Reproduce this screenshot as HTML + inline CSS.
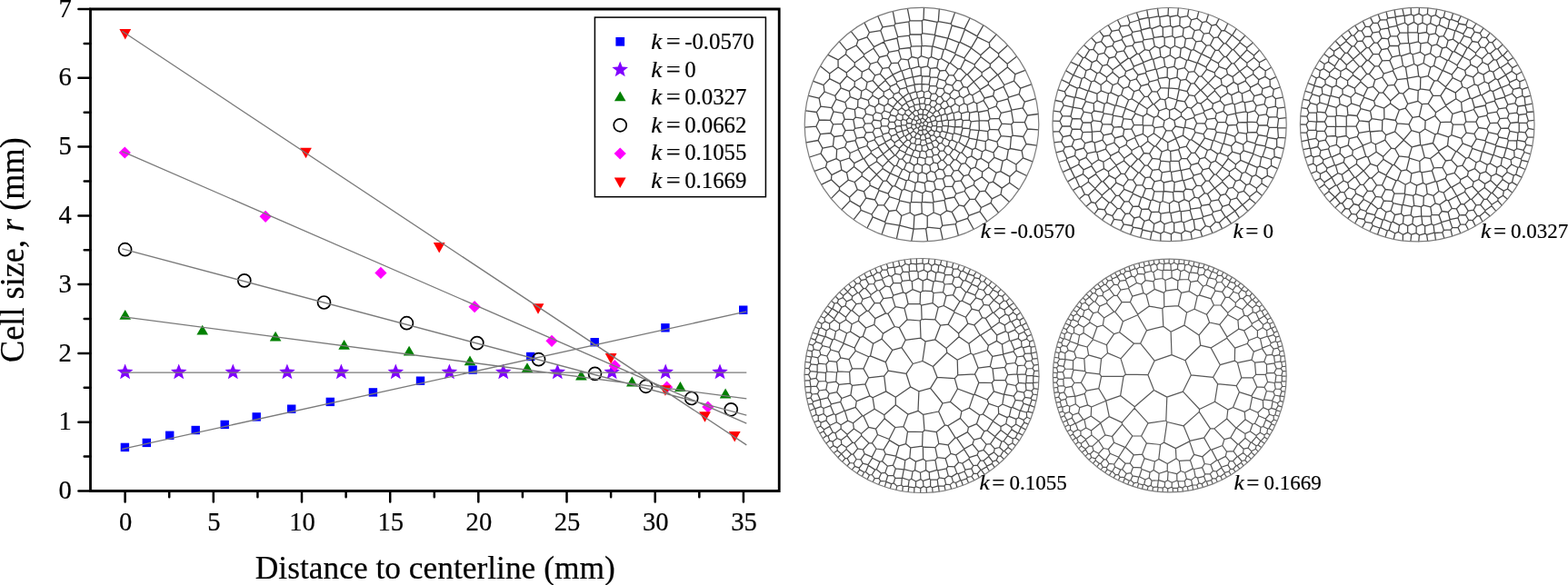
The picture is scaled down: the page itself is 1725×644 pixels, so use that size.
<!DOCTYPE html>
<html><head><meta charset="utf-8"><title>Cell size vs distance</title>
<style>html,body{margin:0;padding:0;background:#fff;overflow:hidden;width:1725px;height:644px;}svg{display:block;}text{stroke:#000;stroke-width:0.2px;}</style></head>
<body>
<svg width="1725" height="644" viewBox="0 0 1725 644">
<rect width="1725" height="644" fill="#fff"/>
<path d="M1014.5 222.4L1026.6 223.1M1027.2 234.0L1026.6 223.1M1027.2 234.0L1020.2 238.0M1014.5 222.4L1013.8 222.9M1020.2 238.0L1014.3 235.0M1013.8 222.9L1014.3 235.0M1018.6 251.7L1005.1 252.1M1018.6 251.7L1020.5 265.4M1002.8 265.1L1005.0 252.2M1020.2 238.0L1020.2 250.2M1020.2 250.2L1018.6 251.7M1014.3 235.0L1005.9 237.3M1005.9 237.3L1005.1 252.1M1001.2 234.0L1005.9 237.3M989.7 248.1L991.8 237.5M991.8 237.5L1001.2 234.0M989.7 248.1L1005.0 252.2M1122.7 97.2L1115.5 89.1M1121.1 103.7L1122.7 97.2M1121.1 103.7L1109.6 107.2M1109.6 107.2L1104.1 95.4M1104.1 95.4L1104.8 93.5M1104.8 93.5L1115.5 89.1M1122.7 97.2L1134.6 92.8M1127.8 77.3L1116.9 81.7M1115.5 89.1L1116.9 81.7M1020.2 250.2L1034.5 251.6M1037.1 263.5L1034.5 251.6M1034.6 236.8L1027.2 234.0M1034.6 236.8L1036.8 248.4M1036.8 248.4L1034.5 251.6M1014.5 222.4L1014.9 212.6M1027.2 222.4L1026.6 223.1M1027.2 222.4L1025.4 211.6M1025.4 211.6L1018.2 210.2M1014.9 212.6L1018.2 210.2M998.4 9.6L1001.0 22.6M1016.0 21.5L1014.4 22.8M1016.5 8.6L1016.0 21.5M1001.0 22.6L1014.4 22.8M1016.0 21.5L1031.1 24.4M1028.5 38.4L1014.7 36.7M1028.5 38.4L1031.1 24.4M1014.4 22.8L1014.7 36.7M939.2 241.6L947.2 231.4M959.0 236.0L947.2 231.4M959.0 236.0L960.2 238.9M960.2 238.9L954.1 250.8M1098.5 142.9L1102.1 136.2M1098.5 142.9L1088.9 142.3M1088.9 142.3L1087.3 133.0M1099.2 130.4L1089.1 130.8M1099.2 130.4L1102.1 136.2M1087.3 133.0L1089.1 130.8M1114.8 134.5L1112.6 121.8M1112.7 136.8L1114.8 134.5M1101.4 124.3L1112.6 121.8M1112.7 136.8L1102.1 136.2M1101.4 124.3L1099.2 130.4M1112.7 136.8L1114.1 149.2M1114.1 149.2L1112.4 150.6M1098.5 142.9L1101.2 149.6M1101.2 149.6L1112.4 150.6M1034.6 236.8L1041.5 232.0M1027.2 222.4L1039.0 220.3M1041.5 232.0L1039.0 220.3M1036.4 209.3L1029.3 208.2M1025.4 211.6L1029.3 208.2M1036.4 209.3L1039.9 219.0M1039.9 219.0L1039.0 220.3M1001.0 22.6L999.9 23.9M999.9 23.9L985.0 26.2M985.0 26.2L982.3 12.6M1038.2 54.7L1026.0 50.8M1038.2 54.7L1035.5 64.5M1024.5 62.6L1025.6 51.1M1024.5 62.6L1032.4 65.8M1025.6 51.1L1026.0 50.8M1032.4 65.8L1035.5 64.5M1042.7 42.2L1039.6 53.9M1039.6 53.9L1038.2 54.7M1028.8 39.0L1042.7 42.2M1028.8 39.0L1026.0 50.8M1121.1 103.7L1127.2 112.2M1139.3 108.6L1127.2 112.2M1109.6 107.2L1108.8 108.8M1108.8 108.8L1112.9 121.2M1112.9 121.2L1125.2 118.8M1127.2 112.2L1125.2 118.8M1086.9 121.4L1076.4 123.5M1086.9 121.4L1089.1 130.8M1087.3 133.0L1077.3 132.7M1076.4 123.5L1077.3 132.7M1059.7 107.8L1066.7 103.4M1059.7 107.8L1060.7 113.8M1064.0 115.5L1060.7 113.8M1064.0 115.5L1071.5 112.2M1071.5 112.2L1069.7 104.8M1066.7 103.4L1069.7 104.8M887.0 156.9L900.1 154.5M900.1 154.5L904.9 163.1M890.6 173.0L903.0 169.0M904.9 163.1L903.0 169.0M944.0 44.3L942.1 50.0M944.0 44.3L953.9 40.8M942.1 50.0L950.6 59.8M953.9 40.8L961.5 51.6M950.6 59.8L961.0 53.3M961.0 53.3L961.5 51.6M936.3 34.7L944.0 44.3M956.4 35.7L951.0 25.1M956.4 35.7L953.9 40.8M897.9 139.2L902.5 147.7M902.5 147.7L900.1 154.5M897.9 139.2L885.5 140.1M1036.8 248.4L1051.3 246.7M1051.3 246.7L1054.3 259.1M909.9 178.6L903.0 169.0M916.4 160.9L920.6 164.5M916.4 160.9L904.9 163.1M909.9 178.6L920.1 174.6M920.6 164.5L920.1 174.6M902.5 147.7L913.8 146.5M913.4 132.4L901.2 132.0M897.9 139.2L901.2 132.0M913.4 132.4L916.5 136.9M913.8 146.5L916.5 136.9M916.4 160.9L917.6 150.5M913.8 146.5L917.6 150.5M1013.8 222.9L1002.5 222.4M1001.2 234.0L1001.2 223.4M1001.2 223.4L1002.5 222.4M991.8 237.5L986.0 231.4M986.0 231.4L989.7 220.9M1001.2 223.4L989.7 220.9M1050.0 217.0L1039.9 219.0M1051.8 213.3L1050.0 217.0M1051.8 213.3L1047.8 205.1M1036.4 209.3L1039.8 205.3M1039.8 205.3L1047.8 205.1M1062.4 207.6L1061.2 210.5M1062.4 207.6L1057.2 198.9M1051.8 213.3L1061.2 210.5M1057.2 198.9L1050.4 199.9M1047.8 205.1L1050.4 199.9M967.5 63.0L976.0 60.8M967.5 63.0L961.0 53.3M972.5 46.2L961.5 51.6M972.5 46.2L977.9 57.4M977.9 57.4L976.0 60.8M965.3 68.0L970.9 75.3M967.5 63.0L965.3 68.0M980.6 69.6L976.0 60.8M980.6 69.6L977.7 74.3M977.7 74.3L970.9 75.3M962.4 117.9L956.3 115.6M962.4 117.9L966.8 114.1M966.8 114.1L966.5 109.1M966.5 109.1L960.0 105.3M960.0 105.3L955.2 110.4M955.2 110.4L956.3 115.6M960.3 127.1L963.5 123.6M963.5 123.6L962.4 117.9M951.5 120.5L956.3 115.6M952.7 125.3L951.5 120.5M952.7 125.3L960.3 127.1M959.8 102.3L966.2 96.1M959.8 102.3L952.6 97.7M952.6 97.7L954.1 90.4M966.2 95.5L966.2 96.1M966.2 95.5L960.2 88.7M960.2 88.7L954.1 90.4M960.0 105.3L959.8 102.3M972.1 105.2L966.5 109.1M972.3 101.3L972.1 105.2M972.3 101.3L966.2 96.1M979.4 95.1L978.7 97.9M972.3 101.3L978.7 97.9M974.0 88.5L966.2 95.5M974.0 88.5L979.4 95.1M968.2 81.3L974.1 87.8M974.0 88.5L974.1 87.8M962.6 82.9L968.2 81.3M962.6 82.9L960.2 88.7M999.9 23.9L1001.2 38.0M1014.7 36.7L1013.4 37.9M1001.2 38.0L1013.4 37.9M1028.8 39.0L1028.5 38.4M1025.6 51.1L1014.2 50.3M1013.4 37.9L1014.2 50.3M1014.0 92.4L1014.4 84.0M1014.0 92.4L1006.1 93.0M1006.1 93.0L1004.4 84.8M1004.4 84.8L1013.3 83.0M1013.3 83.0L1014.4 84.0M1101.2 149.6L1096.9 156.1M1112.4 150.6L1111.3 163.5M1096.9 156.1L1098.0 161.0M1111.3 163.5L1109.3 164.9M1098.0 161.0L1109.3 164.9M1050.4 199.9L1046.3 193.4M1049.3 188.2L1046.3 193.4M1049.3 188.2L1054.2 187.3M1057.2 198.9L1060.3 193.7M1054.2 187.3L1060.3 193.7M1071.3 203.5L1072.0 199.6M1062.4 207.6L1071.3 203.5M1072.0 199.6L1065.5 192.3M1060.3 193.7L1065.5 192.3M983.8 27.9L971.0 29.8M983.8 27.9L987.7 40.6M986.9 42.0L987.7 40.6M986.9 42.0L972.9 45.4M972.9 45.4L968.8 33.6M968.8 33.6L971.0 29.8M965.9 18.0L971.0 29.8M985.0 26.2L983.8 27.9M1001.2 38.0L1000.2 39.2M1000.2 39.2L987.7 40.6M972.5 46.2L972.9 45.4M956.4 35.7L968.8 33.6M1142.4 142.9L1130.4 142.0M1130.4 142.0L1127.3 134.6M1127.3 134.6L1130.4 127.0M1130.4 127.0L1142.0 125.5M1125.7 150.5L1114.1 149.2M1125.7 150.5L1130.4 142.0M1114.8 134.5L1127.3 134.6M1125.2 118.8L1130.4 127.0M1112.6 121.8L1112.9 121.2M1060.7 113.8L1055.4 116.7M1055.0 122.7L1057.6 124.9M1055.4 116.7L1055.0 122.7M1064.0 115.5L1065.0 122.8M1057.6 124.9L1065.0 122.8M1074.6 114.0L1071.5 112.2M1075.3 122.5L1074.6 114.0M1075.3 122.5L1066.7 124.1M1065.0 122.8L1066.7 124.1M1066.3 132.1L1066.7 124.1M1066.3 132.1L1068.3 133.9M1075.3 122.5L1076.4 123.5M1068.3 133.9L1077.1 132.9M903.8 203.2L914.5 197.8M914.9 192.7L908.4 184.0M914.9 192.7L914.5 197.8M908.4 184.0L896.1 188.3M909.9 178.6L908.4 184.0M965.3 68.0L957.5 70.4M950.6 59.8L950.3 61.8M950.3 61.8L957.5 70.4M962.6 82.9L955.8 75.5M970.9 75.3L968.2 81.3M957.5 70.4L955.8 75.5M898.4 123.5L901.2 132.0M898.4 123.5L886.4 121.9M940.3 69.1L940.2 72.5M940.3 69.1L950.3 61.8M955.8 75.5L948.4 79.2M940.2 72.5L948.4 79.2M954.1 90.4L947.7 85.3M947.7 85.3L948.4 79.2M923.4 45.9L931.3 55.4M931.3 55.4L930.4 59.7M930.4 59.7L922.0 65.9M922.0 65.9L910.9 60.4M942.1 50.0L931.3 55.4M940.3 69.1L930.4 59.7M1041.5 232.0L1047.2 233.4M1050.0 217.0L1055.1 225.9M1047.2 233.4L1055.1 225.9M1051.3 246.7L1052.6 244.4M1047.2 233.4L1052.6 244.4M1071.1 252.2L1064.5 240.4M1052.6 244.4L1064.5 240.4M947.2 231.4L946.2 227.6M946.2 227.6L935.1 221.1M935.1 221.1L926.0 230.7M920.1 174.6L924.2 177.3M914.9 192.7L925.9 187.1M924.2 177.3L925.9 187.1M977.1 213.2L978.5 216.7M977.1 213.2L967.0 209.7M978.5 216.7L972.5 225.9M967.0 209.7L962.5 220.0M962.5 220.0L965.9 225.7M965.9 225.7L972.5 225.9M989.7 220.9L989.2 220.0M989.2 220.0L978.5 216.7M986.0 231.4L978.0 232.5M978.0 232.5L972.5 225.9M950.4 210.8L952.7 218.0M952.7 218.0L962.5 220.0M957.2 204.1L950.4 210.8M966.4 208.3L957.2 204.1M966.4 208.3L967.0 209.7M959.0 236.0L965.9 225.7M946.2 227.6L952.7 218.0M973.6 244.4L960.2 238.9M973.6 244.4L978.0 232.5M924.2 177.3L934.5 174.0M931.5 190.1L939.5 183.6M931.5 190.1L925.9 187.1M934.5 174.0L939.8 179.7M939.8 179.7L939.5 183.6M981.8 205.2L984.5 204.6M981.8 205.2L977.1 213.2M989.2 220.0L992.3 209.5M984.5 204.6L992.3 209.5M1018.2 210.2L1017.2 201.5M1029.3 208.2L1027.4 200.1M1017.2 201.5L1020.2 199.0M1027.4 200.1L1020.2 199.0M1096.9 156.1L1087.1 153.4M1088.9 142.3L1086.7 144.6M1087.1 153.4L1086.7 144.6M1077.1 132.9L1077.3 143.3M1086.7 144.6L1077.3 143.3M1049.0 124.5L1055.0 122.7M1057.6 124.9L1057.6 131.0M1049.0 124.5L1049.9 131.6M1049.9 131.6L1050.8 132.3M1050.8 132.3L1057.6 131.0M1066.3 132.1L1059.3 132.7M1059.3 132.7L1057.6 131.0M977.9 57.4L988.5 55.4M986.9 42.0L989.5 53.8M989.5 53.8L988.5 55.4M980.6 69.6L988.0 69.1M988.0 69.1L991.3 64.9M988.5 55.4L991.3 64.9M972.8 116.7L976.7 114.1M972.8 116.7L972.8 122.0M976.7 114.1L982.6 117.9M972.8 122.0L979.1 124.2M979.1 124.2L982.8 118.9M982.6 117.9L982.8 118.9M977.4 109.5L976.7 114.1M977.4 109.5L972.1 105.2M966.8 114.1L972.8 116.7M969.7 125.1L972.8 122.0M963.5 123.6L969.7 125.1M977.4 109.5L982.4 107.0M982.6 117.9L987.3 112.0M982.4 107.0L987.3 112.0M978.7 97.9L983.5 103.6M982.4 107.0L983.5 103.6M977.7 74.3L982.2 82.2M988.0 69.1L991.5 77.9M991.5 77.9L982.2 82.2M974.1 87.8L982.2 82.4M1013.1 74.5L1013.3 83.0M1010.9 73.1L1002.3 75.7M1013.1 74.5L1010.9 73.1M1004.4 84.8L1004.2 84.6M1004.2 84.6L1002.3 75.7M991.5 77.9L992.1 78.1M991.3 64.9L999.0 65.9M999.0 65.9L1001.0 75.0M1001.0 75.0L992.1 78.1M1116.9 81.7L1108.4 73.9M1104.8 93.5L1097.8 82.4M1097.8 82.4L1108.4 73.9M1118.4 62.2L1108.2 70.2M1108.2 70.2L1108.4 73.9M1044.1 69.6L1035.5 64.5M1044.1 69.6L1040.2 77.3M1032.4 65.8L1030.7 74.5M1040.2 77.3L1034.0 78.0M1030.7 74.5L1034.0 78.0M1020.4 72.8L1023.4 75.4M1021.8 64.3L1020.4 72.8M1021.8 64.3L1024.5 62.6M1030.7 74.5L1023.4 75.4M1013.1 74.5L1020.4 72.8M1014.4 84.0L1022.6 83.9M1023.4 75.4L1022.6 83.9M1063.2 81.9L1056.7 75.5M1063.2 81.9L1056.8 89.2M1049.1 83.0L1052.2 88.4M1049.1 83.0L1054.0 75.9M1054.0 75.9L1056.7 75.5M1056.8 89.2L1052.2 88.4M1072.1 71.0L1072.5 73.5M1064.3 82.0L1072.5 73.5M1061.5 65.7L1056.7 75.5M1061.5 65.7L1072.1 71.0M1064.3 82.0L1063.2 81.9M1043.9 82.7L1040.2 77.3M1044.1 69.6L1045.3 69.3M1043.9 82.7L1049.1 83.0M1045.3 69.3L1054.0 75.9M1125.7 150.5L1129.0 158.5M1140.4 160.1L1129.0 158.5M1111.3 163.5L1124.1 165.9M1129.0 158.5L1124.1 165.9M974.2 245.6L970.1 257.9M974.2 245.6L989.5 248.2M989.5 248.2L986.4 262.6M973.6 244.4L974.2 245.6M1077.3 143.3L1076.8 143.6M1074.9 153.9L1076.8 143.6M1087.1 153.4L1084.2 155.7M1084.2 155.7L1074.9 153.9M1078.3 98.6L1087.3 93.1M1078.3 98.6L1071.2 90.1M1080.1 83.1L1087.4 90.5M1080.1 83.1L1071.2 89.9M1087.4 90.5L1087.3 93.1M1069.7 104.8L1078.1 99.7M1078.1 99.7L1078.3 98.6M1064.1 96.4L1066.7 103.4M1064.1 96.4L1071.2 90.1M1080.2 79.8L1089.2 73.6M1097.4 82.3L1089.2 73.6M1080.2 79.8L1080.1 83.1M1097.4 82.3L1087.4 90.5M1080.2 79.8L1072.5 73.5M1064.3 82.0L1071.2 89.9M1093.8 99.8L1087.3 93.1M1104.1 95.4L1093.8 99.8M1097.8 82.4L1097.4 82.3M1059.8 95.5L1056.8 89.2M1059.8 95.5L1064.1 96.4M1092.6 105.5L1083.1 108.0M1092.6 105.5L1097.3 112.1M1087.7 120.0L1082.0 110.7M1087.7 120.0L1096.0 116.8M1082.0 110.7L1083.1 108.0M1097.3 112.1L1096.0 116.8M1078.1 99.7L1083.1 108.0M1093.8 99.8L1092.6 105.5M1108.8 108.8L1097.3 112.1M1074.6 114.0L1082.0 110.7M1086.9 121.4L1087.7 120.0M1101.4 124.3L1096.0 116.8M1065.8 237.3L1060.5 227.0M1065.8 237.3L1078.0 232.9M1060.5 227.0L1066.9 219.3M1078.0 232.9L1079.4 228.5M1079.4 228.5L1072.7 219.3M1066.9 219.3L1072.7 219.3M1055.1 225.9L1060.5 227.0M1064.5 240.4L1065.8 237.3M1085.7 243.7L1078.0 232.9M1061.2 210.5L1066.9 219.3M1071.3 203.5L1077.8 210.9M1077.8 210.9L1072.7 219.3M934.5 217.3L923.5 209.2M934.5 217.3L943.3 208.7M943.3 208.7L940.2 200.5M923.5 206.3L923.5 209.2M923.5 206.3L933.2 198.2M940.2 200.5L933.2 198.2M935.1 221.1L934.5 217.3M914.5 218.4L923.5 209.2M950.4 210.8L943.3 208.7M957.2 204.1L956.7 200.1M948.2 193.7L956.7 200.1M948.2 193.7L940.2 200.5M914.5 197.8L923.5 206.3M931.5 190.1L933.2 198.2M948.3 190.6L939.5 183.6M948.2 193.7L948.3 190.6M966.4 208.3L971.6 199.4M956.7 200.1L964.3 192.2M971.6 199.4L964.3 192.2M981.8 205.2L975.3 198.8M971.6 199.4L975.3 198.8M969.7 125.1L971.0 130.2M971.0 130.2L968.8 133.2M960.3 127.1L961.0 132.0M961.0 132.0L968.8 133.2M920.6 164.5L929.5 161.9M934.5 174.0L935.2 168.5M929.5 161.9L935.2 168.5M917.6 150.5L927.2 149.2M927.2 149.2L931.5 156.5M929.5 161.9L931.5 156.5M916.5 136.9L926.4 136.4M927.2 149.2L930.0 143.6M930.0 143.6L926.4 136.4M930.0 143.6L939.3 143.1M931.5 156.5L940.9 154.6M940.9 154.6L942.3 152.1M942.3 152.1L939.3 143.1M979.1 124.2L979.7 126.5M971.0 130.2L977.1 131.2M977.1 131.2L979.7 126.5M984.5 204.6L988.8 195.3M992.3 209.5L994.7 208.4M988.8 195.3L997.2 198.9M994.7 208.4L997.2 198.9M1002.5 222.4L1003.4 211.5M994.7 208.4L1003.4 211.5M1014.9 212.6L1006.1 209.6M1006.1 209.6L1003.4 211.5M1027.4 200.1L1030.6 196.7M1039.8 205.3L1037.4 196.8M1030.6 196.7L1037.4 196.8M1046.3 193.4L1040.2 193.7M1040.2 193.7L1037.4 196.8M1002.4 157.7L1000.7 154.6M1003.4 151.0L1000.7 154.6M1006.3 151.1L1003.4 151.0M1006.3 151.1L1007.8 152.8M1002.4 157.7L1006.5 158.1M1007.8 152.8L1006.5 158.1M1002.4 157.7L999.8 162.2M1006.8 165.1L1005.4 165.8M999.8 162.2L1005.4 165.8M1006.8 165.1L1008.1 159.6M1006.5 158.1L1008.1 159.6M1002.6 51.1L1013.7 50.7M1002.6 51.1L1001.4 52.5M1001.4 52.5L1003.0 62.5M1013.7 50.7L1013.5 61.6M1003.0 62.5L1009.7 64.2M1013.5 61.6L1009.7 64.2M1000.2 39.2L1002.6 51.1M1014.2 50.3L1013.7 50.7M989.5 53.8L1001.4 52.5M999.0 65.9L1003.0 62.5M1021.8 64.3L1013.5 61.6M1001.0 75.0L1002.3 75.7M1010.9 73.1L1009.7 64.2M983.5 103.6L988.8 101.6M988.8 101.6L993.3 106.9M993.3 106.9L987.5 112.0M1078.8 60.8L1088.9 51.4M1078.8 60.8L1078.9 62.6M1078.9 62.6L1089.4 70.5M1089.4 70.5L1098.8 62.1M1088.9 51.4L1098.5 58.9M1098.8 62.1L1098.5 58.9M1072.1 71.0L1078.9 62.6M1089.2 73.6L1089.4 70.5M1108.2 70.2L1098.8 62.1M1088.2 47.0L1088.9 51.4M1095.9 38.1L1088.2 47.0M1108.4 49.9L1098.5 58.9M1043.9 82.7L1039.9 89.1M1039.9 89.1L1032.4 86.9M1034.0 78.0L1031.4 85.4M1032.4 86.9L1031.4 85.4M1022.6 83.9L1023.5 84.9M1031.4 85.4L1023.5 84.9M1012.4 131.5L1013.4 134.8M1015.7 135.2L1013.4 134.8M1012.4 131.5L1014.9 130.1M1015.7 135.2L1018.1 132.9M1018.1 132.9L1018.1 132.5M1014.9 130.1L1018.1 132.5M1124.1 165.9L1125.5 173.9M1125.5 173.9L1135.8 177.9M1061.9 179.6L1064.1 173.9M1061.9 179.6L1068.1 185.8M1075.2 176.1L1072.9 184.2M1075.2 176.1L1068.7 171.9M1068.7 171.9L1064.1 173.9M1068.1 185.8L1072.9 184.2M1054.2 187.3L1057.6 180.5M1065.5 192.3L1068.1 185.8M1057.6 180.5L1061.9 179.6M1072.0 199.6L1080.3 194.8M1080.3 194.8L1080.7 189.2M1080.7 189.2L1072.9 184.2M1045.0 155.2L1039.6 152.1M1038.0 152.6L1039.6 152.1M1038.0 152.6L1035.9 157.4M1043.2 160.3L1045.0 155.2M1043.2 160.3L1040.1 161.4M1040.1 161.4L1035.9 157.4M1050.5 13.9L1046.1 26.2M1046.1 26.2L1032.3 23.6M1032.3 23.6L1033.3 10.1M1031.1 24.4L1032.3 23.6M1075.4 40.8L1088.2 47.0M1075.4 40.8L1068.5 52.6M1078.8 60.8L1068.5 52.9M1061.5 65.7L1060.8 63.8M1068.5 52.9L1060.8 63.8M1045.3 69.3L1051.2 59.9M1060.8 63.8L1051.2 59.9M1039.6 53.9L1050.7 58.7M1050.7 58.7L1051.2 59.9M1050.7 58.7L1055.3 46.8M1042.9 42.1L1055.3 46.8M1046.1 26.2L1047.3 28.0M1042.9 42.1L1047.3 28.0M1068.5 52.6L1056.1 46.4M1055.3 46.8L1056.1 46.4M1081.8 27.9L1075.0 39.9M1075.0 39.9L1061.4 32.4M1067.0 20.0L1061.1 31.9M1061.1 31.9L1061.4 32.4M1075.4 40.8L1075.0 39.9M1056.1 46.4L1061.4 32.4M1047.3 28.0L1061.1 31.9M889.5 105.4L901.1 108.2M898.4 123.5L902.9 117.1M902.9 117.1L901.1 108.2M975.3 198.8L979.3 190.9M988.7 194.8L988.8 195.3M988.7 194.8L979.6 190.8M996.4 169.4L1002.8 171.6M996.4 169.4L992.6 174.9M1002.8 171.6L1000.6 178.9M992.6 174.9L997.2 179.7M1000.6 178.9L997.2 179.7M996.0 168.2L996.4 169.4M996.0 168.2L998.7 162.6M1003.1 171.5L1005.4 165.8M998.7 162.6L999.8 162.2M1003.1 171.5L1002.8 171.6M1009.6 174.2L1003.1 171.5M1005.7 182.1L1009.3 180.1M1009.3 180.1L1009.6 174.2M1005.7 182.1L1000.6 178.9M998.7 162.6L993.7 158.7M1000.7 154.6L998.1 154.1M998.1 154.1L993.7 158.1M993.7 158.7L993.7 158.1M989.5 165.0L989.3 163.2M989.5 165.0L996.0 168.2M993.7 158.7L989.3 163.2M1008.4 146.9L1004.9 144.3M1008.4 146.9L1006.3 151.1M1003.4 151.0L1001.3 147.1M1001.3 147.1L1004.9 144.3M964.5 177.8L955.9 183.3M964.5 177.8L971.0 183.4M964.3 192.0L971.1 185.6M964.3 192.0L955.8 183.8M955.8 183.8L955.9 183.3M971.0 183.4L971.1 185.6M979.3 190.9L971.1 185.6M948.3 190.6L955.8 183.8M940.3 120.7L943.6 117.8M951.5 120.5L943.6 117.8M952.7 125.3L949.3 130.4M940.3 120.7L941.2 129.1M941.2 129.1L949.3 130.4M929.2 131.2L938.8 131.7M929.2 131.2L926.4 136.4M939.3 143.1L940.6 141.3M938.8 131.7L940.6 141.3M952.8 146.0L949.6 139.8M952.8 146.0L960.2 145.3M958.8 135.6L962.2 141.7M958.8 135.6L951.6 136.1M951.6 136.1L949.6 139.8M960.2 145.3L962.2 141.7M950.6 151.0L942.3 152.1M950.6 151.0L952.8 146.0M940.6 141.3L949.6 139.8M969.8 138.9L968.2 140.9M968.2 140.9L962.2 141.7M968.8 133.2L969.8 138.9M961.0 132.0L958.8 135.6M949.3 130.4L951.6 136.1M941.2 129.1L938.8 131.7M977.1 131.2L978.5 134.1M969.8 138.9L976.6 138.8M978.5 134.1L976.6 138.8M999.3 198.0L1007.2 201.4M999.3 198.0L1001.1 190.1M1010.2 191.4L1004.8 188.5M1010.2 191.4L1009.6 199.9M1009.6 199.9L1007.2 201.4M1004.8 188.5L1001.1 190.1M1006.1 209.6L1007.2 201.4M997.2 198.9L999.3 198.0M988.7 194.8L992.7 186.7M994.5 186.2L992.7 186.7M994.5 186.2L1001.1 190.1M1014.3 189.6L1014.6 182.3M1009.3 180.1L1014.6 182.3M1005.7 182.1L1004.8 188.5M1014.3 189.6L1010.2 191.4M1014.3 189.6L1019.2 191.6M1020.2 199.0L1019.2 191.6M1017.2 201.5L1009.6 199.9M994.5 186.2L997.2 179.7M1019.2 191.6L1023.9 188.3M1014.6 182.3L1018.1 180.3M1018.1 180.3L1022.8 182.2M1022.8 182.2L1023.9 188.3M1030.6 196.7L1028.4 189.8M1028.4 189.8L1023.9 188.3M1014.7 143.5L1015.4 147.7M1014.7 143.5L1011.1 143.3M1009.4 146.6L1011.1 143.3M1009.4 146.6L1013.0 149.1M1013.0 149.1L1015.4 147.7M1008.4 146.9L1009.4 146.6M1012.2 152.8L1007.8 152.8M1012.2 152.8L1013.0 149.1M1034.2 145.9L1033.9 149.9M1038.0 152.6L1033.9 149.9M1034.2 145.9L1036.4 144.3M1039.6 152.1L1041.6 145.9M1036.4 144.3L1041.6 145.9M1010.9 108.4L1009.4 107.5M1011.8 114.4L1010.9 108.4M1011.6 114.7L1011.8 114.4M1005.9 115.6L1011.6 114.7M1005.9 115.6L1003.5 110.2M1003.5 110.2L1009.4 107.5M995.0 87.1L997.6 95.3M994.9 87.0L986.7 90.1M997.6 95.3L997.1 96.3M997.1 96.3L990.1 98.1M990.1 98.1L986.1 92.2M986.1 92.2L986.7 90.1M1004.2 84.6L995.0 87.1M992.1 78.1L994.9 87.0M1005.9 93.3L1006.1 93.0M1005.9 93.3L997.6 95.3M982.2 82.4L986.7 90.1M988.8 101.6L990.1 98.1M979.4 95.1L986.1 92.2M1012.4 131.5L1011.3 131.2M1008.6 135.6L1011.7 136.4M1013.4 134.8L1011.7 136.4M1008.6 135.6L1008.3 133.3M1008.3 133.3L1011.3 131.2M1012.5 119.7L1011.6 114.7M1005.9 115.6L1005.4 116.5M1012.5 119.7L1009.5 121.9M1005.4 116.5L1006.9 121.3M1009.5 121.9L1006.9 121.3M1059.8 95.5L1054.7 100.3M1059.7 107.8L1056.0 105.6M1054.7 100.3L1056.0 105.6M1023.5 84.9L1022.1 93.1M1022.1 93.1L1014.1 92.5M1005.9 93.3L1007.2 100.9M1007.2 100.9L1008.4 101.6M1008.4 101.6L1014.2 99.9M1014.1 92.5L1014.2 99.9M1014.9 130.1L1015.5 126.2M1018.1 132.5L1020.8 129.1M1020.8 129.1L1019.4 126.7M1019.4 126.7L1015.5 126.2M1009.5 121.9L1010.8 125.9M1010.8 125.9L1015.2 126.0M1012.5 119.7L1015.6 121.1M1015.2 126.0L1015.6 121.1M1010.8 125.9L1009.6 127.4M1011.3 131.2L1009.6 127.4M1015.2 126.0L1015.5 126.2M1018.6 115.5L1016.9 113.9M1011.8 114.4L1016.9 113.9M1018.6 115.5L1017.6 120.1M1017.6 120.1L1015.6 121.1M1125.5 173.9L1117.9 181.0M1109.3 164.9L1107.6 175.2M1117.9 181.0L1107.6 175.2M1079.4 228.5L1090.1 223.4M1098.4 234.0L1090.1 223.4M1079.1 174.3L1087.7 179.6M1079.1 174.3L1080.7 167.0M1084.2 164.8L1080.7 167.0M1084.2 164.8L1092.9 168.0M1087.7 179.6L1093.9 173.3M1092.9 168.0L1093.9 173.3M1080.7 189.2L1087.6 184.3M1087.6 184.3L1087.7 179.6M1075.2 176.1L1079.1 174.3M1072.9 163.2L1080.7 167.0M1069.8 164.7L1072.9 163.2M1069.8 164.7L1068.7 171.9M1072.9 163.2L1074.9 153.9M1084.2 155.7L1084.2 164.8M1098.0 161.0L1092.9 168.0M1107.6 175.2L1103.2 177.2M1103.2 177.2L1093.9 173.3M1044.6 170.4L1049.3 176.0M1044.6 170.4L1048.6 164.7M1055.9 168.3L1050.1 164.4M1055.9 168.3L1051.9 175.7M1051.9 175.7L1049.3 176.0M1048.6 164.7L1050.1 164.4M1043.2 160.3L1048.6 164.7M1040.1 161.4L1038.2 165.8M1042.0 170.4L1038.2 165.8M1042.0 170.4L1044.6 170.4M1058.0 167.8L1055.9 168.3M1064.1 173.9L1058.0 167.8M1057.6 180.5L1051.9 175.7M1049.3 188.2L1044.9 181.7M1044.9 181.7L1049.3 176.0M1050.1 164.4L1053.1 157.0M1045.0 155.2L1047.4 154.1M1053.1 157.0L1047.4 154.1M1042.0 145.8L1041.6 145.9M1042.0 145.8L1048.3 147.7M1047.4 154.1L1048.3 147.7M947.7 85.3L940.3 89.8M940.2 72.5L931.2 79.9M940.3 89.8L931.7 83.8M931.2 79.9L931.7 83.8M922.0 65.9L922.1 74.0M931.2 79.9L922.1 74.0M902.7 72.9L912.7 81.0M922.1 74.0L912.7 81.0M934.3 100.4L940.1 95.1M934.3 100.4L935.3 106.6M935.3 106.6L943.9 109.9M940.1 95.1L947.9 100.2M947.9 100.2L946.9 107.7M946.9 107.7L943.9 109.9M952.6 97.7L947.9 100.2M940.3 89.8L940.1 95.1M955.2 110.4L946.9 107.7M943.6 117.8L943.9 109.9M929.7 112.6L931.6 118.9M929.7 112.6L919.9 109.3M919.9 109.3L914.9 118.6M927.2 124.7L931.6 118.9M927.2 124.7L917.0 122.8M917.0 122.8L914.9 118.6M935.3 106.6L929.7 112.6M940.3 120.7L931.6 118.9M929.2 131.2L927.2 124.7M913.4 132.4L917.0 122.8M902.9 117.1L914.9 118.6M1000.4 146.9L998.0 142.7M1000.4 146.9L996.0 150.0M998.0 142.7L992.8 144.3M992.8 144.3L994.5 149.5M996.0 150.0L994.5 149.5M998.1 154.1L996.0 150.0M1001.3 147.1L1000.4 146.9M1010.0 141.2L1008.2 140.5M1010.0 141.2L1011.1 143.3M1004.9 144.3L1004.9 142.7M1004.9 142.7L1008.2 140.5M1012.3 138.7L1010.0 141.2M1012.3 138.7L1011.7 136.4M1008.6 135.6L1007.3 137.3M1008.2 140.5L1007.3 137.3M1006.9 121.3L1003.9 124.2M1009.6 127.4L1006.6 127.8M1003.9 124.2L1006.6 127.8M1008.3 133.3L1005.0 131.3M1005.0 131.3L1006.6 127.8M982.8 118.9L987.8 121.7M987.5 112.0L992.3 116.6M992.3 116.6L992.0 118.7M987.8 121.7L992.0 118.7M977.3 177.0L983.8 182.8M977.3 177.0L977.3 176.5M977.3 176.5L984.3 170.9M986.3 182.2L989.4 175.1M986.3 182.2L983.8 182.8M989.4 175.1L985.2 170.9M985.2 170.9L984.3 170.9M971.0 183.4L977.3 177.0M979.6 190.8L983.8 182.8M964.8 174.4L971.6 169.8M971.6 169.8L977.3 176.5M964.5 177.8L964.8 174.4M978.7 164.0L984.3 170.9M978.5 164.0L971.7 169.5M971.6 169.8L971.7 169.5M992.7 186.7L986.3 182.2M992.6 174.9L989.4 175.1M989.5 165.0L985.2 170.9M989.3 163.2L984.2 159.9M984.2 159.9L978.7 164.0M973.6 157.1L966.7 160.6M973.6 157.1L978.5 164.0M971.7 169.5L966.4 162.0M966.7 160.6L966.4 162.0M963.0 151.7L960.2 145.3M963.0 151.7L962.1 153.9M950.6 151.0L954.8 156.5M962.1 153.9L954.8 156.5M976.6 138.8L978.6 142.0M978.6 142.0L977.5 146.2M968.2 140.9L971.3 147.9M977.5 146.2L971.3 147.9M966.7 160.6L962.1 153.9M963.0 151.7L970.6 149.5M973.6 157.1L973.9 156.3M973.9 156.3L970.6 149.5M970.6 149.5L971.3 147.9M986.3 147.7L989.6 152.7M986.3 147.7L980.6 149.8M984.2 156.9L989.4 153.5M984.2 156.9L980.2 153.2M989.4 153.5L989.6 152.7M980.2 153.2L980.6 149.8M986.8 146.1L986.3 147.7M986.8 146.1L992.6 144.2M994.5 149.5L989.6 152.7M984.5 141.4L978.6 142.0M977.5 146.2L980.6 149.8M986.8 146.1L984.5 141.4M993.7 158.1L989.4 153.5M984.2 159.9L984.2 156.9M973.9 156.3L980.2 153.2M984.5 141.4L985.8 139.1M978.5 134.1L984.0 134.5M985.8 139.1L984.0 134.5M992.6 144.2L991.1 138.5M985.8 139.1L991.1 138.5M1031.3 179.9L1032.8 186.0M1031.3 179.9L1035.5 176.3M1035.5 176.3L1037.5 176.4M1037.5 176.4L1042.2 181.6M1042.2 181.6L1037.5 187.1M1037.5 187.1L1032.8 186.0M1022.8 182.2L1027.0 178.9M1027.0 178.9L1031.3 179.9M1028.4 189.8L1032.8 186.0M1042.0 170.4L1037.5 176.4M1044.9 181.7L1042.2 181.6M1040.2 193.7L1037.5 187.1M1027.3 148.6L1030.2 151.6M1027.3 148.6L1023.8 149.5M1022.9 151.8L1023.8 149.5M1022.9 151.8L1025.4 155.9M1025.4 155.9L1029.6 154.0M1030.2 151.6L1029.6 154.0M1018.7 152.7L1017.4 148.4M1018.7 152.7L1022.9 151.8M1020.9 146.0L1023.8 149.5M1017.4 148.4L1020.9 146.0M1033.9 149.9L1030.2 151.6M1035.9 157.4L1033.1 158.0M1033.1 158.0L1029.6 154.0M1020.9 146.0L1021.0 145.5M1015.4 147.7L1017.4 148.4M1014.7 143.5L1015.2 143.0M1021.0 145.5L1018.6 142.6M1015.2 143.0L1018.6 142.6M1012.3 138.7L1014.7 139.4M1015.2 143.0L1014.7 139.4M1015.7 135.2L1016.4 137.9M1016.4 137.9L1014.7 139.4M1018.1 132.9L1020.8 135.1M1022.9 129.5L1024.5 134.1M1022.9 129.5L1020.8 129.1M1020.8 135.1L1024.5 134.1M1016.4 137.9L1019.8 138.9M1020.8 135.1L1019.8 138.9M1018.6 142.6L1019.8 139.0M993.6 106.9L997.3 112.6M993.6 106.9L999.6 102.7M999.6 102.7L1000.7 103.2M1000.7 103.2L1003.3 110.1M997.3 112.6L1003.3 110.1M997.1 113.3L992.3 116.6M997.1 113.3L997.3 112.6M993.3 106.9L993.6 106.9M997.1 96.3L999.6 102.7M1007.2 100.9L1000.7 103.2M1009.4 107.5L1008.4 101.6M1005.4 116.5L1000.3 118.3M997.1 113.3L1000.3 118.3M1014.2 99.9L1016.6 101.5M1010.9 108.4L1016.3 106.8M1016.6 101.5L1016.3 106.8M1016.9 113.9L1018.0 108.4M1016.3 106.8L1018.0 108.4M1032.1 122.3L1029.7 121.8M1034.4 126.7L1032.1 122.3M1029.2 129.1L1026.5 126.8M1026.5 126.8L1026.4 125.3M1034.4 126.7L1029.2 129.1M1029.7 121.8L1026.4 125.3M1022.9 129.5L1026.5 126.8M1019.4 126.7L1022.0 122.5M1026.4 125.3L1022.0 122.5M1017.6 120.1L1022.0 122.5M1023.0 108.3L1018.0 108.4M1018.6 115.5L1022.7 115.1M1023.0 108.3L1024.5 110.5M1024.5 110.5L1022.7 115.1M1022.0 122.5L1024.6 117.7M1022.7 115.1L1024.6 117.7M1029.7 121.8L1027.8 118.1M1024.6 117.7L1027.8 118.1M1055.4 116.7L1050.9 114.2M1056.0 105.6L1050.1 109.5M1050.9 114.2L1050.1 109.5M1077.8 210.9L1083.8 210.2M1080.3 194.8L1087.9 201.4M1087.9 201.4L1083.8 210.2M1090.1 223.4L1091.3 218.8M1083.8 210.2L1091.3 218.8M1091.3 218.8L1101.0 214.0M1101.0 214.0L1110.3 222.2M1048.3 147.7L1049.7 146.6M1042.0 145.8L1043.3 138.9M1043.3 138.9L1050.3 139.9M1049.7 146.6L1050.3 139.9M1043.5 132.7L1043.3 138.9M1049.9 131.6L1043.5 132.7M1050.8 132.3L1050.8 139.5M1050.3 139.9L1050.8 139.5M1059.3 132.7L1058.2 139.9M1050.8 139.5L1058.2 139.9M1049.7 146.6L1057.1 148.7M1058.2 139.9L1059.1 141.0M1057.1 148.7L1059.1 141.0M1068.3 133.9L1066.7 141.7M1059.1 141.0L1066.7 141.7M1076.8 143.6L1067.4 142.6M1066.7 141.7L1067.4 142.6M1054.8 156.5L1057.4 149.2M1054.8 156.5L1062.0 161.1M1062.3 160.9L1066.4 152.1M1062.3 160.9L1062.0 161.1M1057.4 149.2L1065.8 151.1M1066.4 152.1L1065.8 151.1M1053.1 157.0L1054.8 156.5M1057.1 148.7L1057.4 149.2M1058.0 167.8L1062.0 161.1M1069.8 164.7L1062.3 160.9M1074.9 153.9L1066.4 152.1M1067.4 142.6L1065.8 151.1M912.6 86.7L924.1 92.3M912.6 86.7L906.0 93.6M906.0 93.6L907.1 101.0M907.1 101.0L918.7 105.5M918.7 105.5L925.1 96.8M925.1 96.8L924.1 92.3M931.7 83.8L924.1 92.3M912.7 81.0L912.6 86.7M894.7 89.3L906.0 93.6M901.1 108.2L907.1 101.0M919.9 109.3L918.7 105.5M934.3 100.4L925.1 96.8M991.1 138.5L991.6 137.9M991.6 137.9L996.7 137.6M998.0 142.7L998.4 141.6M996.7 137.6L998.4 141.6M1004.9 142.7L1002.5 140.3M998.4 141.6L1002.5 140.3M1007.3 137.3L1003.2 136.9M1002.5 140.3L1003.2 136.9M1000.3 118.3L999.6 120.5M1003.9 124.2L1003.5 124.2M999.6 120.5L1003.5 124.2M992.0 118.7L996.2 122.1M999.6 120.5L996.2 122.1M953.8 160.5L958.4 166.5M953.8 160.5L944.5 163.7M958.2 168.5L958.4 166.5M958.2 168.5L950.5 174.8M944.2 164.5L944.5 163.7M944.2 164.5L949.6 174.6M949.6 174.6L950.5 174.8M966.4 162.0L958.4 166.5M954.8 156.5L953.8 160.5M940.9 154.6L944.5 163.7M964.8 174.4L958.2 168.5M955.9 183.3L950.5 174.8M935.2 168.5L944.2 164.5M939.8 179.7L949.6 174.6M996.2 122.1L995.6 125.2M1003.5 124.2L999.7 128.1M995.6 125.2L999.7 128.1M985.7 128.1L986.3 131.6M985.7 128.1L988.2 125.2M986.3 131.6L991.2 133.0M988.2 125.2L993.0 127.0M993.0 127.0L993.2 131.3M991.2 133.0L993.2 131.3M979.7 126.5L985.7 128.1M984.0 134.5L986.3 131.6M987.8 121.7L988.2 125.2M991.6 137.9L991.2 133.0M995.6 125.2L993.0 127.0M1018.6 167.1L1014.2 165.9M1018.6 167.1L1019.8 172.6M1011.5 172.8L1012.2 167.2M1011.5 172.8L1017.9 174.6M1012.2 167.2L1014.2 165.9M1017.9 174.6L1019.8 172.6M1009.6 174.2L1011.5 172.8M1006.8 165.1L1012.2 167.2M1018.1 180.3L1017.9 174.6M1025.4 172.8L1027.0 178.9M1025.4 172.8L1019.8 172.6M1012.2 152.8L1013.3 154.1M1018.7 152.7L1018.0 153.8M1018.0 153.8L1013.3 154.1M1008.1 159.6L1012.4 159.0M1013.3 154.1L1012.4 159.0M1014.2 165.9L1014.2 160.6M1012.4 159.0L1014.2 160.6M1038.2 165.8L1033.9 166.4M1033.1 158.0L1030.8 162.2M1030.8 162.2L1033.9 166.4M1035.5 176.3L1031.7 170.1M1033.9 166.4L1031.7 170.1M1025.4 172.8L1027.0 170.8M1031.7 170.1L1027.0 170.8M1029.2 129.1L1029.3 132.3M1024.6 134.2L1029.3 132.3M1022.1 93.1L1022.9 94.3M1016.6 101.5L1021.6 100.0M1022.9 94.3L1021.6 100.0M1032.4 86.9L1030.0 94.8M1022.9 94.3L1030.0 94.8M1023.0 108.3L1024.7 103.3M1021.6 100.0L1024.7 103.3M1049.0 124.5L1047.9 123.9M1050.9 114.2L1045.9 117.6M1045.9 117.6L1047.9 123.9M1042.5 131.8L1043.5 132.7M1042.5 131.8L1041.7 126.3M1047.9 123.9L1041.7 126.3M1024.5 110.5L1029.3 111.1M1027.8 118.1L1030.9 114.2M1029.3 111.1L1030.9 114.2M1117.9 181.0L1118.1 187.8M1118.1 187.8L1129.5 193.5M1102.2 207.1L1110.6 201.3M1102.2 207.1L1092.5 200.1M1092.5 200.1L1096.1 190.2M1110.8 194.4L1110.6 201.3M1110.8 194.4L1100.8 188.6M1096.1 190.2L1100.8 188.6M1120.8 208.5L1110.6 201.3M1101.0 214.0L1102.2 207.1M1087.9 201.4L1092.5 200.1M1087.6 184.3L1096.1 190.2M1118.1 187.8L1110.8 194.4M1103.2 177.2L1100.8 188.6M999.9 129.5L997.1 132.5M999.9 129.5L1003.9 131.7M1003.9 131.7L1002.6 135.9M1002.6 135.9L998.0 135.5M998.0 135.5L997.1 132.5M993.2 131.3L997.1 132.5M999.7 128.1L999.9 129.5M1005.0 131.3L1003.9 131.7M1003.2 136.9L1002.6 135.9M996.7 137.6L998.0 135.5M1027.3 162.1L1024.7 164.7M1027.3 162.1L1024.9 157.0M1024.9 157.0L1019.7 158.4M1021.5 164.5L1019.3 159.2M1021.5 164.5L1024.7 164.7M1019.7 158.4L1019.3 159.2M1030.8 162.2L1027.3 162.1M1027.0 170.8L1024.7 164.7M1025.4 155.9L1024.9 157.0M1018.0 153.8L1019.7 158.4M1018.6 167.1L1021.5 164.5M1014.2 160.6L1019.3 159.2M1029.3 132.3L1031.0 133.8M1035.3 127.1L1034.4 126.7M1035.3 127.1L1035.8 133.1M1031.0 133.8L1035.8 133.1M1041.7 126.3L1039.9 125.4M1035.3 127.1L1039.9 125.4M1042.5 131.8L1036.1 133.4M1035.8 133.1L1036.1 133.4M1043.3 138.9L1037.2 138.3M1036.1 133.4L1037.2 138.3M1036.4 144.3L1036.1 139.6M1036.1 139.6L1037.2 138.3M1024.4 140.3L1025.8 138.4M1024.4 140.3L1024.6 142.9M1025.8 138.4L1030.4 138.7M1024.6 142.9L1028.1 144.9M1030.0 143.9L1028.1 144.9M1030.0 143.9L1030.8 139.3M1030.8 139.3L1030.4 138.7M1019.8 139.0L1024.4 140.3M1024.6 134.2L1025.8 138.4M1021.0 145.5L1024.6 142.9M1031.0 133.8L1030.4 138.7M1027.3 148.6L1028.1 144.9M1034.2 145.9L1030.0 143.9M1036.1 139.6L1030.8 139.3M1052.2 88.4L1047.6 94.2M1039.9 89.1L1041.2 92.5M1041.2 92.5L1047.6 94.2M1054.7 100.3L1049.3 98.6M1047.6 94.2L1049.3 98.6M1024.7 103.3L1029.3 102.8M1030.0 94.8L1031.6 96.9M1029.3 102.8L1031.6 96.9M1029.3 111.1L1032.2 106.3M1029.3 102.8L1032.2 106.3M1041.2 92.5L1037.8 97.6M1031.6 96.9L1037.8 97.6M1032.1 122.3L1035.8 118.7M1030.9 114.2L1034.5 115.2M1035.8 118.7L1034.5 115.2M1039.9 125.4L1039.1 120.1M1035.8 118.7L1039.1 120.1M1045.9 117.6L1043.6 116.9M1039.1 120.1L1043.6 116.9M1035.3 106.4L1039.3 101.6M1035.3 106.4L1038.3 111.2M1041.2 111.6L1038.3 111.2M1041.2 111.6L1045.6 107.1M1039.3 101.6L1044.8 103.8M1045.6 107.1L1044.8 103.8M1032.2 106.3L1035.3 106.4M1037.8 97.6L1039.3 101.6M1034.5 115.2L1038.3 111.2M1043.6 116.9L1041.2 111.6M1050.1 109.5L1045.6 107.1M1049.3 98.6L1044.8 103.8" stroke="#4a4a4a" stroke-width="1.3" fill="none" stroke-linecap="round"/>
<circle cx="1014.0" cy="137.1" r="128.8" fill="none" stroke="#7c7c7c" stroke-width="1.2"/>
<path d="M1267.9 138.0L1269.6 129.3M1273.5 127.6L1269.6 129.3M1281.0 132.8L1273.5 127.6M1267.9 138.0L1270.2 140.7M1281.0 132.8L1279.7 139.3M1270.2 140.7L1279.7 139.3M1244.7 141.8L1249.1 150.2M1257.4 147.4L1249.1 150.2M1257.4 147.4L1257.8 138.2M1244.7 141.8L1247.4 137.6M1257.8 138.2L1257.1 137.5M1257.1 137.5L1247.4 137.6M1388.0 201.9L1382.4 207.2M1388.2 197.1L1388.0 201.9M1381.6 192.7L1388.2 197.1M1381.6 192.7L1377.5 194.3M1377.5 194.3L1374.7 202.3M1374.7 202.3L1382.4 207.2M1257.8 138.2L1267.9 138.0M1270.2 140.7L1269.3 146.7M1257.4 147.4L1262.5 151.2M1262.5 151.2L1269.3 146.7M1244.7 141.8L1236.7 142.5M1236.7 142.5L1235.5 149.5M1235.5 149.5L1239.9 155.3M1249.1 150.2L1248.5 151.5M1239.9 155.3L1248.5 151.5M1169.3 150.7L1177.5 149.0M1169.3 150.7L1165.3 144.6M1165.3 144.6L1168.5 138.9M1168.5 138.9L1177.5 139.0M1177.5 139.0L1179.5 142.0M1177.5 149.0L1179.5 142.0M1284.7 156.8L1278.6 152.5M1284.7 156.8L1293.5 152.7M1278.6 152.5L1282.9 143.6M1293.5 152.7L1293.6 152.4M1293.6 152.4L1289.2 143.8M1282.9 143.6L1289.2 143.8M1269.3 146.7L1277.5 152.7M1277.5 152.7L1278.6 152.5M1279.7 139.3L1282.9 143.6M1236.2 246.9L1232.7 253.5M1236.2 246.9L1245.4 248.5M1243.7 258.0L1246.5 250.2M1245.4 248.5L1246.5 250.2M1216.4 164.1L1206.7 167.6M1216.4 164.1L1221.8 171.4M1221.8 171.4L1221.3 173.8M1221.3 173.8L1213.8 178.2M1206.7 167.6L1208.6 175.8M1208.6 175.8L1213.8 178.2M1230.6 166.8L1236.7 174.2M1230.6 166.8L1221.8 171.4M1236.5 177.0L1236.7 174.2M1228.0 181.9L1221.3 173.8M1228.0 181.9L1236.5 177.0M1201.2 180.8L1208.6 175.8M1201.2 180.8L1194.8 173.3M1194.8 173.3L1196.3 168.8M1206.7 167.6L1205.5 166.9M1205.5 166.9L1196.3 168.8M1243.0 183.2L1236.5 177.0M1237.4 191.6L1243.0 183.2M1237.4 191.6L1233.2 191.2M1228.0 181.9L1227.9 182.5M1227.9 182.5L1233.2 191.2M1220.0 223.0L1212.3 216.4M1212.3 216.4L1205.0 223.7M1220.0 223.0L1215.2 230.9M1215.2 230.9L1208.1 230.0M1205.0 223.7L1208.1 230.0M1200.8 182.9L1205.8 190.2M1201.2 180.8L1200.8 182.9M1213.8 178.2L1214.5 185.6M1205.8 190.2L1214.5 185.6M1227.9 182.5L1219.3 188.8M1214.5 185.6L1219.3 188.8M1233.2 191.2L1227.1 196.8M1227.1 196.8L1220.1 193.2M1220.1 193.2L1219.3 188.8M1205.0 223.7L1200.6 222.5M1200.6 222.5L1197.4 214.8M1212.3 216.4L1212.2 214.9M1212.2 214.9L1204.8 208.1M1204.8 208.1L1197.4 214.8M1222.2 248.1L1225.5 241.3M1236.2 246.9L1234.2 242.7M1234.2 242.7L1225.5 241.3M1238.1 235.5L1234.2 242.7M1238.1 235.5L1242.5 234.9M1245.4 248.5L1247.8 240.0M1242.5 234.9L1247.8 240.0M1246.5 250.2L1256.3 252.0M1256.3 252.0L1259.0 243.3M1259.0 243.3L1253.7 238.7M1253.7 238.7L1247.8 240.0M1266.7 233.5L1264.2 241.8M1264.2 241.8L1259.0 243.3M1263.5 230.0L1256.0 230.3M1263.5 230.0L1266.7 233.5M1253.7 238.7L1256.0 230.3M1217.5 235.4L1215.2 230.9M1217.5 235.4L1223.8 237.7M1223.8 237.7L1229.3 229.6M1220.0 223.0L1222.2 222.7M1222.2 222.7L1229.3 229.6M1238.1 235.5L1232.5 229.4M1225.5 241.3L1223.8 237.7M1229.3 229.6L1232.5 229.4M1200.6 222.5L1195.2 227.1M1193.3 213.9L1197.4 214.8M1193.3 213.9L1187.6 218.7M1208.1 230.0L1204.2 235.4M1217.5 235.4L1212.6 241.9M1230.9 32.8L1223.1 34.4M1230.9 32.8L1232.9 28.9M1223.1 34.4L1219.3 27.9M1232.9 28.9L1229.6 22.2M1225.6 46.3L1234.2 43.6M1225.6 46.3L1220.7 38.8M1223.1 34.4L1220.7 38.8M1230.9 32.8L1235.0 41.2M1235.0 41.2L1234.2 43.6M1377.5 194.3L1370.0 189.5M1374.7 202.3L1370.9 203.6M1370.9 203.6L1364.1 197.8M1370.0 189.5L1366.5 190.7M1366.5 190.7L1364.1 197.8M1404.6 153.0L1394.5 151.4M1404.6 153.0L1406.4 151.3M1406.4 151.3L1405.6 140.7M1394.5 151.4L1393.7 150.1M1393.7 150.1L1396.2 140.4M1396.2 140.4L1405.3 140.3M1405.3 140.3L1405.6 140.7M1414.0 151.9L1406.4 151.3M1414.8 140.8L1405.6 140.7M1388.0 201.9L1394.7 206.2M1388.2 197.1L1394.4 193.4M1394.4 193.4L1400.5 196.2M1387.6 173.0L1385.8 182.9M1387.6 173.0L1388.9 172.4M1388.9 172.4L1398.5 175.5M1385.8 182.9L1394.0 186.1M1398.5 175.5L1398.6 182.3M1394.0 186.1L1398.6 182.3M1381.6 192.7L1383.2 184.4M1394.4 193.4L1394.0 186.1M1383.2 184.4L1385.8 182.9M1405.4 185.7L1398.6 182.3M1308.7 154.3L1305.1 161.2M1308.7 154.3L1301.4 149.1M1301.4 149.1L1293.6 152.4M1293.5 152.7L1297.8 162.8M1305.1 161.2L1297.8 162.8M1310.4 181.6L1318.1 179.5M1318.1 179.5L1320.0 174.8M1310.4 181.6L1305.9 174.7M1310.6 168.4L1305.9 174.7M1310.6 168.4L1314.6 168.1M1320.0 174.8L1314.6 168.1M1297.8 28.1L1290.0 30.0M1297.8 28.1L1298.2 19.2M1287.1 18.5L1295.6 16.9M1287.1 18.5L1287.7 28.4M1287.7 28.4L1290.0 30.0M1298.2 19.2L1295.6 16.9M1285.0 17.0L1285.4 8.8M1285.0 17.0L1287.1 18.5M1296.3 9.2L1295.6 16.9M1275.8 18.7L1285.0 17.0M1275.8 18.7L1276.4 28.1M1279.2 30.1L1276.4 28.1M1279.2 30.1L1287.7 28.4M1306.5 17.6L1307.7 10.5M1306.5 17.6L1298.2 19.2M1306.5 17.6L1310.6 21.9M1310.6 21.9L1316.9 20.2M1318.7 12.9L1316.9 20.2M1311.7 41.8L1314.2 33.6M1311.7 41.8L1304.4 42.7M1304.4 42.7L1301.2 39.6M1301.2 39.6L1302.1 31.2M1302.1 31.2L1308.7 28.9M1308.7 28.9L1314.2 33.6M1315.8 45.9L1321.6 45.1M1324.4 37.1L1321.6 45.1M1319.8 32.6L1324.4 37.1M1319.8 32.6L1314.2 33.6M1315.8 45.9L1311.7 41.8M1292.5 41.7L1301.2 39.6M1289.9 39.7L1292.5 41.7M1289.9 39.7L1290.0 30.0M1297.8 28.1L1302.1 31.2M1310.6 21.9L1308.7 28.9M1316.9 20.2L1322.7 24.7M1319.8 32.6L1322.7 24.7M1177.5 139.0L1179.6 130.5M1179.6 130.5L1177.9 128.0M1168.5 138.9L1165.9 133.3M1177.9 128.0L1168.7 127.6M1168.7 127.6L1165.9 133.3M1194.8 173.3L1187.4 176.7M1192.0 186.8L1200.8 182.9M1192.0 186.8L1186.8 181.0M1187.4 176.7L1186.8 181.0M1165.9 133.3L1158.4 133.2M1165.3 144.6L1158.5 145.0M1167.7 155.8L1169.3 150.7M1167.7 155.8L1159.8 156.9M1247.4 137.6L1245.1 131.7M1245.1 131.7L1235.9 130.7M1236.7 142.5L1233.8 139.5M1233.8 139.5L1235.9 130.7M1235.5 149.5L1226.5 152.0M1225.2 140.1L1233.8 139.5M1225.2 140.1L1223.0 147.0M1223.0 147.0L1226.5 152.0M1231.5 163.0L1230.6 166.8M1231.5 163.0L1225.8 157.0M1216.4 164.1L1217.3 160.1M1217.3 160.1L1225.8 157.0M1239.9 155.3L1238.9 159.4M1231.5 163.0L1238.9 159.4M1225.8 157.0L1226.5 152.0M1236.7 174.2L1244.9 168.6M1238.9 159.4L1245.1 165.5M1244.9 168.6L1245.1 165.5M1248.5 151.5L1253.1 161.0M1245.1 165.5L1253.1 161.0M1262.5 151.2L1262.8 155.4M1262.8 155.4L1255.1 161.6M1255.1 161.6L1253.1 161.0M1301.4 149.1L1302.5 140.9M1289.2 143.8L1293.1 139.0M1293.1 139.0L1302.5 140.9M1276.7 243.3L1269.7 246.4M1276.7 243.3L1277.0 235.2M1266.7 233.5L1274.8 233.2M1264.2 241.8L1269.7 246.4M1277.0 235.2L1274.8 233.2M1269.7 246.4L1268.8 254.3M1268.8 254.3L1276.9 257.1M1276.9 257.1L1280.4 255.0M1276.7 243.3L1281.0 246.7M1281.0 246.7L1280.4 255.0M1300.1 264.7L1299.6 257.1M1299.6 257.1L1291.7 255.3M1288.5 265.4L1288.4 257.7M1288.4 257.7L1291.7 255.3M1276.9 257.1L1276.8 265.0M1280.4 255.0L1288.4 257.7M1281.0 246.7L1289.4 244.0M1289.4 244.0L1291.6 245.4M1291.6 245.4L1291.7 255.3M1242.5 234.9L1246.3 227.3M1256.0 230.3L1252.7 227.0M1246.3 227.3L1252.7 227.0M1243.0 183.2L1244.2 183.2M1244.9 168.6L1251.4 175.2M1244.2 183.2L1251.4 175.2M1258.4 168.5L1255.1 161.6M1258.4 168.5L1253.2 175.2M1253.2 175.2L1251.4 175.2M1305.1 161.2L1310.6 168.4M1305.9 174.7L1299.7 174.5M1297.8 162.8L1296.6 164.7M1296.6 164.7L1299.7 174.5M1188.9 130.9L1179.6 130.5M1188.9 130.9L1191.2 134.9M1179.5 142.0L1188.8 142.3M1191.2 134.9L1188.8 142.3M1177.5 149.0L1181.6 154.2M1181.6 154.2L1189.4 152.7M1189.4 152.7L1191.1 145.7M1188.8 142.3L1191.1 145.7M1207.0 110.8L1203.2 113.8M1215.2 114.3L1207.0 110.8M1215.2 114.3L1213.5 123.6M1203.2 113.8L1203.5 122.0M1213.5 123.6L1203.5 122.0M1200.2 135.0L1191.2 134.9M1192.2 123.2L1200.7 124.7M1188.9 130.9L1192.2 123.2M1200.2 135.0L1202.3 132.7M1202.3 132.7L1200.7 124.7M1210.7 144.4L1201.4 145.1M1210.7 144.4L1214.0 148.8M1212.9 154.1L1214.0 148.8M1212.9 154.1L1204.1 157.1M1204.1 157.1L1201.6 155.5M1201.6 155.5L1201.4 145.1M1223.0 147.0L1214.0 148.8M1217.3 160.1L1212.9 154.1M1205.5 166.9L1204.1 157.1M1193.6 157.7L1201.6 155.5M1192.3 163.0L1193.6 157.7M1196.3 168.8L1192.3 163.0M1191.1 145.7L1201.4 145.1M1189.4 152.7L1193.6 157.7M1200.2 135.0L1201.4 145.1M1205.8 190.2L1205.5 191.6M1213.6 199.8L1211.9 199.8M1213.6 199.8L1220.1 193.2M1211.9 199.8L1205.5 191.6M1220.5 207.7L1213.6 199.8M1212.2 214.9L1220.5 207.7M1204.8 208.1L1204.8 207.4M1211.9 199.8L1204.8 207.4M1191.4 191.6L1197.5 196.9M1191.4 191.6L1183.2 195.6M1183.2 195.6L1187.5 205.3M1197.5 196.9L1197.4 200.3M1197.4 200.3L1189.4 205.8M1187.5 205.3L1189.4 205.8M1192.0 186.8L1191.4 191.6M1205.5 191.6L1197.5 196.9M1204.8 207.4L1197.4 200.3M1193.3 213.9L1189.4 205.8M1180.6 209.4L1187.5 205.3M1237.4 191.6L1241.3 197.6M1227.1 196.8L1227.8 201.2M1241.3 197.6L1235.9 204.9M1235.9 204.9L1227.8 201.2M1220.5 207.7L1221.8 207.8M1222.2 222.7L1227.7 215.4M1227.7 215.4L1221.8 207.8M1227.8 201.2L1221.8 207.8M1238.7 51.4L1234.2 43.6M1238.7 51.4L1246.0 50.2M1244.7 37.8L1248.1 47.0M1244.7 37.8L1235.0 41.2M1246.0 50.2L1248.1 47.0M1245.1 131.7L1249.0 125.1M1257.1 137.5L1257.5 128.1M1249.0 125.1L1257.5 128.1M1235.9 130.7L1234.9 128.8M1238.2 119.3L1234.9 128.8M1238.2 119.3L1248.3 123.4M1249.0 125.1L1248.3 123.4M1269.6 129.3L1261.6 125.2M1261.6 125.2L1257.5 128.1M1283.2 119.2L1281.7 109.8M1281.7 109.8L1276.5 108.8M1275.1 122.0L1283.2 119.2M1275.1 122.0L1269.5 114.7M1269.5 114.7L1276.5 108.8M1272.0 76.5L1281.7 73.2M1280.3 64.0L1281.7 73.2M1276.9 62.3L1268.6 65.3M1280.3 64.0L1276.9 62.3M1272.0 76.5L1271.2 76.1M1271.2 76.1L1268.6 65.3M1257.0 45.6L1259.6 54.6M1257.0 45.6L1248.1 47.0M1246.0 50.2L1250.9 59.1M1259.6 54.6L1253.1 59.5M1250.9 59.1L1253.1 59.5M1259.6 54.6L1264.4 55.7M1264.4 55.7L1267.6 64.8M1267.6 64.8L1257.8 68.6M1253.1 59.5L1257.8 68.6M1271.2 76.1L1261.0 78.9M1261.0 78.9L1257.6 69.1M1268.6 65.3L1267.6 64.8M1257.8 68.6L1257.6 69.1M1260.3 80.3L1252.0 82.5M1260.3 80.3L1264.4 90.1M1264.4 90.1L1263.1 92.5M1263.1 92.5L1255.3 94.6M1255.3 94.6L1250.1 86.9M1252.0 82.5L1250.1 86.9M1382.5 210.4L1374.8 216.6M1382.5 210.4L1388.4 215.2M1381.1 223.8L1374.8 218.8M1374.8 218.8L1374.8 216.6M1370.9 203.6L1368.3 210.3M1382.4 207.2L1382.5 210.4M1368.3 210.3L1374.8 216.6M1383.2 184.4L1373.6 180.2M1370.0 189.5L1373.6 180.2M1387.6 173.0L1378.8 169.5M1373.6 180.2L1378.8 169.5M1362.4 212.1L1368.3 210.3M1364.1 197.8L1359.4 199.3M1362.4 212.1L1356.4 206.4M1356.4 206.4L1359.4 199.3M1366.5 190.7L1358.9 184.7M1352.3 192.8L1359.4 199.3M1352.3 192.8L1352.6 189.0M1352.6 189.0L1358.9 184.7M1325.5 173.3L1332.4 179.2M1332.4 179.2L1330.1 185.1M1320.0 174.8L1325.5 173.3M1318.1 179.5L1323.3 186.9M1330.1 185.1L1323.3 186.9M1309.0 185.3L1313.2 193.1M1313.2 193.1L1321.3 190.8M1309.0 185.3L1310.4 181.6M1323.3 186.9L1321.3 190.8M1321.6 45.1L1327.2 50.2M1313.0 54.6L1321.6 59.5M1315.8 45.9L1313.0 54.6M1327.2 50.2L1321.9 59.4M1349.3 76.3L1355.0 69.8M1349.3 76.3L1350.5 81.7M1350.5 81.7L1356.1 84.6M1356.1 84.6L1363.6 78.4M1363.6 78.4L1357.6 69.9M1357.6 69.9L1355.0 69.8M1349.1 62.5L1346.7 62.4M1340.3 69.6L1346.7 62.4M1349.1 62.5L1355.0 69.8M1341.0 73.4L1340.3 69.6M1341.0 73.4L1349.3 76.3M1355.7 54.7L1349.1 62.5M1364.4 63.0L1357.6 69.9M1356.9 54.6L1355.7 54.7M1364.4 62.8L1356.9 54.6M1412.2 163.5L1404.7 161.6M1404.7 161.6L1401.7 164.4M1401.7 164.4L1402.1 172.5M1402.1 172.5L1409.3 174.5M1404.6 153.0L1404.7 161.6M1391.9 160.8L1394.5 151.4M1392.5 161.9L1391.9 160.8M1392.5 161.9L1401.7 164.4M1392.5 161.9L1388.9 172.4M1398.5 175.5L1402.1 172.5M1256.3 252.0L1256.9 253.0M1256.9 253.0L1254.7 261.4M1268.8 254.3L1267.1 255.3M1256.9 253.0L1267.1 255.3M1310.7 153.7L1308.7 154.3M1310.7 153.7L1319.9 160.1M1314.6 168.1L1319.9 160.2M1325.5 173.3L1328.4 165.4M1319.9 160.2L1328.4 165.4M1339.6 169.4L1337.1 177.2M1339.6 169.4L1331.8 164.3M1332.4 179.2L1337.1 177.2M1331.8 164.3L1328.4 165.4M1371.8 55.0L1379.5 61.0M1371.8 55.0L1371.6 52.5M1379.5 61.0L1385.4 55.2M1378.2 47.2L1371.6 52.5M1364.4 62.8L1371.8 55.0M1356.9 54.6L1364.1 46.8M1371.6 52.5L1364.1 46.8M1275.8 18.7L1274.7 17.8M1273.5 9.5L1274.7 17.8M1276.4 28.1L1267.1 31.6M1267.1 31.6L1265.2 30.5M1274.7 17.8L1264.0 19.9M1265.2 30.5L1264.0 19.9M1261.8 11.2L1263.1 19.3M1264.0 19.9L1263.1 19.3M1304.4 42.7L1303.0 51.7M1313.0 54.6L1310.4 55.4M1310.4 55.4L1303.0 51.7M1292.4 50.5L1299.2 53.4M1292.5 41.7L1292.4 50.5M1303.0 51.7L1299.2 53.4M1159.2 122.1L1166.3 123.2M1166.3 123.2L1170.2 115.8M1161.1 110.5L1168.5 112.1M1168.5 112.1L1170.2 115.8M1168.7 127.6L1166.3 123.2M1177.9 128.0L1180.3 118.2M1180.3 118.2L1170.2 115.8M1181.6 154.2L1179.2 160.8M1167.7 155.8L1171.5 162.0M1171.5 162.0L1179.2 160.8M1192.3 163.0L1183.3 165.5M1179.2 160.8L1183.3 165.5M1187.4 176.7L1182.5 171.4M1183.3 165.5L1182.5 171.4M1174.7 199.9L1182.4 195.4M1182.4 195.4L1177.6 185.6M1169.4 189.4L1177.5 185.6M1183.2 195.6L1182.4 195.4M1186.8 181.0L1177.6 185.6M1193.0 85.2L1194.9 77.7M1187.2 71.9L1194.9 77.7M1187.2 71.9L1186.1 72.2M1186.1 72.2L1180.9 82.6M1193.0 85.2L1190.2 86.5M1190.2 86.5L1180.9 82.6M1222.9 137.0L1224.6 127.1M1222.9 137.0L1212.9 136.6M1214.3 124.9L1211.2 133.8M1214.3 124.9L1224.1 126.4M1224.1 126.4L1224.6 127.1M1212.9 136.6L1211.2 133.8M1225.2 140.1L1222.9 137.0M1234.9 128.8L1224.6 127.1M1210.7 144.4L1212.9 136.6M1200.7 124.7L1203.5 122.0M1213.5 123.6L1214.3 124.9M1202.3 132.7L1211.2 133.8M1273.5 127.6L1275.1 122.0M1281.0 132.8L1286.6 129.8M1283.2 119.2L1286.6 121.3M1286.6 121.3L1286.6 129.8M1293.1 139.0L1291.8 132.6M1286.6 129.8L1291.8 132.6M1291.8 132.6L1299.5 127.7M1303.4 140.2L1304.6 132.2M1302.5 140.9L1303.4 140.2M1304.6 132.2L1299.5 127.7M1286.6 121.3L1292.2 119.1M1292.2 119.1L1299.5 124.3M1299.5 124.3L1299.5 127.7M1192.2 123.2L1190.5 119.9M1180.4 118.1L1190.5 119.9M1172.8 105.0L1182.1 107.4M1172.8 105.0L1168.5 112.1M1180.4 118.1L1182.1 107.4M1203.2 113.8L1194.4 111.6M1190.5 119.9L1194.4 111.6M1321.9 226.4L1320.6 228.6M1321.9 226.4L1318.6 218.1M1320.6 228.6L1309.8 230.2M1318.6 218.1L1314.3 217.1M1314.3 217.1L1308.1 221.8M1308.1 221.8L1309.8 230.2M1299.2 232.9L1299.9 243.7M1299.2 232.9L1309.2 231.3M1309.2 231.3L1311.9 241.2M1311.9 241.2L1302.1 245.0M1302.1 245.0L1299.9 243.7M1291.6 245.4L1299.9 243.7M1303.6 253.9L1299.6 257.1M1303.6 253.9L1302.1 245.0M1320.6 228.6L1323.6 238.6M1330.5 225.0L1321.9 226.4M1330.5 225.0L1334.6 233.3M1334.6 233.3L1333.4 235.8M1323.6 238.6L1333.4 235.8M1358.6 232.3L1352.1 225.2M1344.8 227.4L1352.1 225.2M1343.3 231.1L1344.8 227.4M1343.3 231.1L1348.2 238.8M1358.6 232.3L1349.2 239.0M1349.2 239.0L1348.2 238.8M1289.4 244.0L1287.9 234.6M1299.2 232.9L1298.2 232.2M1287.9 234.6L1298.2 232.2M1277.0 235.2L1286.7 233.6M1287.9 234.6L1286.7 233.6M1303.6 253.9L1310.0 255.7M1310.0 255.7L1311.2 263.0M1246.0 212.2L1236.7 208.3M1246.0 212.2L1246.4 213.2M1246.4 213.2L1241.8 221.7M1236.7 208.3L1231.1 215.3M1231.1 215.3L1236.9 222.0M1236.9 222.0L1241.8 221.7M1255.6 217.4L1252.7 227.0M1255.6 217.4L1246.4 213.2M1246.3 227.3L1241.8 221.7M1235.9 204.9L1236.7 208.3M1227.7 215.4L1231.1 215.3M1232.5 229.4L1236.9 222.0M1263.5 230.0L1266.1 220.8M1255.6 217.4L1256.9 216.9M1256.9 216.9L1266.1 220.8M1274.8 233.2L1276.3 223.0M1276.3 223.0L1267.8 219.9M1266.1 220.8L1267.8 219.9M1267.8 187.4L1274.9 186.3M1274.9 186.3L1278.3 189.9M1278.3 189.9L1277.1 198.3M1277.1 198.3L1270.1 199.8M1267.8 187.4L1265.2 194.8M1265.2 194.8L1270.1 199.8M1269.9 210.6L1267.8 219.9M1269.9 210.6L1267.4 207.5M1256.9 216.9L1260.3 207.7M1267.4 207.5L1260.3 207.7M1284.7 156.8L1284.9 164.7M1296.6 164.7L1287.7 166.5M1284.9 164.7L1287.7 166.5M1297.0 177.4L1288.1 177.2M1297.0 177.4L1298.8 187.3M1298.8 187.3L1288.5 189.3M1286.9 178.2L1288.1 177.2M1286.9 178.2L1287.4 188.4M1288.5 189.3L1287.4 188.4M1299.7 174.5L1297.0 177.4M1287.7 166.5L1288.1 177.2M1299.3 187.6L1309.0 185.3M1299.3 187.6L1298.8 187.3M1292.1 200.6L1301.1 198.3M1299.3 187.6L1301.1 198.3M1289.6 198.8L1288.5 189.3M1289.6 198.8L1292.1 200.6M1277.0 177.2L1286.9 178.2M1274.9 186.3L1277.0 177.2M1278.3 189.9L1287.4 188.4M1277.1 198.3L1280.2 201.0M1280.2 201.0L1289.6 198.8M1312.1 195.6L1302.0 198.8M1312.1 195.6L1316.3 204.2M1302.0 198.8L1304.5 208.0M1304.5 208.0L1311.7 208.9M1316.3 204.2L1311.7 208.9M1313.2 193.1L1312.1 195.6M1301.1 198.3L1302.0 198.8M1321.4 204.7L1316.3 204.2M1321.4 204.7L1326.4 199.2M1326.4 199.2L1321.3 190.8M1314.3 217.1L1311.7 208.9M1321.4 204.7L1325.3 212.6M1325.3 212.6L1318.6 218.1M1304.6 132.2L1313.5 129.3M1314.2 127.2L1310.3 119.2M1313.5 129.3L1314.2 127.2M1299.5 124.3L1306.4 118.1M1306.4 118.1L1310.3 119.2M1286.7 87.2L1286.0 96.9M1286.7 87.2L1284.1 85.0M1284.1 85.0L1274.6 86.4M1276.9 96.6L1273.8 87.6M1276.9 96.6L1285.6 97.2M1274.6 86.4L1273.8 87.6M1285.6 97.2L1286.0 96.9M1296.7 97.9L1286.0 96.9M1298.7 88.3L1296.7 97.9M1294.9 85.1L1286.7 87.2M1294.9 85.1L1298.7 88.3M1272.0 76.5L1274.6 86.4M1281.7 73.2L1284.3 74.8M1284.3 74.8L1284.1 85.0M1264.4 90.1L1273.8 87.6M1263.1 92.5L1267.3 100.6M1273.0 101.1L1267.3 100.6M1273.0 101.1L1276.9 96.6M1276.5 108.8L1273.0 101.1M1285.2 107.2L1285.6 97.2M1281.7 109.8L1285.2 107.2M1260.3 80.3L1261.0 78.9M1270.3 50.9L1275.8 53.1M1270.3 50.9L1268.6 42.4M1281.2 50.1L1281.1 41.4M1281.2 50.1L1275.8 53.1M1281.1 41.4L1279.4 40.0M1279.4 40.0L1269.3 41.4M1268.6 42.4L1269.3 41.4M1264.4 55.7L1270.3 50.9M1276.9 62.3L1275.8 53.1M1258.2 43.8L1257.0 45.6M1258.2 43.8L1268.6 42.4M1287.7 53.3L1292.4 50.5M1287.7 53.3L1281.2 50.1M1289.9 39.7L1281.1 41.4M1280.3 64.0L1287.2 60.7M1287.7 53.3L1287.2 60.7M1279.2 30.1L1279.4 40.0M1267.1 31.6L1269.3 41.4M1253.2 113.7L1262.1 119.7M1253.2 113.7L1259.1 106.4M1259.1 106.4L1262.9 106.2M1262.9 106.2L1268.3 114.7M1262.1 119.7L1268.3 114.7M1248.3 123.4L1252.9 113.8M1261.6 125.2L1262.1 119.7M1252.9 113.8L1253.2 113.7M1267.3 100.6L1262.9 106.2M1255.3 94.6L1253.2 98.9M1253.2 98.9L1259.1 106.4M1269.5 114.7L1268.3 114.7M1247.7 100.7L1241.4 95.4M1247.7 100.7L1245.1 108.8M1245.1 108.8L1241.6 110.0M1241.6 110.0L1233.6 104.5M1233.6 104.5L1235.8 97.3M1241.4 95.4L1235.8 97.3M1253.2 98.9L1247.7 100.7M1243.3 89.0L1250.1 86.9M1243.3 89.0L1241.4 95.4M1252.9 113.8L1245.1 108.8M1238.2 119.3L1238.0 119.0M1238.0 119.0L1241.6 110.0M1238.6 78.7L1246.6 75.3M1238.6 78.7L1232.5 70.9M1247.3 73.1L1243.2 64.6M1247.3 73.1L1246.6 75.3M1232.5 70.9L1232.5 70.4M1232.5 70.4L1241.2 64.1M1241.2 64.1L1243.2 64.6M1237.4 83.0L1243.3 89.0M1237.4 83.0L1238.6 78.7M1252.0 82.5L1246.6 75.3M1257.6 69.1L1247.3 73.1M1250.9 59.1L1243.2 64.6M1238.7 51.4L1236.4 55.8M1236.4 55.8L1241.2 64.1M1233.6 104.5L1230.4 105.8M1238.0 119.0L1227.6 115.9M1230.4 105.8L1227.6 115.9M1215.2 114.3L1217.7 112.9M1224.1 126.4L1226.8 116.3M1217.7 112.9L1226.8 116.3M1226.8 116.3L1227.6 115.9M1197.5 99.9L1206.9 103.2M1197.5 99.9L1200.7 90.0M1200.7 90.0L1203.9 88.9M1203.9 88.9L1211.1 93.5M1206.9 103.2L1211.3 99.9M1211.3 99.9L1211.1 93.5M1217.7 112.9L1219.5 103.0M1207.0 110.8L1206.9 103.2M1211.3 99.9L1219.5 103.0M1230.4 105.8L1222.0 101.8M1219.5 103.0L1222.0 101.8M1391.9 160.8L1381.5 159.0M1378.6 169.2L1381.5 159.0M1356.4 206.4L1351.4 207.4M1360.6 217.9L1353.9 220.0M1353.9 220.0L1348.2 213.6M1362.4 212.1L1360.6 217.9M1351.4 207.4L1348.2 213.6M1364.8 176.4L1364.3 169.7M1364.8 176.4L1359.5 181.0M1359.5 181.0L1351.2 174.5M1364.3 169.7L1355.6 167.2M1355.6 167.2L1350.8 172.0M1350.8 172.0L1351.2 174.5M1378.6 169.2L1368.1 165.8M1368.1 165.8L1364.3 169.7M1373.6 180.2L1364.8 176.4M1358.9 184.7L1359.5 181.0M1352.6 189.0L1344.9 183.7M1344.9 183.7L1344.8 183.1M1344.8 183.1L1351.2 174.5M1337.1 177.2L1344.8 183.1M1342.2 168.3L1339.6 169.4M1342.2 168.3L1350.8 172.0M1405.3 140.3L1406.6 130.6M1414.7 129.7L1406.6 130.6M1342.2 168.3L1345.4 158.5M1345.4 158.5L1346.2 158.1M1355.6 167.2L1354.5 160.7M1354.5 160.7L1346.2 158.1M1396.2 140.4L1394.1 138.0M1406.6 130.6L1404.8 128.7M1404.8 128.7L1395.8 129.0M1394.1 138.0L1395.8 129.0M1395.8 129.0L1393.1 125.8M1384.8 127.2L1393.1 125.8M1384.8 127.2L1382.6 134.7M1394.1 138.0L1384.6 137.8M1384.6 137.8L1382.6 134.7M1382.6 134.7L1372.2 134.2M1372.2 134.2L1372.4 124.1M1384.8 127.2L1380.6 121.9M1372.4 124.1L1380.6 121.9M1394.6 118.9L1393.1 125.8M1391.0 114.6L1394.6 118.9M1391.0 114.6L1382.2 116.3M1382.2 116.3L1380.6 121.9M1321.9 59.4L1332.0 64.4M1332.0 64.4L1332.2 65.2M1332.2 65.2L1326.8 73.8M1321.6 59.5L1317.3 69.2M1326.8 73.8L1317.3 69.2M1310.4 55.4L1307.1 65.8M1307.1 65.8L1317.0 69.3M1317.3 69.2L1317.0 69.3M1337.0 55.3L1331.4 49.7M1337.0 55.3L1340.5 55.2M1340.5 55.2L1346.3 47.8M1331.4 49.7L1335.3 41.6M1346.3 47.8L1339.8 40.8M1335.3 41.6L1339.8 40.8M1327.2 50.2L1331.4 49.7M1332.0 64.4L1337.0 55.3M1332.2 65.2L1340.3 69.6M1346.7 62.4L1340.5 55.2M1348.5 47.7L1346.3 47.8M1355.7 54.7L1348.5 47.7M1324.4 37.1L1330.2 36.4M1330.2 36.4L1335.3 41.6M1355.1 38.8L1347.1 33.5M1343.8 33.9L1347.1 33.5M1343.8 33.9L1339.8 40.8M1348.5 47.7L1355.1 38.8M1367.0 225.5L1366.7 225.5M1367.0 225.5L1372.7 232.2M1366.7 225.5L1358.7 232.3M1358.7 232.3L1363.5 239.8M1374.8 218.8L1367.0 225.5M1360.6 217.9L1366.7 225.5M1352.1 225.2L1353.9 220.0M1354.5 246.0L1349.2 239.0M1267.1 255.3L1265.5 263.7M1363.9 78.4L1370.6 86.5M1370.1 89.1L1370.6 86.5M1370.1 89.1L1361.7 93.1M1356.1 84.6L1357.2 90.4M1361.7 93.1L1357.2 90.4M1324.2 124.0L1314.2 127.2M1313.5 129.3L1316.6 135.6M1327.9 131.3L1325.6 136.0M1327.9 131.3L1324.2 124.0M1325.6 136.0L1316.6 135.6M1303.4 140.2L1313.7 142.6M1316.6 135.6L1313.7 142.6M1310.7 153.7L1314.9 145.7M1314.9 145.7L1313.7 142.6M1378.7 81.5L1370.6 86.5M1363.9 78.4L1371.8 72.4M1378.7 81.5L1378.8 78.3M1378.8 78.3L1371.8 72.4M1364.4 63.0L1371.9 69.2M1379.5 61.0L1379.6 63.5M1379.6 63.5L1371.9 69.2M1371.9 69.2L1371.8 72.4M1360.0 31.9L1355.6 38.8M1355.6 38.8L1364.0 45.5M1364.0 45.5L1369.7 39.3M1350.7 26.0L1347.1 33.5M1355.1 38.8L1355.6 38.8M1364.1 46.8L1364.0 45.5M1329.4 16.2L1327.0 23.6M1327.0 23.6L1333.0 28.1M1333.0 28.1L1337.8 27.0M1337.8 27.0L1340.9 20.9M1322.7 24.7L1327.0 23.6M1330.2 36.4L1333.0 28.1M1343.8 33.9L1337.8 27.0M1258.2 43.8L1255.1 33.7M1244.7 37.8L1245.9 35.4M1255.1 33.7L1245.9 35.4M1265.2 30.5L1255.6 33.0M1255.1 33.7L1255.6 33.0M1232.9 28.9L1241.6 27.9M1245.9 35.4L1241.6 27.9M1305.6 66.5L1298.1 62.7M1305.6 66.5L1303.2 74.6M1303.2 74.6L1295.6 76.4M1293.2 64.7L1291.8 73.2M1293.2 64.7L1298.1 62.7M1295.6 76.4L1291.8 73.2M1299.2 53.4L1298.1 62.7M1307.1 65.8L1305.6 66.5M1307.6 79.4L1313.8 78.6M1307.6 79.4L1303.2 74.6M1313.8 78.6L1317.0 69.3M1304.7 87.4L1298.7 88.3M1294.9 85.1L1295.6 76.4M1307.6 79.4L1304.7 87.4M1284.3 74.8L1291.8 73.2M1287.2 60.7L1293.2 64.7M1169.7 165.9L1173.7 174.3M1169.7 165.9L1162.1 167.9M1165.2 178.5L1173.0 176.0M1173.0 176.0L1173.7 174.3M1182.5 171.4L1173.7 174.3M1171.5 162.0L1169.7 165.9M1177.5 185.6L1173.0 176.0M1193.0 85.2L1200.7 90.0M1203.9 88.9L1206.9 80.6M1194.9 77.7L1199.5 75.8M1206.9 80.6L1199.5 75.8M1197.0 100.1L1193.6 109.8M1197.0 100.1L1187.4 96.3M1193.6 109.8L1182.9 106.9M1182.9 106.9L1185.2 97.2M1185.2 97.2L1187.4 96.3M1197.5 99.9L1197.0 100.1M1194.4 111.6L1193.6 109.8M1190.2 86.5L1187.4 96.3M1182.1 107.4L1182.9 106.9M1311.9 241.2L1313.1 241.9M1309.8 230.2L1309.2 231.3M1323.6 238.6L1322.8 239.9M1313.1 241.9L1322.8 239.9M1310.0 255.7L1314.6 252.4M1313.1 241.9L1314.6 252.4M1334.6 233.3L1343.3 231.1M1333.4 235.8L1337.3 244.3M1348.2 238.8L1341.3 245.0M1337.3 244.3L1341.3 245.0M1341.3 245.0L1344.5 251.6M1286.7 233.6L1286.5 224.0M1276.3 223.0L1279.0 221.5M1286.5 224.0L1279.0 221.5M1269.9 210.6L1279.9 210.9M1279.0 221.5L1279.9 210.9M1280.2 201.0L1280.4 210.5M1270.1 199.8L1267.4 207.5M1280.4 210.5L1279.9 210.9M1260.0 195.7L1256.8 203.9M1260.0 195.7L1253.6 190.1M1252.3 190.2L1253.6 190.1M1252.3 190.2L1246.4 198.2M1246.4 198.2L1250.2 203.9M1250.2 203.9L1256.8 203.9M1265.2 194.8L1260.0 195.7M1260.3 207.7L1256.8 203.9M1262.6 182.0L1267.8 187.4M1262.6 182.0L1259.4 182.1M1259.4 182.1L1253.6 190.1M1244.2 183.2L1252.3 190.2M1259.4 182.1L1253.2 175.2M1241.3 197.6L1246.4 198.2M1246.0 212.2L1250.2 203.9M1275.8 175.4L1278.2 167.0M1275.8 175.4L1267.6 174.3M1264.6 169.2L1269.7 161.0M1264.6 169.2L1267.6 174.3M1278.2 167.0L1271.4 160.8M1271.4 160.8L1269.7 161.0M1277.0 177.2L1275.8 175.4M1284.9 164.7L1278.2 167.0M1262.6 182.0L1267.6 174.3M1258.4 168.5L1264.6 169.2M1262.8 155.4L1269.7 161.0M1277.5 152.7L1271.4 160.8M1297.2 98.6L1294.7 110.0M1297.2 98.6L1306.0 100.6M1306.0 100.6L1308.1 104.6M1308.1 104.6L1303.4 111.9M1303.4 111.9L1295.0 110.5M1295.0 110.5L1294.7 110.0M1285.2 107.2L1294.7 110.0M1296.7 97.9L1297.2 98.6M1310.1 92.1L1306.0 100.6M1304.7 87.4L1310.1 92.1M1317.4 113.2L1310.3 119.2M1317.4 113.2L1314.1 105.6M1314.1 105.6L1308.1 104.6M1306.4 118.1L1303.4 111.9M1292.2 119.1L1295.0 110.5M1220.2 64.0L1226.6 62.3M1220.2 64.0L1214.7 58.4M1224.0 50.3L1228.9 57.4M1224.0 50.3L1217.2 52.2M1228.9 57.4L1226.6 62.3M1217.2 52.2L1214.7 58.4M1225.6 46.3L1224.0 50.3M1236.4 55.8L1228.9 57.4M1232.5 70.4L1226.6 62.3M1211.1 93.5L1217.4 88.6M1222.0 101.8L1224.2 93.6M1224.2 93.6L1217.4 88.6M1235.8 97.3L1229.6 91.5M1224.2 93.6L1229.6 91.5M1237.4 83.0L1231.2 85.8M1231.2 85.8L1229.6 91.5M1326.4 199.2L1330.1 199.1M1330.1 185.1L1335.7 192.0M1330.1 199.1L1335.7 192.0M1352.3 192.8L1344.9 198.9M1351.4 207.4L1344.8 200.2M1344.9 198.9L1344.8 200.2M1344.9 183.7L1337.8 192.1M1344.9 198.9L1337.8 192.1M1337.8 192.1L1335.7 192.0M1328.4 213.4L1336.3 207.1M1328.4 213.4L1332.4 221.3M1332.4 221.3L1340.5 219.8M1336.4 207.1L1342.8 215.0M1340.5 219.8L1342.8 215.0M1330.1 199.1L1336.3 207.1M1325.3 212.6L1328.4 213.4M1330.5 225.0L1332.4 221.3M1344.8 227.4L1340.5 219.8M1344.8 200.2L1336.4 207.1M1348.2 213.6L1342.8 215.0M1403.2 117.1L1405.6 119.1M1403.2 117.1L1403.4 108.7M1405.6 119.1L1413.5 118.1M1403.4 108.7L1411.4 107.2M1404.8 128.7L1405.6 119.1M1394.6 118.9L1403.2 117.1M1372.0 134.5L1372.2 134.2M1384.6 137.8L1382.5 145.5M1372.0 134.5L1372.6 145.8M1372.6 145.8L1382.5 145.5M1393.7 150.1L1384.3 148.5M1381.5 159.0L1380.8 157.8M1380.8 157.8L1384.3 148.5M1384.3 148.5L1382.5 145.5M1372.4 124.1L1370.6 122.8M1378.5 110.9L1382.2 116.3M1378.5 110.9L1369.3 112.9M1369.3 112.9L1370.6 122.8M1313.8 78.6L1318.9 84.1M1310.1 92.1L1313.9 91.7M1318.9 84.1L1313.9 91.7M1314.1 105.6L1320.5 99.2M1313.9 91.7L1320.5 99.2M1328.3 106.9L1328.2 108.4M1328.3 106.9L1321.1 99.2M1321.1 99.2L1320.5 99.2M1317.4 113.2L1321.0 114.0M1328.2 108.4L1321.0 114.0M1324.2 124.0L1324.8 122.4M1321.0 114.0L1324.8 122.4M1327.9 131.3L1336.9 130.2M1336.9 130.2L1338.3 124.9M1324.8 122.4L1333.6 119.2M1338.3 124.9L1333.6 119.2M1328.2 108.4L1334.5 114.2M1333.6 119.2L1334.5 114.2M1379.8 105.7L1375.1 99.2M1375.1 99.2L1366.3 103.0M1379.8 105.7L1378.5 110.9M1369.3 112.9L1367.2 111.6M1366.3 103.0L1367.2 111.6M1370.1 89.1L1375.7 96.2M1375.7 96.2L1375.1 99.2M1361.7 93.1L1362.8 100.8M1366.3 103.0L1362.8 100.8M1350.8 102.4L1349.3 95.9M1350.8 102.4L1342.8 107.7M1342.8 107.7L1336.3 99.9M1344.2 93.3L1349.3 95.9M1344.2 93.3L1336.4 98.4M1336.4 98.4L1336.3 99.9M1362.8 100.8L1354.7 104.6M1354.7 104.6L1350.8 102.4M1357.2 90.4L1349.3 95.9M1342.3 110.8L1334.5 114.2M1328.3 106.9L1336.3 99.9M1342.3 110.8L1342.8 107.7M1343.2 87.1L1344.2 93.3M1343.2 87.1L1350.5 81.7M1328.1 141.6L1324.0 147.6M1328.1 141.6L1336.7 142.5M1325.4 151.8L1334.5 154.9M1325.4 151.8L1324.0 147.6M1338.3 145.3L1336.7 142.5M1338.3 145.3L1335.3 154.5M1335.3 154.5L1334.5 154.9M1325.6 136.0L1328.1 141.6M1314.9 145.7L1324.0 147.6M1339.6 134.7L1336.7 142.5M1336.9 130.2L1339.6 134.7M1331.8 164.3L1334.5 154.9M1319.9 160.1L1325.4 151.8M1345.4 158.5L1335.3 154.5M1379.6 63.5L1385.5 68.8M1392.6 64.9L1385.5 68.8M1378.8 78.3L1385.4 73.1M1385.4 73.1L1385.5 68.8M1375.7 96.2L1384.0 91.9M1378.7 81.5L1384.9 87.7M1384.9 87.7L1384.0 91.9M1240.3 17.4L1243.0 25.0M1243.0 25.0L1252.9 22.0M1250.5 14.0L1253.1 21.5M1253.1 21.5L1252.9 22.0M1241.6 27.9L1243.0 25.0M1255.6 33.0L1252.9 22.0M1263.1 19.3L1253.1 21.5M1172.8 105.0L1171.3 100.8M1164.1 98.9L1171.3 100.8M1185.2 97.2L1176.7 93.1M1171.3 100.8L1176.7 93.1M1209.7 79.6L1212.9 72.4M1209.7 79.6L1217.5 85.0M1217.5 85.0L1224.0 79.4M1217.9 71.1L1224.1 76.7M1217.9 71.1L1212.9 72.4M1224.1 76.7L1224.0 79.4M1206.9 80.6L1209.7 79.6M1206.4 66.3L1212.9 72.4M1201.4 68.6L1206.4 66.3M1199.5 75.8L1201.4 68.6M1217.4 88.6L1217.5 85.0M1231.2 85.8L1224.0 79.4M1220.2 64.0L1217.9 71.1M1232.5 70.9L1224.1 76.7M1208.2 59.9L1214.7 58.4M1208.2 59.9L1206.4 66.3M1322.5 260.3L1320.6 253.9M1320.6 253.9L1326.3 248.6M1326.3 248.6L1331.2 249.9M1331.2 249.9L1333.9 256.4M1314.6 252.4L1320.6 253.9M1322.8 239.9L1326.3 248.6M1337.3 244.3L1331.2 249.9M1296.7 222.9L1291.3 220.8M1296.7 222.9L1303.0 219.6M1291.3 220.8L1290.5 211.6M1303.0 219.6L1301.9 211.0M1301.9 211.0L1291.5 210.5M1291.5 210.5L1290.5 211.6M1298.2 232.2L1296.7 222.9M1286.5 224.0L1291.3 220.8M1308.1 221.8L1303.0 219.6M1280.4 210.5L1290.5 211.6M1304.5 208.0L1301.9 211.0M1292.1 200.6L1291.5 210.5M1205.8 47.3L1211.5 45.7M1205.8 47.3L1200.8 41.7M1211.5 45.7L1214.0 40.0M1214.0 40.0L1209.8 34.3M1208.2 59.9L1202.8 54.3M1202.8 54.3L1205.8 47.3M1217.2 52.2L1211.5 45.7M1220.7 38.8L1214.0 40.0M1185.3 58.4L1191.5 63.7M1193.6 63.2L1198.6 54.9M1193.6 63.2L1191.5 63.7M1198.6 54.9L1192.6 49.8M1186.1 72.2L1178.2 68.4M1187.2 71.9L1191.5 63.7M1202.8 54.3L1198.6 54.9M1201.4 68.6L1193.6 63.2M1372.6 145.8L1371.3 147.1M1380.8 157.8L1371.9 155.3M1371.3 147.1L1371.9 155.3M1354.5 160.7L1359.4 155.8M1368.1 165.8L1367.6 159.2M1359.4 155.8L1367.6 159.2M1367.6 159.2L1371.9 155.3M1342.3 110.8L1347.1 116.1M1338.3 124.9L1345.8 122.3M1347.1 116.1L1345.8 122.3M1354.7 104.6L1356.2 113.7M1347.1 116.1L1356.2 113.7M1367.2 111.6L1358.1 115.0M1356.2 113.7L1358.1 115.0M1370.6 122.8L1359.5 124.7M1358.1 115.0L1359.5 124.7M1321.8 83.9L1329.2 91.4M1321.8 83.9L1327.5 76.3M1327.5 76.3L1336.1 79.8M1329.2 91.4L1336.9 83.3M1336.9 83.3L1336.1 79.8M1321.1 99.2L1329.2 91.4M1318.9 84.1L1321.8 83.9M1326.8 73.8L1327.5 76.3M1341.0 73.4L1336.1 79.8M1336.4 98.4L1329.2 91.4M1343.2 87.1L1336.9 83.3M1371.3 147.1L1362.3 145.8M1359.4 155.8L1358.5 150.3M1362.3 145.8L1358.5 150.3M1346.2 158.1L1348.8 147.2M1358.5 150.3L1348.8 147.2M1338.3 145.3L1348.6 146.9M1348.8 147.2L1348.6 146.9M1385.4 73.1L1392.2 78.0M1398.4 74.2L1392.2 78.0M1384.9 87.7L1391.8 84.4M1392.2 78.0L1391.8 84.4M1379.8 105.7L1388.0 103.5M1384.0 91.9L1389.0 97.6M1388.0 103.5L1389.0 97.6M1391.0 114.6L1392.5 107.8M1388.0 103.5L1392.5 107.8M1403.4 108.7L1400.1 105.5M1392.5 107.8L1400.1 105.5M1168.1 87.9L1176.3 91.8M1176.3 91.8L1180.7 82.7M1180.7 82.7L1172.8 77.9M1176.7 93.1L1176.3 91.8M1350.3 126.8L1359.3 124.9M1350.3 126.8L1348.4 134.7M1348.4 134.7L1351.1 138.0M1351.1 138.0L1360.3 137.3M1359.3 124.9L1362.1 134.8M1362.1 134.8L1360.3 137.3M1345.8 122.3L1350.3 126.8M1339.6 134.7L1348.4 134.7M1348.6 146.9L1351.1 138.0M1362.3 145.8L1360.3 137.3M1372.0 134.5L1362.1 134.8M1397.0 87.8L1403.7 84.6M1397.0 87.8L1397.3 94.8M1397.3 94.8L1401.3 98.4M1408.2 96.0L1401.3 98.4M1391.8 84.4L1397.0 87.8M1389.0 97.6L1397.3 94.8M1400.1 105.5L1401.3 98.4" stroke="#4a4a4a" stroke-width="1.3" fill="none" stroke-linecap="round"/>
<circle cx="1286.6" cy="137.1" r="128.6" fill="none" stroke="#7c7c7c" stroke-width="1.2"/>
<path d="M1553.3 161.9L1549.9 173.2M1544.2 154.2L1553.3 161.9M1534.7 163.8L1544.2 154.2M1534.7 163.8L1539.1 171.8M1539.1 171.8L1549.9 173.2M1533.6 181.3L1541.5 188.1M1533.6 181.3L1539.1 171.8M1550.6 174.1L1549.9 173.2M1550.6 174.1L1547.4 186.9M1547.4 186.9L1541.5 188.1M1577.3 184.8L1575.3 187.8M1579.2 199.6L1575.3 187.8M1580.4 200.1L1579.2 199.6M1580.4 200.1L1590.2 196.3M1586.9 184.3L1591.7 192.7M1586.9 184.3L1577.3 184.8M1590.2 196.3L1591.7 192.7M1603.2 183.3L1600.1 190.4M1603.2 183.3L1608.8 182.1M1608.8 182.1L1615.4 188.7M1600.1 190.4L1606.8 197.6M1606.8 197.6L1614.4 193.6M1614.4 193.6L1615.4 188.7M1591.7 192.7L1600.1 190.4M1590.5 177.0L1596.6 176.1M1596.6 176.1L1603.2 183.3M1590.5 177.0L1586.9 184.3M1673.9 195.1L1667.7 192.1M1667.7 192.1L1669.9 184.5M1677.8 186.5L1671.5 183.7M1671.5 183.7L1669.9 184.5M1669.0 203.9L1663.5 200.6M1665.3 193.2L1663.5 200.6M1665.3 193.2L1667.7 192.1M1662.8 181.0L1669.9 184.5M1662.8 181.0L1662.1 176.0M1673.9 176.3L1673.3 175.0M1673.9 176.3L1671.5 183.7M1673.3 175.0L1666.1 172.7M1662.1 176.0L1666.1 172.7M1622.4 185.6L1615.4 188.7M1624.0 178.8L1622.4 185.6M1624.0 178.8L1615.7 173.3M1608.8 182.1L1612.8 174.3M1615.7 173.3L1612.8 174.3M1615.7 173.3L1619.7 163.4M1624.0 178.8L1628.0 177.0M1628.0 177.0L1630.6 167.2M1619.7 163.4L1630.6 167.2M1665.7 165.8L1666.1 172.7M1665.7 165.8L1657.5 162.9M1654.3 173.2L1657.1 163.2M1654.3 173.2L1662.1 176.0M1657.1 163.2L1657.5 162.9M1624.3 152.9L1619.0 161.7M1624.3 152.9L1634.0 154.9M1634.0 154.9L1634.7 156.2M1619.7 163.4L1619.0 161.7M1630.6 167.2L1631.2 166.9M1631.2 166.9L1634.7 156.2M1534.7 256.8L1528.1 253.3M1534.7 256.8L1533.3 263.0M1528.1 253.3L1526.3 254.0M1526.3 254.0L1524.1 260.7M1530.0 232.1L1534.6 236.5M1530.0 232.1L1525.0 233.4M1525.0 233.4L1522.5 241.7M1522.5 241.7L1530.6 245.0M1530.6 245.0L1532.3 244.2M1532.3 244.2L1534.6 236.5M1542.6 225.8L1532.7 223.6M1530.0 232.1L1532.7 223.6M1542.6 225.8L1541.5 235.2M1534.6 236.5L1541.5 235.2M1562.7 159.5L1563.9 160.2M1562.7 159.5L1553.3 161.9M1561.8 177.5L1567.3 173.3M1550.6 174.1L1561.8 177.5M1563.9 160.2L1567.3 173.3M1590.5 177.0L1582.6 167.5M1577.3 184.8L1573.6 174.6M1582.6 167.5L1573.6 174.6M1522.9 130.6L1522.7 119.1M1522.9 130.6L1535.2 132.5M1535.2 132.5L1539.4 121.1M1539.4 121.1L1529.6 114.0M1522.7 119.1L1529.6 114.0M1520.5 143.8L1520.8 132.3M1520.5 143.8L1507.4 145.0M1520.8 132.3L1509.1 130.7M1507.4 145.0L1506.8 144.4M1506.8 144.4L1506.1 134.0M1506.1 134.0L1509.1 130.7M1524.7 148.7L1520.5 143.8M1523.7 154.1L1524.7 148.7M1508.5 156.5L1507.4 145.0M1513.3 159.0L1508.5 156.5M1523.7 154.1L1513.3 159.0M1512.8 115.8L1522.7 119.1M1507.5 122.4L1512.8 115.8M1507.5 122.4L1509.1 130.7M1522.9 130.6L1520.8 132.3M1493.2 150.3L1495.0 146.3M1495.0 146.3L1506.8 144.4M1508.5 156.5L1499.3 160.1M1499.3 160.1L1493.2 150.3M1491.9 139.1L1495.0 146.3M1495.3 132.8L1491.9 139.1M1495.3 132.8L1506.1 134.0M1495.3 132.8L1492.9 127.5M1507.5 122.4L1497.0 119.6M1492.9 127.5L1497.0 119.6M1481.3 138.8L1491.9 139.1M1481.3 138.8L1481.2 128.2M1492.9 127.5L1482.9 126.5M1481.2 128.2L1482.9 126.5M1525.0 233.4L1519.0 228.9M1519.0 228.9L1522.3 221.0M1532.7 223.6L1531.4 221.6M1522.3 221.0L1531.4 221.6M1545.9 213.8L1545.4 213.1M1545.9 213.8L1543.3 225.3M1545.4 213.1L1533.9 212.9M1543.3 225.3L1542.6 225.8M1531.4 221.6L1533.9 212.9M1546.2 203.3L1537.6 198.3M1546.2 203.3L1551.5 200.5M1537.6 198.3L1541.5 188.1M1547.4 186.9L1552.9 190.8M1551.5 200.5L1552.9 190.8M1561.8 177.5L1562.2 188.6M1552.9 190.8L1562.2 188.6M1573.6 174.6L1567.3 173.3M1575.3 187.8L1564.0 189.9M1562.2 188.6L1564.0 189.9M1575.0 246.6L1573.9 237.8M1567.6 248.8L1575.0 246.6M1564.8 246.9L1563.9 238.1M1567.6 248.8L1564.8 246.9M1563.9 238.1L1573.9 237.8M1575.0 246.6L1577.1 248.0M1577.1 248.0L1585.6 245.1M1585.8 244.7L1585.6 245.1M1585.8 244.7L1583.0 236.7M1583.0 236.7L1575.1 236.4M1573.9 237.8L1575.1 236.4M1626.1 212.2L1619.0 219.4M1632.5 219.4L1626.1 212.2M1632.5 219.4L1628.7 225.3M1628.7 225.3L1623.8 225.9M1623.8 225.9L1619.0 219.4M1622.4 185.6L1628.3 191.1M1628.0 177.0L1636.2 181.3M1636.2 181.3L1634.6 188.9M1628.3 191.1L1634.6 188.9M1595.1 241.7L1603.9 239.8M1595.1 241.7L1593.1 233.5M1602.3 229.9L1597.3 229.4M1602.3 229.9L1605.6 236.8M1605.6 236.8L1603.9 239.8M1593.1 233.5L1597.3 229.4M1583.0 236.7L1586.3 232.5M1594.8 242.2L1585.8 244.7M1595.1 241.7L1594.8 242.2M1593.1 233.5L1586.3 232.5M1597.6 259.7L1596.0 252.8M1596.0 252.8L1588.4 253.4M1588.8 262.1L1586.8 255.9M1588.4 253.4L1586.8 255.9M1597.7 250.6L1594.8 242.2M1597.7 250.6L1596.0 252.8M1585.6 245.1L1588.4 253.4M1578.0 256.2L1577.1 248.0M1578.0 256.2L1578.4 256.5M1578.4 256.5L1586.8 255.9M1597.7 250.6L1604.0 250.4M1606.7 256.5L1604.0 250.4M1603.9 239.8L1606.6 247.1M1604.0 250.4L1606.6 247.1M1590.2 196.3L1596.1 205.8M1606.8 197.6L1606.2 200.8M1596.1 205.8L1597.1 206.1M1606.2 200.8L1597.1 206.1M1665.3 193.2L1658.1 189.5M1662.8 181.0L1657.7 186.3M1657.7 186.3L1658.1 189.5M1639.2 179.8L1646.9 184.4M1639.2 179.8L1642.6 170.8M1643.0 170.5L1642.6 170.8M1643.0 170.5L1652.5 174.1M1652.5 174.1L1651.2 182.0M1651.2 182.0L1646.9 184.4M1636.2 181.3L1639.2 179.8M1645.9 191.3L1646.9 184.4M1640.5 194.0L1645.9 191.3M1640.5 194.0L1634.6 188.9M1631.2 166.9L1642.6 170.8M1645.4 159.6L1634.7 156.2M1645.8 160.5L1645.4 159.6M1645.8 160.5L1643.0 170.5M1657.1 163.2L1645.8 160.5M1654.3 173.2L1652.5 174.1M1657.7 186.3L1651.2 182.0M1658.1 189.5L1652.7 194.8M1652.7 194.8L1645.9 191.3M1673.9 176.3L1681.0 178.0M1619.0 161.7L1609.2 157.9M1612.8 174.3L1602.6 166.6M1609.2 157.9L1602.6 166.6M1596.6 176.1L1601.7 166.8M1601.7 166.8L1602.6 166.6M1659.4 154.7L1657.5 162.9M1659.4 154.7L1658.4 152.9M1645.4 159.6L1648.9 151.0M1658.4 152.9L1648.9 151.0M1679.7 135.3L1681.3 141.4M1679.7 135.3L1681.4 133.1M1681.3 141.4L1687.6 142.7M1681.4 133.1L1687.6 132.3M1671.2 135.3L1679.7 135.3M1681.3 141.4L1678.0 145.8M1671.2 135.3L1671.2 145.2M1678.0 145.8L1671.2 145.2M1572.9 99.4L1577.9 89.0M1562.5 97.8L1572.9 99.4M1562.8 85.4L1571.1 83.7M1562.8 85.4L1562.5 97.8M1571.1 83.7L1577.9 89.0M1548.6 255.8L1548.7 248.7M1548.6 255.8L1543.4 258.3M1543.4 258.3L1538.3 255.3M1538.3 255.3L1539.5 247.8M1548.7 248.7L1543.4 246.0M1543.4 246.0L1539.5 247.8M1553.8 246.4L1558.2 249.5M1553.8 246.4L1548.7 248.7M1558.2 249.5L1558.0 256.6M1552.7 258.2L1548.6 255.8M1558.0 256.6L1552.7 258.2M1552.7 258.2L1551.9 265.4M1543.3 264.6L1543.4 258.3M1532.3 244.2L1539.5 247.8M1534.7 256.8L1538.3 255.3M1530.6 245.0L1528.1 253.3M1544.2 237.7L1541.5 235.2M1544.2 237.7L1543.4 246.0M1519.0 228.9L1515.7 229.8M1522.5 241.7L1521.3 242.2M1515.7 229.8L1512.4 236.7M1512.4 236.7L1513.1 238.9M1521.3 242.2L1513.1 238.9M1526.3 254.0L1518.8 250.6M1521.3 242.2L1518.8 250.6M1582.8 166.1L1576.4 157.5M1582.8 166.1L1592.5 160.4M1592.5 160.4L1593.6 150.8M1593.6 150.8L1581.5 146.8M1576.4 157.5L1579.0 148.0M1579.0 148.0L1581.5 146.8M1563.9 160.2L1576.4 157.5M1582.6 167.5L1582.8 166.1M1601.7 166.8L1592.5 160.4M1561.6 146.2L1562.7 159.5M1561.6 146.2L1567.7 142.0M1567.7 142.0L1579.0 148.0M1534.6 144.9L1537.1 135.8M1534.6 144.9L1544.2 154.0M1537.1 135.8L1550.0 136.9M1544.2 154.0L1552.8 143.7M1552.8 143.7L1550.0 136.9M1524.7 148.7L1534.6 144.9M1535.2 132.5L1537.1 135.8M1523.7 154.1L1530.6 163.1M1534.7 163.8L1530.6 163.1M1561.6 146.2L1552.8 143.7M1447.7 143.2L1448.3 134.2M1448.8 133.8L1448.3 134.2M1448.9 144.5L1457.3 144.2M1457.3 144.2L1459.9 139.4M1448.9 144.5L1447.7 143.2M1448.8 133.8L1457.3 134.0M1459.9 139.4L1457.3 134.0M1439.5 133.4L1448.3 134.2M1447.7 143.2L1439.2 143.4M1439.5 133.4L1437.1 137.2M1439.2 143.4L1437.1 137.2M1449.7 161.5L1441.6 163.6M1449.7 161.5L1453.0 165.6M1453.0 165.6L1451.7 171.3M1451.7 171.3L1445.0 172.9M1441.6 163.6L1442.6 171.2M1445.0 172.9L1442.6 171.2M1493.2 150.3L1484.3 152.6M1499.1 160.5L1488.3 165.5M1488.3 165.5L1483.2 159.8M1499.3 160.1L1499.1 160.5M1483.2 159.8L1484.3 152.6M1480.9 139.3L1481.3 138.8M1480.9 139.3L1481.0 149.5M1481.0 149.5L1484.3 152.6M1437.1 137.2L1430.7 137.0M1439.5 133.4L1437.8 128.1M1437.8 128.1L1431.0 127.8M1448.8 133.8L1448.4 124.1M1448.4 124.1L1440.0 124.2M1437.8 128.1L1440.0 124.2M1443.6 103.7L1443.1 102.5M1451.7 106.1L1443.6 103.7M1454.2 96.5L1454.9 103.3M1451.7 106.1L1454.9 103.3M1454.2 96.5L1446.0 94.4M1443.1 102.5L1446.0 94.4M1584.8 105.4L1590.6 96.6M1584.8 105.4L1590.6 115.9M1590.6 96.6L1601.3 102.1M1590.6 115.9L1601.8 108.8M1601.3 102.1L1601.8 108.8M1590.5 95.7L1590.6 96.6M1590.5 95.7L1581.4 88.6M1572.9 99.4L1576.4 105.2M1576.4 105.2L1584.8 105.4M1577.9 89.0L1581.4 88.6M1548.9 27.7L1545.6 25.0M1548.9 27.7L1548.9 35.8M1545.6 25.0L1537.0 27.9M1536.8 28.3L1537.0 27.9M1536.8 28.3L1540.0 36.2M1548.8 35.9L1540.0 36.2M1510.5 25.1L1506.9 29.5M1506.9 29.5L1502.2 29.2M1507.6 19.4L1510.5 25.1M1499.3 23.4L1502.2 29.2M1511.6 111.2L1512.8 115.8M1497.0 119.6L1496.0 116.8M1511.6 111.2L1500.6 107.1M1496.0 116.8L1500.6 107.1M1512.4 236.7L1503.7 234.5M1508.0 223.8L1502.7 232.5M1508.0 223.8L1508.4 223.7M1508.4 223.7L1515.7 229.8M1502.7 232.5L1503.7 234.5M1612.4 236.5L1615.6 242.2M1612.4 236.5L1605.6 236.8M1606.6 247.1L1612.3 247.0M1612.3 247.0L1615.6 242.2M1615.2 232.1L1621.1 231.2M1625.1 237.5L1621.1 231.2M1625.1 237.5L1620.1 242.6M1612.4 236.5L1615.2 232.1M1620.1 242.6L1615.6 242.2M1570.6 265.1L1569.6 258.3M1567.7 257.1L1561.4 258.8M1567.7 257.1L1569.6 258.3M1561.4 258.8L1560.8 265.6M1578.4 256.5L1579.4 264.0M1578.0 256.2L1569.6 258.3M1564.8 246.9L1558.2 249.5M1567.6 248.8L1567.7 257.1M1558.0 256.6L1561.4 258.8M1537.6 198.3L1536.0 198.8M1545.4 213.1L1546.2 203.3M1533.9 212.9L1531.6 209.3M1531.6 209.3L1536.0 198.8M1532.0 181.6L1524.9 192.9M1533.6 181.3L1532.0 181.6M1524.9 192.9L1525.2 193.8M1536.0 198.8L1525.2 193.8M1514.5 203.9L1520.5 203.8M1514.5 203.9L1510.0 210.4M1510.0 210.4L1513.4 216.3M1520.5 203.8L1524.2 208.5M1524.2 208.5L1519.7 217.2M1513.4 216.3L1519.7 217.2M1531.6 209.3L1524.2 208.5M1525.2 193.8L1520.5 203.8M1522.3 221.0L1519.7 217.2M1508.4 223.7L1513.4 216.3M1568.9 203.2L1570.2 213.4M1568.9 203.2L1565.6 201.4M1565.6 201.4L1558.6 204.1M1558.6 204.1L1557.3 213.7M1557.3 213.7L1566.3 216.3M1566.3 216.3L1570.2 213.4M1579.2 199.6L1568.9 203.2M1564.0 189.9L1565.6 201.4M1551.5 200.5L1558.6 204.1M1545.9 213.8L1554.6 215.4M1554.6 215.4L1557.3 213.7M1563.7 237.9L1563.4 227.7M1563.7 237.9L1554.7 239.2M1552.1 236.6L1553.4 227.7M1552.1 236.6L1554.7 239.2M1563.4 227.7L1555.7 226.3M1553.4 227.7L1555.7 226.3M1573.8 227.8L1575.1 236.4M1563.9 238.1L1563.7 237.9M1565.9 225.9L1563.4 227.7M1565.9 225.9L1573.8 227.8M1553.8 246.4L1554.7 239.2M1543.3 225.3L1553.4 227.7M1544.2 237.7L1552.1 236.6M1554.6 215.4L1555.7 226.3M1565.9 225.9L1566.3 216.3M1639.0 237.8L1633.7 232.9M1633.7 232.9L1627.7 237.9M1627.7 237.9L1630.9 243.7M1640.9 226.7L1645.6 232.2M1633.8 231.7L1640.9 226.7M1633.8 231.7L1633.7 232.9M1621.1 231.2L1623.8 225.9M1628.7 225.3L1633.8 231.7M1625.1 237.5L1627.7 237.9M1617.3 219.2L1610.7 224.8M1617.3 219.2L1611.5 211.2M1602.8 215.9L1611.5 211.2M1602.8 215.9L1607.1 224.5M1607.1 224.5L1610.7 224.8M1615.2 232.1L1610.7 224.8M1619.0 219.4L1617.3 219.2M1606.2 200.8L1612.3 208.2M1597.1 206.1L1602.7 215.8M1612.3 208.2L1611.5 211.2M1602.3 229.9L1607.1 224.5M1593.4 220.9L1602.7 215.8M1597.3 229.4L1593.4 220.9M1640.9 226.7L1641.0 225.2M1632.5 219.4L1635.8 219.1M1641.0 225.2L1635.8 219.1M1626.1 211.8L1619.9 205.0M1626.1 211.8L1633.2 206.6M1633.2 206.6L1633.6 202.4M1633.6 202.4L1626.8 197.5M1626.8 197.5L1621.2 200.2M1621.2 200.2L1619.9 205.0M1626.1 212.2L1626.1 211.8M1612.3 208.2L1619.9 205.0M1635.8 219.1L1640.4 212.5M1640.4 212.5L1633.2 206.6M1639.8 198.6L1633.6 202.4M1640.5 194.0L1639.8 198.6M1628.3 191.1L1626.8 197.5M1614.4 193.6L1621.2 200.2M1579.1 223.8L1583.8 225.3M1579.1 223.8L1576.9 215.4M1583.8 225.3L1591.1 220.1M1591.1 220.1L1588.2 212.1M1576.9 215.4L1582.9 210.5M1582.9 210.5L1588.2 212.1M1573.8 227.8L1579.1 223.8M1586.3 232.5L1583.8 225.3M1570.2 213.4L1576.9 215.4M1593.4 220.9L1591.1 220.1M1596.1 205.8L1588.2 212.1M1580.4 200.1L1582.9 210.5M1590.6 115.9L1590.5 116.7M1571.2 114.1L1576.4 105.2M1571.2 114.1L1579.6 123.8M1590.5 116.7L1579.6 123.8M1581.5 146.8L1584.7 134.7M1568.1 132.9L1578.8 127.5M1567.7 142.0L1568.1 132.9M1584.7 134.7L1578.8 127.5M1609.2 157.9L1607.7 152.4M1593.6 150.8L1596.8 148.7M1596.8 148.7L1607.7 152.4M1621.8 147.3L1613.1 146.1M1624.3 152.9L1621.8 147.3M1613.1 146.1L1607.7 152.4M1665.7 165.8L1668.6 163.7M1659.4 154.7L1668.7 155.0M1668.7 155.0L1668.6 163.7M1658.4 152.9L1661.0 144.3M1661.0 144.3L1670.0 146.2M1670.0 146.2L1669.4 154.3M1668.7 155.0L1669.4 154.3M1681.4 133.1L1679.0 125.3M1679.0 125.3L1670.8 126.5M1671.2 135.3L1670.2 134.5M1670.8 126.5L1670.2 134.5M1648.9 151.0L1647.6 147.9M1634.0 154.9L1637.5 145.7M1647.6 147.9L1637.5 145.7M1621.8 147.3L1626.6 140.5M1626.6 140.5L1635.8 141.9M1637.5 145.7L1635.8 141.9M1517.0 59.6L1520.5 66.8M1516.8 72.6L1520.5 66.8M1510.5 59.6L1505.5 66.4M1510.5 59.6L1517.0 59.6M1516.8 72.6L1512.5 72.9M1512.5 72.9L1505.5 66.4M1506.0 52.6L1503.4 52.4M1496.8 58.4L1503.4 52.4M1510.5 59.6L1506.0 52.6M1496.8 58.4L1503.6 66.5M1503.6 66.5L1505.5 66.4M1539.4 102.3L1529.7 111.0M1539.4 102.3L1533.9 93.4M1529.7 111.0L1521.5 101.8M1533.9 93.4L1526.9 94.1M1526.9 94.1L1521.5 101.8M1529.6 114.0L1529.7 111.0M1511.6 111.2L1517.2 102.1M1517.2 102.1L1521.5 101.8M1496.8 88.6L1496.9 90.0M1496.8 88.6L1503.6 81.4M1496.9 90.0L1504.7 96.8M1503.6 81.4L1506.3 81.5M1506.3 81.5L1512.7 87.9M1512.7 87.9L1510.6 95.3M1504.7 96.8L1510.6 95.3M1482.7 93.6L1482.5 88.7M1488.5 82.6L1482.5 88.7M1488.5 82.6L1496.8 88.6M1490.2 97.1L1496.9 90.0M1490.2 97.1L1482.7 93.6M1488.5 82.6L1488.3 80.5M1497.7 73.2L1503.6 81.4M1495.4 73.1L1497.7 73.2M1495.4 73.1L1488.3 80.5M1490.2 97.1L1491.2 102.1M1491.2 102.1L1500.2 105.9M1500.2 105.9L1504.7 96.8M1512.5 72.9L1506.3 81.5M1497.7 73.2L1503.6 66.5M1522.3 81.1L1520.7 85.0M1522.3 81.1L1516.8 72.6M1520.7 85.0L1512.7 87.9M1520.7 85.0L1526.9 94.1M1517.2 102.1L1510.6 95.3M1500.2 105.9L1500.6 107.1M1518.8 250.6L1517.9 251.0M1517.9 251.0L1515.6 258.0M1564.4 114.7L1559.8 111.3M1564.4 114.7L1561.4 128.2M1559.8 111.3L1548.7 114.3M1561.4 128.2L1554.0 129.3M1554.0 129.3L1546.2 119.1M1546.2 119.1L1548.7 114.3M1562.5 97.8L1560.2 99.7M1571.2 114.1L1564.4 114.7M1560.2 99.7L1559.8 111.3M1568.1 132.9L1561.4 128.2M1579.6 123.8L1578.8 127.5M1560.2 99.7L1550.1 97.3M1550.1 97.3L1543.6 103.1M1543.6 103.1L1548.7 114.3M1550.0 136.9L1554.0 129.3M1539.4 121.1L1546.2 119.1M1539.4 102.3L1543.6 103.1M1499.1 160.5L1502.7 172.1M1487.7 170.6L1488.3 165.5M1487.7 170.6L1492.8 176.1M1492.8 176.1L1502.7 172.1M1439.2 143.4L1437.6 145.8M1431.0 146.2L1437.6 145.8M1448.9 144.5L1447.8 152.4M1447.8 152.4L1439.4 153.8M1437.6 145.8L1439.4 153.8M1441.1 163.2L1439.1 154.2M1441.1 163.2L1441.6 163.6M1447.8 152.4L1450.9 155.7M1450.9 155.7L1449.7 161.5M1439.4 153.8L1439.1 154.2M1439.1 154.2L1432.0 155.6M1441.1 163.2L1433.7 164.7M1436.0 173.6L1442.6 171.2M1450.9 155.7L1458.1 154.1M1457.3 144.2L1459.9 150.1M1458.1 154.1L1459.9 150.1M1459.9 139.4L1469.3 139.4M1469.3 139.4L1469.3 149.5M1459.9 150.1L1469.3 149.5M1469.7 139.1L1469.3 139.4M1480.9 139.3L1469.7 139.1M1481.0 149.5L1471.0 151.2M1469.3 149.5L1471.0 151.2M1474.1 168.8L1474.5 162.9M1474.1 168.8L1465.2 172.9M1474.5 162.9L1470.2 159.3M1470.2 159.3L1462.7 161.5M1465.2 172.9L1464.3 172.5M1464.3 172.5L1461.5 163.8M1461.5 163.8L1462.7 161.5M1479.2 174.0L1474.1 168.8M1479.2 174.0L1487.7 170.6M1483.2 159.8L1474.5 162.9M1478.2 178.6L1469.4 182.1M1478.2 178.6L1479.2 174.0M1469.4 182.1L1468.4 181.6M1468.4 181.6L1465.2 172.9M1471.0 151.2L1470.2 159.3M1458.1 154.1L1462.7 161.5M1455.8 175.8L1464.3 172.5M1455.8 175.8L1455.3 179.1M1468.4 181.6L1459.9 185.2M1455.3 179.1L1459.9 185.2M1455.8 175.8L1451.7 171.3M1453.0 165.6L1461.5 163.8M1440.0 124.2L1438.1 119.6M1438.1 119.6L1432.0 118.6M1441.5 113.4L1438.1 119.6M1441.5 113.4L1440.3 110.7M1440.3 110.7L1433.7 109.3M1443.6 103.7L1440.3 110.7M1443.1 102.5L1436.1 100.4M1445.8 94.1L1446.0 94.4M1445.8 94.1L1439.0 91.7M1590.5 95.7L1598.1 85.7M1587.4 77.6L1587.0 77.7M1581.4 88.6L1587.0 77.7M1587.4 77.6L1597.2 82.2M1597.2 82.2L1598.1 85.7M1628.2 36.5L1622.2 35.2M1631.8 31.1L1628.2 36.5M1623.9 26.0L1620.3 31.6M1622.2 35.2L1620.3 31.6M1639.0 36.4L1635.2 41.7M1628.2 36.5L1630.3 40.8M1630.3 40.8L1635.2 41.7M1561.0 15.1L1561.4 8.6M1565.1 17.4L1561.0 15.1M1565.1 17.4L1570.4 15.5M1570.4 15.5L1570.8 9.1M1563.0 47.9L1560.4 45.9M1550.5 48.1L1560.4 45.9M1550.5 48.1L1551.5 58.4M1551.5 58.4L1554.0 60.0M1563.0 47.9L1562.4 57.3M1554.0 60.0L1562.4 57.3M1555.2 17.4L1561.0 15.1M1555.2 17.4L1552.5 15.8M1552.1 8.8L1552.5 15.8M1545.6 25.0L1545.1 17.5M1555.6 24.4L1548.9 27.7M1555.6 24.4L1555.2 17.4M1552.5 15.8L1545.1 17.5M1538.5 50.5L1540.3 48.2M1538.5 50.5L1528.8 50.4M1540.3 48.2L1537.3 39.7M1537.3 39.7L1529.7 39.8M1528.8 50.4L1527.1 42.8M1529.7 39.8L1527.1 42.8M1549.6 47.4L1548.8 35.9M1549.6 47.4L1540.3 48.2M1540.0 36.2L1537.3 39.7M1569.4 35.5L1560.4 36.8M1569.4 35.5L1570.0 27.5M1560.0 27.2L1564.9 25.1M1560.0 27.2L1559.4 35.7M1559.4 35.7L1560.4 36.8M1570.0 27.5L1564.9 25.1M1572.3 38.2L1570.7 46.7M1572.3 38.2L1569.4 35.5M1560.4 45.9L1560.4 36.8M1570.7 46.7L1563.0 47.9M1555.6 24.4L1560.0 27.2M1565.1 17.4L1564.9 25.1M1548.9 35.8L1559.4 35.7M1550.5 48.1L1549.6 47.4M1518.4 22.0L1525.6 21.6M1518.4 22.0L1515.8 25.4M1515.8 25.4L1518.8 32.4M1525.6 21.6L1528.0 30.1M1518.8 32.4L1527.3 31.0M1528.0 30.1L1527.3 31.0M1526.7 20.0L1525.6 21.6M1525.1 13.2L1526.7 20.0M1516.3 16.0L1518.4 22.0M1510.5 25.1L1515.8 25.4M1535.1 18.8L1537.0 27.9M1536.8 28.3L1528.0 30.1M1526.7 20.0L1535.1 18.8M1529.7 39.8L1527.3 31.0M1493.4 45.7L1489.5 39.1M1493.4 45.7L1498.7 45.0M1498.7 45.0L1501.5 40.5M1501.5 40.5L1498.1 34.2M1489.5 39.1L1494.4 33.7M1498.1 34.2L1494.4 33.7M1520.2 42.0L1515.5 47.3M1520.2 42.0L1517.3 34.9M1517.3 34.9L1510.1 36.2M1515.5 47.3L1511.8 46.8M1511.8 46.8L1507.9 40.0M1510.1 36.2L1507.9 40.0M1526.7 53.4L1519.9 54.6M1519.9 54.6L1515.5 47.3M1527.1 42.8L1520.2 42.0M1526.7 53.4L1528.8 50.4M1518.8 32.4L1517.3 34.9M1506.9 29.5L1510.1 36.2M1517.0 59.6L1519.9 54.6M1506.0 52.6L1511.8 46.8M1501.5 40.5L1507.9 40.0M1503.4 52.4L1498.7 45.0M1502.2 29.2L1498.1 34.2M1457.3 134.0L1460.2 128.0M1469.7 139.1L1469.2 128.2M1460.2 128.0L1469.2 128.2M1481.2 128.2L1470.4 127.1M1470.4 127.1L1469.2 128.2M1474.1 114.7L1473.3 107.8M1474.1 114.7L1482.1 117.6M1486.0 107.1L1486.7 113.8M1486.0 107.1L1477.1 103.6M1477.1 103.6L1473.3 107.8M1482.1 117.6L1486.7 113.8M1470.0 118.4L1470.4 127.1M1470.0 118.4L1474.1 114.7M1482.9 126.5L1482.1 117.6M1496.0 116.8L1486.7 113.8M1491.2 102.1L1486.0 107.1M1476.9 98.3L1482.7 93.6M1476.9 98.3L1477.1 103.6M1620.1 242.6L1623.1 248.6M1612.3 247.0L1615.3 252.7M1653.5 215.2L1658.2 219.0M1653.5 215.2L1648.1 218.6M1652.1 225.9L1647.8 221.0M1647.8 221.0L1648.1 218.6M1641.0 225.2L1647.8 221.0M1640.4 212.5L1641.6 212.3M1641.6 212.3L1648.1 218.6M1658.5 208.0L1654.3 210.1M1658.5 208.0L1660.1 202.3M1654.3 210.1L1646.8 205.5M1660.1 202.3L1653.1 197.6M1653.1 197.6L1646.8 205.0M1646.8 205.0L1646.8 205.5M1663.7 211.9L1658.5 208.0M1653.5 215.2L1654.3 210.1M1663.5 200.6L1660.1 202.3M1641.6 212.3L1646.8 205.5M1652.7 194.8L1653.1 197.6M1639.8 198.6L1646.8 205.0M1598.0 125.4L1596.2 134.2M1598.0 125.4L1608.5 122.2M1596.2 134.2L1598.4 137.1M1598.4 137.1L1610.6 137.0M1608.5 122.2L1611.0 123.9M1611.0 123.9L1612.8 133.8M1610.6 137.0L1612.8 133.8M1590.5 116.7L1598.0 125.4M1584.7 134.7L1596.2 134.2M1601.8 108.8L1607.6 112.5M1607.6 112.5L1608.5 122.2M1596.8 148.7L1598.4 137.1M1613.1 146.1L1610.6 137.0M1626.4 129.1L1623.8 134.1M1623.8 134.1L1612.8 133.8M1621.4 120.5L1626.4 129.1M1621.4 120.5L1611.0 123.9M1626.6 140.5L1623.8 134.1M1678.0 145.8L1680.5 151.2M1670.0 146.2L1671.2 145.2M1669.4 154.3L1677.8 156.0M1677.8 156.0L1680.5 151.2M1680.5 151.2L1686.9 151.2M1661.0 144.3L1659.3 141.0M1647.6 147.9L1651.2 141.3M1651.2 141.3L1659.3 141.0M1670.2 134.5L1661.6 135.5M1659.3 141.0L1661.6 135.5M1646.7 123.2L1650.0 130.7M1646.7 123.2L1636.7 124.9M1639.3 135.7L1647.5 135.2M1639.3 135.7L1635.6 127.1M1650.0 130.7L1647.5 135.2M1636.7 124.9L1635.6 127.1M1635.8 141.9L1639.3 135.7M1651.2 141.3L1647.5 135.2M1626.4 129.1L1635.6 127.1M1658.5 129.8L1661.6 135.5M1658.5 129.8L1650.0 130.7M1679.0 125.3L1680.0 123.5M1680.0 123.5L1686.9 123.0M1591.1 51.8L1586.7 53.0M1593.1 44.5L1591.1 51.8M1588.2 39.6L1593.1 44.5M1588.2 39.6L1583.3 40.4M1583.3 40.4L1580.6 48.9M1586.7 53.0L1580.6 48.9M1570.7 46.7L1575.1 50.4M1579.1 36.8L1572.3 38.2M1583.3 40.4L1579.1 36.8M1575.1 50.4L1580.6 48.9M1573.8 74.0L1577.4 72.4M1573.8 74.0L1566.0 69.5M1577.4 72.4L1579.7 63.3M1566.0 69.5L1567.5 60.8M1579.7 63.3L1573.5 58.7M1567.5 60.8L1573.5 58.7M1571.1 83.7L1573.8 74.0M1587.0 77.7L1577.4 72.4M1562.8 85.4L1560.7 83.8M1560.7 83.8L1559.3 72.4M1559.3 72.4L1566.0 69.5M1587.4 77.6L1592.3 66.6M1592.3 66.6L1584.0 62.0M1584.0 62.0L1579.7 63.3M1554.0 60.0L1555.7 70.5M1559.3 72.4L1555.7 70.5M1562.4 57.3L1567.5 60.8M1584.0 62.0L1586.7 53.0M1575.1 50.4L1573.5 58.7M1550.1 97.3L1548.0 86.4M1560.7 83.8L1548.3 86.1M1548.0 86.4L1548.3 86.1M1533.9 93.4L1537.1 87.7M1548.0 86.4L1537.1 87.7M1555.7 70.5L1546.4 74.1M1548.3 86.1L1546.4 74.1M1522.3 81.1L1532.4 77.9M1537.1 87.7L1532.4 77.9M1492.3 180.5L1500.0 188.0M1492.3 180.5L1484.0 186.0M1484.0 186.0L1483.9 186.6M1483.9 186.6L1490.0 195.1M1500.0 188.0L1491.5 195.3M1491.5 195.3L1490.0 195.1M1492.8 176.1L1492.3 180.5M1478.2 178.6L1484.0 186.0M1513.3 159.0L1514.1 167.2M1502.7 172.1L1504.9 173.2M1504.9 173.2L1514.1 167.2M1530.6 163.1L1521.6 172.4M1514.1 167.2L1521.6 172.4M1532.0 181.6L1521.9 175.4M1521.6 172.4L1521.9 175.4M1622.2 35.2L1618.1 41.9M1620.3 31.6L1614.1 30.2M1614.1 30.2L1609.8 37.4M1618.1 41.9L1610.5 39.4M1609.8 37.4L1610.5 39.4M1592.3 66.6L1593.5 66.2M1591.1 51.8L1598.0 57.1M1598.0 57.1L1593.5 66.2M1601.3 102.1L1608.9 95.5M1598.1 85.7L1607.3 90.0M1608.9 95.5L1607.3 90.0M1636.7 124.9L1634.1 116.0M1621.4 120.5L1622.2 118.5M1634.1 116.0L1622.2 118.5M1658.6 55.7L1653.5 61.3M1652.6 61.2L1653.5 61.3M1652.6 61.2L1647.7 53.9M1647.7 53.9L1652.9 49.2M1535.1 18.8L1535.3 18.5M1545.1 17.5L1544.5 17.1M1535.3 18.5L1544.5 17.1M1454.2 96.5L1458.2 92.7M1463.3 105.8L1464.0 105.4M1464.0 105.4L1465.6 96.1M1454.9 103.3L1463.3 105.8M1458.2 92.7L1465.6 96.1M1476.9 98.3L1469.9 94.1M1482.5 88.7L1474.6 84.3M1474.6 84.3L1470.5 87.6M1470.5 87.6L1469.9 94.1M1464.0 105.4L1473.3 107.8M1465.6 96.1L1469.9 94.1M1496.8 58.4L1496.3 58.4M1493.4 45.7L1489.9 50.7M1489.9 50.7L1496.3 58.4M1494.4 33.7L1490.8 28.3M1460.9 115.5L1451.8 112.9M1461.0 115.8L1457.9 124.0M1457.9 124.0L1449.3 123.2M1449.3 123.2L1448.8 115.4M1451.8 112.9L1448.8 115.4M1463.3 105.8L1460.9 115.5M1470.0 118.4L1461.0 115.8M1451.7 106.1L1451.8 112.9M1460.2 128.0L1457.9 124.0M1448.4 124.1L1449.3 123.2M1441.5 113.4L1448.8 115.4M1490.7 209.1L1491.7 213.2M1496.5 203.1L1490.7 209.1M1504.5 210.1L1499.9 203.4M1499.9 203.4L1496.5 203.1M1504.5 210.1L1499.6 216.9M1491.7 213.2L1499.6 216.9M1504.5 210.1L1510.0 210.4M1508.0 223.8L1500.2 219.5M1500.2 219.5L1499.6 216.9M1679.0 159.4L1685.5 160.6M1679.0 159.4L1676.1 165.3M1683.5 169.7L1677.0 167.5M1677.0 167.5L1676.1 165.3M1677.8 156.0L1679.0 159.4M1668.6 163.7L1676.1 165.3M1673.3 175.0L1677.0 167.5M1685.6 114.1L1678.1 115.6M1680.0 123.5L1677.8 116.0M1677.8 116.0L1678.1 115.6M1683.7 105.4L1677.1 107.0M1678.1 115.6L1677.1 107.0M1533.0 76.5L1543.5 72.5M1533.0 76.5L1528.8 66.6M1543.5 72.5L1541.6 61.6M1531.4 62.8L1528.8 66.6M1531.4 62.8L1540.1 60.8M1540.1 60.8L1541.6 61.6M1546.4 74.1L1543.5 72.5M1532.4 77.9L1533.0 76.5M1520.5 66.8L1528.8 66.6M1551.5 58.4L1541.6 61.6M1526.7 53.4L1531.4 62.8M1538.5 50.5L1540.1 60.8M1507.6 180.3L1515.1 182.9M1507.6 180.3L1500.2 188.1M1500.2 188.1L1506.7 195.8M1516.7 188.9L1509.1 196.0M1516.7 188.9L1515.1 182.9M1506.7 195.8L1509.1 196.0M1504.9 173.2L1507.6 180.3M1521.9 175.4L1515.1 182.9M1496.5 203.1L1491.5 195.3M1499.9 203.4L1506.7 195.8M1524.9 192.9L1516.7 188.9M1514.5 203.9L1509.1 196.0M1609.1 62.2L1617.1 66.5M1609.1 62.2L1603.0 71.8M1611.6 77.5L1603.6 74.0M1611.6 77.5L1618.0 71.2M1618.0 71.2L1617.1 66.5M1603.6 74.0L1603.0 71.8M1612.8 82.3L1607.3 90.0M1597.2 82.2L1603.6 74.0M1612.8 82.3L1611.6 77.5M1593.5 66.2L1603.0 71.8M1614.1 52.6L1609.1 62.1M1614.1 52.6L1606.1 47.2M1604.6 47.6L1606.1 47.2M1604.6 47.6L1599.9 56.6M1599.9 56.6L1609.1 62.1M1593.1 44.5L1598.5 43.2M1598.0 57.1L1599.9 56.6M1598.5 43.2L1604.6 47.6M1608.9 95.5L1613.9 97.5M1607.6 112.5L1617.3 107.8M1613.9 97.5L1617.3 107.8M1622.2 118.5L1619.4 108.7M1617.3 107.8L1619.4 108.7M1612.8 82.3L1620.6 84.9M1613.9 97.5L1622.2 92.8M1620.6 84.9L1622.2 92.8M1629.0 104.4L1619.4 108.7M1629.0 104.4L1625.7 94.2M1625.7 94.2L1622.2 92.8M1635.2 41.7L1638.3 46.4M1646.2 42.6L1641.7 46.8M1638.3 46.4L1641.7 46.8M1647.7 53.9L1645.6 53.7M1641.7 46.8L1645.6 53.7M1652.6 61.2L1646.3 66.2M1643.4 65.6L1646.3 66.2M1643.4 65.6L1639.5 59.0M1645.6 53.7L1639.5 59.0M1570.0 27.5L1573.6 25.7M1579.1 36.8L1580.6 28.8M1573.6 25.7L1580.6 28.8M1570.4 15.5L1574.6 18.2M1573.6 25.7L1574.6 18.2M1574.6 18.2L1579.3 16.6M1579.3 16.6L1580.5 10.4M1544.5 17.1L1542.9 9.6M1535.3 18.5L1534.1 11.1M1458.2 92.7L1457.8 88.1M1470.5 87.6L1462.6 83.5M1457.8 88.1L1462.6 83.5M1474.2 50.8L1474.0 52.0M1474.2 50.8L1469.3 45.3M1474.0 52.0L1467.6 56.4M1467.6 56.4L1462.5 52.5M1467.4 60.4L1467.6 56.4M1467.4 60.4L1462.2 63.6M1462.2 63.6L1456.8 59.5M1461.4 68.1L1462.2 63.6M1467.4 60.4L1473.3 65.0M1461.4 68.1L1468.3 72.8M1473.3 65.0L1468.3 72.8M1488.3 80.5L1480.9 75.1M1474.6 84.3L1475.0 78.5M1480.9 75.1L1475.0 78.5M1462.6 83.5L1462.6 79.9M1462.6 79.9L1468.6 74.6M1475.0 78.5L1468.6 74.6M1479.7 58.4L1474.7 64.8M1479.7 58.4L1482.4 58.2M1482.4 58.2L1488.8 65.0M1474.7 64.8L1481.4 71.5M1481.4 71.5L1488.7 65.6M1488.7 65.6L1488.8 65.0M1473.3 65.0L1474.7 64.8M1474.0 52.0L1479.7 58.4M1480.9 45.4L1487.2 51.1M1480.9 45.4L1474.2 50.8M1487.2 51.1L1482.4 58.2M1489.9 50.7L1487.2 51.1M1496.3 58.4L1488.8 65.0M1480.9 75.1L1481.4 71.5M1468.3 72.8L1468.6 74.6M1495.4 73.1L1488.7 65.6M1502.1 244.3L1498.7 250.4M1502.1 244.3L1509.1 245.6M1507.0 254.5L1510.2 248.3M1509.1 245.6L1510.2 248.3M1500.8 241.5L1502.1 244.3M1503.7 234.5L1500.8 241.5M1513.1 238.9L1509.1 245.6M1517.9 251.0L1510.2 248.3M1500.8 241.5L1493.8 240.1M1493.8 240.1L1490.7 245.8M1486.9 219.3L1491.7 213.2M1486.9 219.3L1481.7 218.2M1490.7 209.1L1484.0 206.5M1481.7 218.2L1478.8 211.9M1478.8 211.9L1484.0 206.5M1490.0 195.1L1482.6 201.2M1482.6 201.2L1484.0 206.5M1448.5 188.5L1442.5 190.9M1448.5 188.5L1448.3 182.8M1448.3 182.8L1444.7 180.1M1444.7 180.1L1438.8 182.1M1459.9 185.2L1459.1 188.1M1455.3 179.1L1448.3 182.8M1452.5 191.3L1459.1 188.1M1452.5 191.3L1448.5 188.5M1445.0 172.9L1444.7 180.1M1634.1 116.0L1635.0 113.9M1629.0 104.4L1630.1 104.8M1635.0 113.9L1630.1 104.8M1648.6 119.8L1644.3 111.1M1648.6 119.8L1646.7 123.2M1635.0 113.9L1644.3 111.1M1660.1 125.2L1668.8 124.2M1660.1 125.2L1656.9 118.6M1656.9 118.6L1658.8 115.1M1658.8 115.1L1666.8 113.7M1668.8 124.2L1669.9 117.0M1669.9 117.0L1666.8 113.7M1670.8 126.5L1668.8 124.2M1658.5 129.8L1660.1 125.2M1648.6 119.8L1656.9 118.6M1655.3 107.0L1658.8 115.1M1655.3 107.0L1645.0 109.7M1644.3 111.1L1645.0 109.7M1677.8 116.0L1669.9 117.0M1668.3 108.0L1663.5 103.0M1668.3 108.0L1674.9 105.4M1674.9 105.4L1674.5 98.4M1663.5 103.0L1664.7 98.4M1664.7 98.4L1672.0 96.5M1674.5 98.4L1672.0 96.5M1666.8 113.7L1668.3 108.0M1655.7 106.1L1655.3 107.0M1655.7 106.1L1663.5 103.0M1677.1 107.0L1674.9 105.4M1651.9 96.4L1660.2 93.0M1660.2 93.0L1664.7 98.4M1655.7 106.1L1651.9 96.4M1660.9 90.6L1660.2 93.0M1668.5 87.2L1660.9 90.6M1668.5 87.2L1671.9 89.9M1671.9 89.9L1672.0 96.5M1681.0 96.2L1674.5 98.4M1671.9 89.9L1677.7 87.5M1668.4 82.3L1673.9 79.2M1668.4 82.3L1668.5 87.2M1638.3 46.4L1633.5 52.7M1639.5 59.0L1637.0 58.4M1637.0 58.4L1633.5 52.7M1631.9 82.1L1626.3 79.6M1631.9 82.1L1638.8 77.8M1631.0 68.5L1625.0 74.6M1631.0 68.5L1637.0 71.3M1625.0 74.6L1626.3 79.6M1637.0 71.3L1638.8 77.8M1620.6 84.9L1626.3 79.6M1633.3 90.0L1631.9 82.1M1633.3 90.0L1625.7 94.2M1623.6 60.5L1630.3 64.7M1630.3 64.7L1631.0 68.5M1617.1 66.5L1623.6 60.5M1618.0 71.2L1625.0 74.6M1643.4 65.6L1637.0 71.3M1630.3 64.7L1637.0 58.4M1579.3 16.6L1584.8 20.3M1580.6 28.8L1583.2 27.4M1584.8 20.3L1583.2 27.4M1589.8 12.3L1588.2 18.9M1584.8 20.3L1588.2 18.9M1588.2 39.6L1591.9 31.6M1583.2 27.4L1591.9 31.6M1445.8 94.1L1448.3 86.0M1457.8 88.1L1451.3 84.7M1448.3 86.0L1451.3 84.7M1448.3 86.0L1442.7 82.8M1492.0 236.2L1486.7 235.3M1492.0 236.2L1496.4 230.3M1489.3 224.5L1494.7 226.0M1489.3 224.5L1484.1 230.2M1484.1 230.2L1486.7 235.3M1496.4 230.3L1494.7 226.0M1502.7 232.5L1496.4 230.3M1493.8 240.1L1492.0 236.2M1500.2 219.5L1494.7 226.0M1486.9 219.3L1489.3 224.5M1480.0 229.5L1484.1 230.2M1480.0 229.5L1476.7 223.8M1481.7 218.2L1476.7 223.8M1486.7 235.3L1482.9 240.5M1480.0 229.5L1475.7 234.7M1452.4 196.3L1457.0 200.6M1452.4 196.3L1446.7 199.2M1451.4 207.0L1457.0 203.1M1457.0 203.1L1457.0 200.6M1452.5 191.3L1452.4 196.3M1456.8 214.8L1462.0 210.8M1457.0 203.1L1462.2 208.6M1462.0 210.8L1462.2 208.6M1465.0 195.4L1471.8 190.7M1465.0 195.4L1469.5 203.8M1478.1 199.0L1470.8 204.2M1478.1 199.0L1476.2 192.2M1469.5 203.8L1470.8 204.2M1476.2 192.2L1471.8 190.7M1459.1 188.1L1465.0 195.4M1457.0 200.6L1465.0 195.4M1469.4 182.1L1471.8 190.7M1462.2 208.6L1469.5 203.8M1482.6 201.2L1478.1 199.0M1474.6 211.3L1470.8 204.2M1478.8 211.9L1474.6 211.3M1483.9 186.6L1476.2 192.2M1651.9 96.4L1651.3 96.2M1645.0 109.7L1642.3 100.7M1651.3 96.2L1642.3 100.7M1630.1 104.8L1639.4 99.4M1633.3 90.0L1637.5 91.9M1637.5 91.9L1639.4 99.4M1639.4 99.4L1642.3 100.7M1651.0 74.5L1656.5 82.4M1651.0 74.5L1649.7 74.2M1649.7 74.2L1642.6 79.2M1656.5 82.6L1647.8 87.9M1642.6 79.2L1645.1 86.7M1645.1 86.7L1647.8 87.9M1638.8 77.8L1642.6 79.2M1646.3 66.2L1649.7 74.2M1663.2 78.4L1668.4 82.3M1663.2 78.4L1656.5 82.4M1660.9 90.6L1656.5 82.6M1651.3 96.2L1647.8 87.9M1637.5 91.9L1645.1 86.7M1623.4 58.3L1628.7 51.9M1623.4 58.3L1615.2 52.3M1619.6 45.5L1615.2 52.3M1619.6 45.5L1626.1 46.7M1626.1 46.7L1628.7 51.9M1623.6 60.5L1623.4 58.3M1633.5 52.7L1628.7 51.9M1614.1 52.6L1615.2 52.3M1618.1 41.9L1619.6 45.5M1610.5 39.4L1606.1 47.2M1630.3 40.8L1626.1 46.7M1483.4 33.4L1486.9 38.8M1486.9 38.8L1480.9 44.5M1480.9 44.5L1476.0 39.1M1489.5 39.1L1486.9 38.8M1480.9 45.4L1480.9 44.5M1462.6 79.9L1456.3 75.7M1451.3 84.7L1452.3 77.7M1456.3 75.7L1452.3 77.7M1461.4 68.1L1457.1 70.5M1456.3 75.7L1457.1 70.5M1452.3 77.7L1446.8 74.8M1457.1 70.5L1451.7 66.7M1463.0 222.3L1468.6 217.0M1468.9 217.0L1474.2 223.5M1474.2 223.5L1469.0 228.6M1462.0 210.8L1468.6 217.0M1474.6 211.3L1468.9 217.0M1476.7 223.8L1474.2 223.5M1664.6 63.6L1659.0 67.0M1659.0 67.0L1658.9 69.2M1658.9 69.2L1663.7 74.6M1663.7 74.6L1669.7 71.5M1653.5 61.3L1659.0 67.0M1651.0 74.5L1658.9 69.2M1663.2 78.4L1663.7 74.6M1588.2 18.9L1594.7 22.2M1591.9 31.6L1592.9 31.2M1592.9 31.2L1594.7 22.2M1598.5 43.2L1600.7 33.9M1592.9 31.2L1600.7 33.9M1598.5 14.8L1596.6 21.3M1594.7 22.2L1596.6 21.3M1609.8 37.4L1601.2 33.7M1601.2 33.7L1600.7 33.9M1601.2 33.7L1604.8 26.0M1614.1 30.2L1612.7 27.5M1612.7 27.5L1604.8 26.0M1596.6 21.3L1604.0 24.1M1604.8 26.0L1604.0 24.1M1612.7 27.5L1615.1 21.4M1604.0 24.1L1607.1 17.9" stroke="#4a4a4a" stroke-width="1.3" fill="none" stroke-linecap="round"/>
<circle cx="1559.2" cy="137.1" r="128.8" fill="none" stroke="#7c7c7c" stroke-width="1.2"/>
<path d="M1041.8 388.2L1026.4 403.5M1026.4 403.5L1014.9 397.5M1041.1 383.4L1028.7 373.8M1028.7 373.8L1018.1 375.9M1041.1 383.4L1041.8 388.2M1018.1 375.9L1014.9 397.5M989.0 490.9L985.7 502.2M989.0 490.9L978.5 484.6M985.7 502.2L974.2 499.8M978.5 484.6L972.1 495.1M972.1 495.1L974.2 499.8M1001.8 492.9L996.5 488.6M996.5 488.6L989.0 490.9M1000.8 504.0L995.8 506.6M1000.8 504.0L1001.8 492.9M995.8 506.6L986.1 502.9M986.1 502.9L985.7 502.2M1001.6 425.9L985.3 437.3M1001.6 425.9L997.0 411.3M985.3 437.3L974.7 430.9M972.7 413.9L974.7 430.9M972.7 413.9L977.2 408.1M997.0 411.3L977.2 408.1M1023.6 427.4L1031.0 415.3M1026.4 403.5L1031.0 415.3M1010.9 430.8L1023.6 427.4M1010.9 430.8L1001.6 425.9M1014.9 397.5L1004.3 400.5M997.0 411.3L1004.3 400.5M1017.0 473.7L1015.1 475.5M1017.0 473.7L1015.7 456.4M1015.1 475.5L998.5 475.2M998.9 456.1L993.9 469.6M998.9 456.1L1010.0 452.3M998.5 475.2L993.9 469.6M1015.7 456.4L1010.0 452.3M1014.6 491.2L1015.1 475.5M1001.8 492.9L1014.6 491.2M996.5 488.6L998.5 475.2M985.3 437.3L985.3 445.7M985.3 445.7L998.9 456.1M1010.9 430.8L1010.0 452.3M978.5 484.6L978.2 483.5M978.2 483.5L984.8 470.5M984.8 470.5L993.9 469.6M1018.1 375.9L1013.0 372.2M1004.3 400.5L991.9 382.7M991.9 382.7L996.2 374.3M1013.0 372.2L996.2 374.3M989.3 360.6L996.2 374.3M1013.0 372.2L1012.3 353.0M989.3 360.6L998.1 351.8M998.1 351.8L1012.3 353.0M1028.8 351.9L1014.1 351.4M1034.6 358.2L1028.8 351.9M1028.7 373.8L1034.6 358.2M1014.1 351.4L1012.3 353.0M1091.8 392.4L1089.3 403.4M1086.2 385.5L1091.8 392.4M1086.2 385.5L1070.5 390.5M1070.5 390.5L1076.1 405.1M1076.1 405.1L1089.3 403.4M1068.0 389.0L1065.9 378.2M1053.2 396.3L1068.0 389.0M1053.2 396.3L1041.8 388.2M1041.1 383.4L1055.0 370.7M1065.9 378.2L1055.0 370.7M1034.6 358.2L1043.1 357.1M1043.1 357.1L1054.6 367.0M1055.0 370.7L1054.6 367.0M1014.1 351.4L1013.6 336.1M1032.2 338.4L1026.0 333.6M1028.8 351.9L1032.2 338.4M1026.0 333.6L1013.6 336.1M1015.0 320.2L1025.2 320.7M1015.3 309.1L1015.0 320.2M1019.9 307.1L1015.3 309.1M1019.9 307.1L1027.1 310.1M1027.1 310.1L1025.2 320.7M1012.6 321.9L1015.0 320.2M1012.6 321.9L1012.1 334.6M1012.1 334.6L1013.6 336.1M1026.0 333.6L1027.0 322.5M1027.0 322.5L1025.2 320.7M1020.6 299.6L1016.4 297.2M1016.4 297.2L1010.0 299.5M1019.9 307.1L1020.6 299.6M1015.3 309.1L1010.3 306.4M1010.3 306.4L1010.0 299.5M974.3 398.6L981.8 385.4M974.3 398.6L957.5 391.9M981.8 385.4L970.1 373.1M957.5 391.9L960.7 378.2M970.1 373.1L960.7 378.2M977.2 408.1L974.3 398.6M991.9 382.7L981.8 385.4M971.5 367.1L984.2 359.5M984.2 359.5L989.3 360.6M971.5 367.1L970.1 373.1M971.5 367.1L961.7 357.4M952.6 361.0L961.7 357.4M952.6 361.0L949.3 370.3M949.3 370.3L960.7 378.2M913.9 385.0L922.7 387.7M928.2 378.1L922.7 387.7M912.8 382.5L913.9 385.0M912.8 382.5L916.1 374.1M928.2 378.1L928.0 377.7M928.0 377.7L917.7 373.3M916.1 374.1L917.7 373.3M952.6 361.0L944.4 353.2M946.0 371.6L949.3 370.3M944.4 353.2L937.2 356.7M946.0 371.6L935.5 365.0M937.2 356.7L935.5 365.0M940.1 383.0L946.0 371.6M928.2 378.1L940.1 383.0M928.0 377.7L931.6 366.7M935.5 365.0L931.6 366.7M1000.2 528.5L992.6 526.1M994.3 516.9L992.6 526.1M994.7 516.7L1004.1 519.0M994.7 516.7L994.3 516.9M1000.2 528.5L1002.7 527.2M1002.7 527.2L1004.1 519.0M1087.7 444.3L1098.3 448.0M1098.7 455.4L1098.3 448.0M1087.7 444.3L1081.4 455.9M1098.7 455.4L1092.4 463.3M1081.4 455.9L1092.4 463.3M1023.6 427.4L1037.0 444.0M1015.7 456.4L1032.6 453.0M1032.6 453.0L1037.0 444.0M1066.3 449.1L1058.0 452.7M1045.4 442.3L1058.0 452.7M1066.3 449.1L1071.2 434.6M1045.4 442.3L1053.5 428.0M1053.5 428.0L1071.2 434.6M1031.0 415.3L1050.3 416.7M1037.0 444.0L1045.4 442.3M1053.5 428.0L1050.3 416.7M1053.2 396.3L1053.7 412.8M1053.7 412.8L1050.3 416.7M1076.1 405.1L1072.5 411.8M1068.0 389.0L1070.5 390.5M1053.7 412.8L1072.5 411.8M1064.8 356.2L1054.6 367.0M1064.8 356.2L1062.5 349.2M1043.1 357.1L1049.9 343.7M1062.5 349.2L1049.9 343.7M902.9 390.4L899.8 393.9M902.9 390.4L901.6 386.0M893.3 392.5L893.3 386.6M893.3 386.6L895.2 384.7M899.8 393.9L893.3 392.5M895.2 384.7L901.6 386.0M913.9 385.0L909.8 392.0M902.9 390.4L909.8 392.0M912.8 382.5L904.8 380.7M901.6 386.0L904.8 380.7M893.3 392.5L892.6 393.1M893.3 386.6L888.3 385.7M892.6 393.1L887.1 392.0M1027.1 310.1L1028.7 309.2M1039.2 313.0L1037.5 321.6M1039.2 313.0L1037.6 310.6M1037.5 321.6L1027.0 322.5M1028.7 309.2L1037.6 310.6M1037.6 310.6L1039.8 302.7M1047.5 312.4L1039.2 313.0M1049.7 305.5L1047.5 312.4M1049.7 305.5L1047.1 302.5M1047.1 302.5L1039.8 302.7M1054.8 304.8L1057.0 298.9M1053.7 296.0L1057.0 298.9M1049.7 305.5L1054.8 304.8M1053.7 296.0L1048.7 296.1M1047.1 302.5L1048.7 296.1M1024.9 292.5L1028.3 290.6M1024.9 292.5L1024.4 297.6M1024.4 297.6L1029.8 300.4M1032.8 292.2L1031.9 299.4M1032.8 292.2L1028.3 290.6M1029.8 300.4L1031.9 299.4M1021.3 289.8L1016.6 291.0M1016.4 297.2L1016.6 291.0M1020.6 299.6L1024.4 297.6M1021.3 289.8L1024.9 292.5M1028.7 309.2L1029.8 300.4M1039.8 302.7L1038.6 300.8M1038.6 300.8L1031.9 299.4M939.3 308.7L942.0 312.4M942.0 312.4L939.3 316.4M933.9 312.8L936.6 316.4M939.3 316.4L936.6 316.4M945.7 311.8L942.0 312.4M945.7 311.8L947.3 308.7M944.9 304.9L947.3 308.7M932.5 321.1L936.6 316.4M932.5 321.1L928.7 317.2M904.8 380.7L903.7 378.4M903.7 378.4L907.4 370.6M916.1 374.1L907.9 370.4M907.4 370.6L907.9 370.4M930.7 352.0L937.2 356.7M930.7 352.0L923.7 356.3M931.6 366.7L923.4 362.5M923.7 356.3L923.4 362.5M917.7 373.3L919.5 364.8M919.5 364.8L923.4 362.5M934.0 395.6L937.5 405.9M934.0 395.6L941.2 386.3M937.5 405.9L949.9 405.9M941.2 386.3L955.7 392.7M955.7 392.7L949.9 405.9M940.1 383.0L941.2 386.3M922.7 387.7L924.7 393.8M924.7 393.8L934.0 395.6M957.5 391.9L955.7 392.7M972.7 413.9L955.5 415.8M955.5 415.8L949.9 405.9M985.3 445.7L972.8 456.8M984.8 470.5L973.2 460.7M972.8 456.8L973.2 460.7M965.5 478.5L963.5 472.2M978.2 483.5L965.5 478.5M973.2 460.7L963.5 472.2M972.8 456.8L962.1 450.3M963.5 472.2L955.7 470.3M955.7 470.3L949.9 457.8M949.9 457.8L962.1 450.3M974.7 430.9L960.1 437.8M960.1 437.8L962.1 450.3M995.8 506.6L994.7 516.7M986.1 502.9L982.4 512.2M994.3 516.9L985.3 515.8M982.4 512.2L985.3 515.8M1098.3 448.0L1102.8 445.0M1102.8 445.0L1112.5 448.9M1098.7 455.4L1108.1 459.6M1112.5 448.9L1110.3 458.3M1108.1 459.6L1110.3 458.3M1117.9 461.4L1120.4 459.8M1110.3 458.3L1117.9 461.4M1112.5 448.9L1113.7 448.4M1113.7 448.4L1122.2 452.2M1122.2 452.2L1120.4 459.8M1032.6 453.0L1039.5 467.9M1017.0 473.7L1030.3 475.6M1030.3 475.6L1039.5 467.9M1056.4 460.4L1058.0 452.7M1056.4 460.4L1042.7 468.7M1039.5 467.9L1042.7 468.7M1066.3 449.1L1077.7 457.0M1077.7 457.0L1074.4 466.7M1056.4 460.4L1065.4 470.4M1065.4 470.4L1074.4 466.7M1072.0 434.2L1076.8 421.2M1072.0 434.2L1086.0 440.0M1076.8 421.2L1091.2 421.5M1086.0 440.0L1093.4 430.9M1093.4 430.9L1091.2 421.5M1072.5 411.8L1076.8 421.2M1071.2 434.6L1072.0 434.2M1087.7 444.3L1086.0 440.0M1081.4 455.9L1077.7 457.0M1093.5 418.7L1091.2 421.5M1093.5 418.7L1092.0 405.9M1089.3 403.4L1092.0 405.9M1102.8 445.0L1104.5 434.3M1104.5 434.3L1093.4 430.9M1119.1 430.6L1115.2 436.1M1119.1 430.6L1117.5 424.5M1117.5 424.5L1108.2 422.7M1115.2 436.1L1104.6 434.2M1104.6 434.2L1108.2 422.7M1113.7 448.4L1117.1 440.4M1117.1 440.4L1115.2 436.1M1093.5 418.7L1106.0 418.5M1106.0 418.5L1108.2 422.7M1091.8 392.4L1103.5 390.2M1092.0 405.9L1105.5 404.4M1103.5 390.2L1107.4 400.7M1105.5 404.4L1107.4 400.7M1106.0 418.5L1108.7 412.6M1105.5 404.4L1108.7 412.6M1064.8 356.2L1071.8 357.8M1065.9 378.2L1078.1 369.0M1078.1 369.0L1071.8 357.8M1086.2 385.5L1087.4 380.3M1087.4 380.3L1078.8 369.1M1078.1 369.0L1078.8 369.1M1049.6 342.6L1055.9 331.9M1049.6 342.6L1038.2 336.5M1055.9 331.9L1048.5 324.7M1038.2 336.5L1040.9 325.6M1040.9 325.6L1048.5 324.7M1058.4 331.2L1055.9 331.9M1058.4 331.2L1067.3 335.6M1062.5 349.2L1069.1 340.1M1049.9 343.7L1049.6 342.6M1069.1 340.1L1067.3 335.6M1032.2 338.4L1038.2 336.5M1037.5 321.6L1040.9 325.6M1051.6 316.7L1048.5 324.7M1047.5 312.4L1051.6 316.7M1054.8 304.8L1059.6 309.2M1051.6 316.7L1056.6 315.9M1059.6 309.2L1056.6 315.9M1058.4 331.2L1062.7 321.7M1056.6 315.9L1062.7 321.7M1057.0 298.9L1059.2 298.3M1059.2 298.3L1061.3 293.8M1053.7 296.0L1055.2 291.6M1048.7 296.1L1047.4 294.5M1047.4 294.5L1048.7 289.6M1028.3 290.6L1028.5 285.6M1021.3 289.8L1022.0 285.1M1015.1 284.8L1015.0 289.8M1016.6 291.0L1015.0 289.8M1015.0 289.8L1008.4 290.7M1008.4 290.7L1008.4 284.9M1010.0 299.5L1008.7 298.2M1008.7 298.2L1008.2 290.9M1008.4 290.7L1008.2 290.9M961.7 357.4L962.8 350.6M962.8 350.6L955.4 342.4M944.4 353.2L945.3 348.6M945.3 348.6L953.5 342.2M955.4 342.4L953.5 342.2M958.1 324.4L965.1 319.5M958.1 324.4L952.3 317.5M965.1 319.5L961.5 312.5M961.5 312.5L955.7 312.9M955.7 312.9L952.3 317.5M949.8 317.7L945.7 311.8M949.8 317.7L952.3 317.5M947.3 308.7L952.7 307.4M952.7 307.4L955.7 312.9M989.8 292.7L984.0 294.7M984.0 294.7L984.9 301.3M991.7 293.6L989.8 292.7M993.3 299.1L991.7 293.6M993.3 299.1L990.6 302.3M990.6 302.3L984.9 301.3M1000.5 298.7L1008.7 298.2M1010.3 306.4L1003.3 309.8M999.8 299.4L1001.0 308.3M999.8 299.4L1000.5 298.7M1003.3 309.8L1001.0 308.3M1012.6 321.9L1003.9 318.7M1003.3 309.8L1003.9 318.7M993.3 299.1L999.8 299.4M990.6 302.3L992.6 309.4M1001.0 308.3L992.6 309.4M998.1 351.8L994.9 339.3M1012.1 334.6L999.1 334.5M999.1 334.5L994.9 339.3M1003.9 318.7L996.5 323.1M999.1 334.5L996.5 323.1M992.6 309.4L990.9 311.7M990.9 311.7L993.7 321.9M996.5 323.1L993.7 321.9M952.7 307.4L953.3 305.7M953.3 305.7L950.9 301.3M932.5 321.4L927.6 325.4M923.7 321.7L927.6 325.4M982.4 512.2L976.4 513.1M974.2 499.8L970.5 507.7M976.4 513.1L970.5 507.7M1117.1 440.4L1124.9 441.4M1124.9 441.4L1126.0 444.2M1122.2 452.2L1122.6 452.1M1126.0 444.2L1122.6 452.1M1032.8 488.3L1043.1 489.9M1032.8 488.3L1030.3 475.6M1042.7 468.7L1051.0 481.8M1043.1 489.9L1051.0 481.8M1000.2 528.5L999.2 535.2M992.3 526.3L992.6 526.1M992.3 526.3L991.7 534.0M999.2 535.2L993.3 535.5M991.7 534.0L993.3 535.5M999.1 541.3L999.9 535.9M999.9 535.9L1005.9 536.9M1005.9 536.9L1005.7 541.9M992.8 540.4L993.3 535.5M999.2 535.2L999.9 535.9M1007.4 535.7L1007.6 530.0M1002.7 527.2L1007.6 530.0M1007.4 535.7L1005.9 536.9M1012.8 537.4L1012.7 542.2M1007.4 535.7L1012.8 537.4M992.3 526.3L984.8 526.1M985.3 515.8L982.9 523.7M984.8 526.1L982.9 523.7M1137.8 408.3L1142.6 408.1M1136.0 405.5L1137.8 408.3M1136.0 405.5L1137.3 402.2M1137.3 402.2L1142.1 401.4M1119.4 412.4L1118.8 411.8M1119.4 412.4L1128.1 411.9M1118.8 411.8L1119.6 402.6M1119.6 402.6L1127.0 402.0M1128.1 411.9L1129.7 406.0M1129.7 406.0L1127.0 402.0M1120.5 421.4L1117.5 424.5M1120.5 421.4L1119.4 412.4M1108.7 412.6L1118.8 411.8M1107.4 400.7L1116.8 399.5M1116.8 399.5L1119.6 402.6M1118.8 393.0L1116.8 399.5M1118.8 393.0L1125.8 391.9M1125.8 391.9L1129.0 397.9M1129.0 397.9L1127.0 402.0M1136.7 413.7L1129.4 413.4M1129.4 413.4L1128.1 411.9M1137.8 408.3L1136.7 413.7M1136.0 405.5L1129.7 406.0M1134.7 397.0L1137.3 402.2M1129.0 397.9L1134.7 397.0M1103.5 390.2L1103.7 389.9M1118.8 393.0L1115.0 386.9M1115.0 386.9L1103.7 389.9M1062.7 321.7L1063.9 321.3M1063.9 321.3L1072.8 324.9M1067.3 335.6L1073.7 327.8M1073.7 327.8L1072.8 324.9M892.6 393.1L891.3 399.1M891.3 399.1L886.2 398.5M1064.8 301.7L1062.1 308.6M1065.0 301.6L1071.3 303.6M1068.6 312.0L1062.1 308.6M1068.6 312.0L1072.1 305.7M1072.1 305.7L1071.3 303.6M1067.4 296.4L1065.0 301.6M1059.2 298.3L1064.8 301.7M1059.6 309.2L1062.1 308.6M1073.7 299.5L1071.3 303.6M1069.0 312.9L1068.6 312.0M1069.0 312.9L1063.9 321.3M1077.3 306.9L1079.2 302.6M1077.3 306.9L1072.1 305.7M1041.9 287.9L1041.5 293.7M1034.5 291.4L1040.5 294.3M1034.5 291.4L1035.7 286.6M1040.5 294.3L1041.5 293.7M1047.4 294.5L1041.5 293.7M1032.8 292.2L1034.5 291.4M1038.6 300.8L1040.5 294.3M962.9 295.4L965.0 299.9M965.0 299.9L960.3 303.5M957.1 298.1L959.3 303.2M960.3 303.5L959.3 303.2M953.3 305.7L959.3 303.2M963.1 309.4L960.3 303.5M963.1 309.4L961.5 312.5M968.2 300.4L965.0 299.9M968.2 300.4L970.6 297.2M970.6 297.2L968.8 293.0M976.9 295.1L975.5 290.7M976.9 295.1L983.3 294.2M983.3 294.2L982.4 288.7M975.8 296.9L970.6 297.2M975.8 296.9L976.9 295.1M989.8 292.7L988.6 287.3M984.0 294.7L983.3 294.2M995.0 286.2L996.0 290.5M996.0 290.5L1000.1 291.7M1001.8 285.4L1002.2 290.1M1000.1 291.7L1002.2 290.1M991.7 293.6L996.0 290.5M1000.5 298.7L1000.1 291.7M1008.2 290.9L1002.2 290.1M939.3 316.4L943.5 322.3M932.5 321.4L937.7 326.3M937.7 326.3L943.5 322.3M949.8 317.7L945.0 322.5M945.0 322.5L943.5 322.3M957.6 326.5L949.1 329.4M957.6 326.5L958.1 324.4M945.0 322.5L949.1 329.4M955.4 342.4L962.2 333.7M953.5 342.2L947.4 333.9M957.6 326.5L962.2 333.7M949.1 329.4L947.4 333.9M945.3 348.6L937.4 341.7M947.4 333.9L942.0 334.6M937.4 341.7L942.0 334.6M937.7 326.3L937.1 329.4M942.0 334.6L937.1 329.4M978.0 303.3L971.0 306.5M978.0 303.3L980.9 304.3M980.9 304.3L982.7 311.5M971.0 306.5L970.6 307.6M970.6 307.6L974.0 314.9M982.7 311.5L979.1 315.8M974.0 314.9L979.1 315.8M968.2 300.4L971.0 306.5M975.8 296.9L978.0 303.3M984.9 301.3L980.9 304.3M990.9 311.7L982.7 311.5M963.1 309.4L970.6 307.6M967.5 320.0L965.1 319.5M967.5 320.0L974.0 314.9M993.7 321.9L982.8 325.2M982.8 325.2L979.1 315.8M981.7 327.4L984.9 337.6M981.7 327.4L971.7 328.6M968.1 333.6L971.7 328.6M968.1 333.6L974.4 344.9M984.9 337.6L976.9 345.4M976.9 345.4L974.4 344.9M994.9 339.3L984.9 337.6M982.8 325.2L981.7 327.4M967.5 320.0L971.7 328.6M962.2 333.7L968.1 333.6M962.8 350.6L974.4 344.9M984.2 359.5L976.9 345.4M918.1 334.0L915.8 339.9M918.1 334.0L914.8 331.5M915.8 339.9L915.1 340.1M910.5 337.0L915.1 340.1M955.5 415.8L951.9 422.9M960.1 437.8L956.9 435.9M951.9 422.9L956.9 435.9M1142.7 414.7L1136.8 413.8M1129.4 413.4L1128.8 421.6M1120.5 421.4L1128.3 422.1M1128.3 422.1L1128.8 421.6M1117.6 467.0L1123.2 470.3M1117.9 461.4L1117.6 467.0M1120.4 459.8L1126.1 462.4M1126.7 465.1L1126.1 462.4M1126.7 465.1L1123.4 470.2M1043.1 489.9L1046.0 499.4M1040.1 504.7L1046.0 499.4M1040.1 504.7L1031.2 503.7M1032.8 488.3L1028.9 492.7M1031.2 503.7L1028.9 492.7M1014.6 491.2L1015.4 492.0M1015.4 492.0L1028.9 492.7M1032.4 535.1L1039.0 534.8M1033.2 540.8L1032.4 535.1M1039.0 534.8L1040.0 539.6M1041.2 515.8L1031.7 517.8M1043.3 523.8L1041.2 515.8M1043.3 523.8L1039.2 526.9M1039.2 526.9L1033.3 525.8M1031.7 517.8L1033.3 525.8M1007.6 530.0L1012.9 527.6M1012.9 527.6L1015.4 529.4M1012.8 537.4L1016.0 535.4M1015.4 529.4L1016.0 535.4M1019.4 542.1L1019.1 536.8M1019.1 536.8L1016.0 535.4M1065.4 470.4L1064.4 475.6M1051.0 481.8L1052.5 482.1M1064.4 475.6L1052.5 482.1M986.8 535.1L985.9 539.1M986.8 535.1L983.1 531.8M983.1 531.8L980.7 532.7M980.7 532.7L979.4 537.5M991.7 534.0L986.8 535.1M984.8 526.1L983.1 531.8M974.9 530.4L980.7 532.7M973.4 535.6L974.9 530.4M974.7 530.0L976.7 523.5M974.7 530.0L968.5 529.3M967.0 526.6L968.5 529.3M967.0 526.6L969.5 520.9M969.5 520.9L973.8 520.3M973.8 520.3L976.7 523.5M974.9 530.4L974.7 530.0M982.9 523.7L976.7 523.5M966.8 533.2L968.5 529.3M962.2 526.5L960.3 530.4M962.2 526.5L967.0 526.6M962.7 517.1L964.3 516.7M962.7 517.1L959.3 522.5M964.3 516.7L969.5 520.9M962.2 526.5L959.3 522.5M964.3 516.7L967.9 508.4M970.5 507.7L967.9 508.4M976.4 513.1L973.8 520.3M956.4 522.9L954.2 527.5M956.4 522.9L952.3 519.5M948.5 524.3L950.6 519.8M952.3 519.5L950.6 519.8M959.3 522.5L956.4 522.9M962.7 517.1L955.3 512.4M955.3 512.4L952.3 519.5M942.9 520.8L945.7 517.1M945.7 517.1L950.6 519.8M1134.7 397.0L1135.9 395.2M1135.9 395.2L1141.3 394.6M1092.1 344.2L1084.2 350.4M1092.1 344.2L1088.1 336.2M1082.2 335.3L1088.1 336.2M1082.2 335.3L1076.9 342.2M1076.9 342.2L1080.6 349.7M1080.6 349.7L1084.2 350.4M1099.3 350.8L1093.3 344.3M1093.3 344.3L1092.1 344.2M1099.4 354.7L1090.5 360.9M1099.4 354.7L1099.3 350.8M1090.5 360.9L1084.2 350.4M1093.3 344.3L1099.9 338.6M1099.6 335.0L1099.9 338.6M1099.6 335.0L1093.4 330.4M1093.3 330.4L1088.1 336.2M1069.1 340.1L1076.9 342.2M1080.2 330.1L1073.7 327.8M1080.2 330.1L1082.2 335.3M1071.8 357.8L1080.6 349.7M1078.8 369.1L1090.5 361.5M1090.5 361.5L1090.5 360.9M1110.6 374.8L1102.4 379.0M1110.6 374.8L1109.0 366.4M1106.4 364.7L1096.7 368.8M1106.4 364.7L1109.0 366.4M1102.4 379.0L1096.5 375.4M1096.5 375.4L1096.7 368.8M1105.2 357.9L1106.4 364.7M1105.2 357.9L1099.4 354.7M1090.5 361.5L1096.7 368.8M1087.4 380.3L1096.5 375.4M1103.7 389.9L1102.4 379.0M1069.0 312.9L1075.6 315.7M1077.3 306.9L1079.2 310.0M1079.2 310.0L1075.6 315.7M1072.8 324.9L1076.5 318.0M1075.6 315.7L1076.5 318.0M1076.5 318.0L1082.1 319.5M1080.2 330.1L1085.1 324.3M1082.1 319.5L1085.1 324.3M1093.3 330.4L1088.3 324.4M1085.1 324.3L1088.3 324.4M899.8 393.9L900.7 400.1M900.7 400.1L899.1 401.7M891.3 399.1L892.2 400.8M892.2 400.8L899.1 401.7M901.2 362.0L896.9 360.0M901.2 362.0L899.7 368.0M894.3 366.3L899.7 368.0M894.3 380.2L897.8 376.3M894.3 380.2L890.0 378.9M897.8 376.3L897.1 374.3M897.1 374.3L892.1 372.3M895.2 384.7L894.3 380.2M903.7 378.4L897.8 376.3M907.4 370.6L899.8 368.3M899.8 368.3L897.1 374.3M899.7 368.0L899.8 368.3M1121.7 352.6L1118.8 351.0M1121.7 352.6L1123.0 357.8M1117.1 361.2L1123.0 357.8M1117.1 361.2L1112.8 354.1M1118.8 351.0L1112.8 354.1M1105.2 357.9L1111.5 353.8M1116.5 363.1L1109.0 366.4M1116.5 363.1L1117.1 361.2M1111.5 353.8L1112.8 354.1M937.1 329.4L931.3 331.9M927.6 325.4L927.4 327.6M931.3 331.9L927.4 327.6M919.3 326.3L922.5 329.7M927.4 327.6L922.5 329.7M918.1 334.0L921.2 333.3M921.2 333.3L922.5 329.7M930.5 349.2L936.1 341.9M930.5 349.2L923.0 343.6M936.1 341.9L930.0 336.7M923.0 343.6L926.0 338.1M926.0 338.1L930.0 336.7M930.7 352.0L930.5 349.2M937.4 341.7L936.1 341.9M917.7 350.9L922.1 343.9M922.1 343.9L923.0 343.6M917.8 351.9L923.7 356.3M917.8 351.9L917.7 350.9M931.3 331.9L930.0 336.7M915.8 339.9L922.1 343.9M921.2 333.3L926.0 338.1M907.9 370.4L909.2 363.9M901.2 362.0L903.5 360.8M903.5 360.8L909.2 363.9M917.8 351.9L912.6 356.2M919.5 364.8L912.7 361.5M912.6 356.2L912.7 361.5M909.2 363.9L912.7 361.5M898.8 471.0L902.7 469.1M902.7 469.1L903.1 465.1M903.1 465.1L900.3 463.1M895.9 464.6L900.3 463.1M937.5 424.4L935.9 434.9M937.5 424.4L951.9 422.9M956.9 435.9L942.3 441.6M935.9 434.9L942.3 441.6M948.8 457.6L941.2 448.3M949.9 457.8L948.8 457.6M941.2 448.3L942.3 441.6M900.3 463.1L900.2 457.7M900.2 457.7L898.1 456.4M898.1 456.4L893.4 458.5M891.9 425.3L885.9 425.9M892.1 425.5L891.7 432.0M891.7 432.0L886.7 432.2M890.9 418.6L885.4 419.2M890.9 418.6L891.9 425.3M937.5 405.9L934.6 409.5M937.5 424.4L935.3 422.2M934.6 409.5L935.3 422.2M909.8 409.0L920.6 410.0M909.8 409.0L908.9 401.0M911.8 397.4L920.5 398.4M911.8 397.4L908.9 401.0M920.5 398.4L921.8 408.8M921.8 408.8L920.6 410.0M900.7 400.1L908.9 401.0M899.1 401.7L899.1 409.3M899.4 409.7L899.1 409.3M899.4 409.7L908.5 410.3M908.5 410.3L909.8 409.0M909.8 392.0L911.8 397.4M924.7 393.8L920.5 398.4M934.6 409.5L921.8 408.8M935.3 422.2L922.9 423.3M920.6 410.0L919.8 420.1M922.9 423.3L919.8 420.1M967.9 508.4L959.7 504.2M955.3 512.4L955.0 511.7M955.0 511.7L959.7 504.2M945.7 517.1L945.2 515.2M945.2 515.2L949.2 510.1M955.0 511.7L949.2 510.1M934.8 509.5L932.1 512.8M934.8 509.5L939.2 510.0M939.2 510.0L940.4 513.3M937.4 516.9L940.4 513.3M945.2 515.2L940.4 513.3M955.7 470.3L947.6 477.4M947.6 477.4L939.4 472.1M948.8 457.6L938.5 465.7M939.4 472.1L938.5 465.7M929.4 452.4L941.2 448.3M929.4 452.4L932.7 463.1M938.5 465.7L932.7 463.1M1122.6 452.1L1129.3 454.0M1126.1 462.4L1129.7 459.2M1129.7 459.2L1129.3 454.0M1126.0 444.2L1132.6 446.4M1132.6 446.4L1130.9 453.1M1129.3 454.0L1130.9 453.1M1128.2 472.9L1123.4 470.2M1126.7 465.1L1131.1 466.8M1129.7 459.2L1133.6 461.0M1130.9 453.1L1136.0 454.4M1064.4 475.6L1071.5 484.1M1052.5 482.1L1060.7 494.1M1060.7 494.1L1069.9 489.0M1069.9 489.0L1071.5 484.1M1124.8 478.9L1120.4 476.6M1117.2 481.9L1119.4 476.9M1117.2 481.9L1121.1 484.8M1120.4 476.6L1119.4 476.9M1123.2 470.3L1120.4 476.6M1132.6 446.4L1132.9 446.2M1132.9 446.2L1138.0 448.1M1135.1 440.2L1139.7 441.2M1135.1 440.2L1132.9 446.2M1040.6 533.1L1045.2 533.6M1045.2 533.6L1048.6 530.6M1043.3 523.8L1046.9 524.9M1039.2 526.9L1040.6 533.1M1048.6 530.6L1046.9 524.9M1056.7 528.7L1054.2 521.6M1056.7 528.7L1051.5 531.5M1051.5 531.5L1048.6 530.6M1046.9 524.9L1052.8 521.1M1052.8 521.1L1054.2 521.6M1042.8 513.4L1041.2 515.8M1042.8 513.4L1050.1 513.8M1052.8 521.1L1050.1 513.8M1051.6 500.9L1060.6 494.6M1051.6 500.9L1054.6 509.0M1054.6 509.0L1058.7 510.1M1058.7 510.1L1066.0 505.3M1060.6 494.6L1066.4 503.6M1066.4 503.6L1066.0 505.3M1046.0 499.4L1051.6 500.9M1060.7 494.1L1060.6 494.6M1040.1 504.7L1042.8 513.4M1050.1 513.8L1054.6 509.0M1054.2 521.6L1061.0 519.0M1061.9 517.2L1058.7 510.1M1061.0 519.0L1061.9 517.2M1068.8 515.9L1061.9 517.2M1068.8 515.9L1070.7 512.7M1070.7 512.7L1066.0 505.3M1039.0 534.8L1040.6 533.1M1045.2 533.6L1046.6 538.0M1051.5 531.5L1052.9 536.2M1031.2 503.7L1028.9 506.3M1031.7 517.8L1030.9 517.3M1028.9 506.3L1030.9 517.3M1025.6 536.8L1032.1 534.9M1025.6 536.8L1023.6 535.4M1023.6 535.4L1023.7 528.1M1023.7 528.1L1031.2 528.2M1032.1 534.9L1031.2 528.2M1032.4 535.1L1032.1 534.9M1026.1 541.6L1025.6 536.8M1019.1 536.8L1023.6 535.4M1015.4 529.4L1022.7 527.2M1022.7 527.2L1023.7 528.1M1033.3 525.8L1031.2 528.2M1022.2 519.9L1030.9 517.3M1022.7 527.2L1022.2 519.9M1138.7 381.5L1134.2 382.1M1134.2 382.1L1134.3 388.9M1140.1 387.6L1134.4 389.0M1125.6 382.8L1132.5 380.8M1127.4 389.3L1125.6 382.8M1127.4 389.3L1134.3 388.9M1132.5 380.8L1134.2 382.1M1127.4 389.3L1125.8 391.9M1135.9 395.2L1134.4 389.0M1125.6 382.8L1124.0 381.6M1115.0 386.9L1115.9 384.8M1124.0 381.6L1115.9 384.8M1110.6 374.8L1112.0 375.4M1115.9 384.8L1112.0 375.4M1123.0 357.8L1124.3 358.3M1124.3 358.3L1127.4 363.6M1127.4 363.6L1126.8 365.3M1116.5 363.1L1120.8 367.9M1120.8 367.9L1126.8 365.3M1112.0 375.4L1120.3 372.7M1120.8 367.9L1120.3 372.7M1124.0 381.6L1123.6 375.5M1120.3 372.7L1123.6 375.5M1136.7 374.7L1132.8 376.1M1132.8 376.1L1129.5 373.1M1134.5 368.4L1130.2 370.3M1130.2 370.3L1129.5 373.1M1132.5 380.8L1132.8 376.1M1123.6 375.5L1129.5 373.1M1126.8 365.3L1130.2 370.3M1127.4 363.6L1132.0 362.0M1085.0 306.2L1082.5 309.9M1082.5 309.9L1086.3 314.1M1090.7 310.1L1087.7 314.1M1087.7 314.1L1086.3 314.1M1079.2 310.0L1082.5 309.9M1082.1 319.5L1086.3 314.1M1096.0 314.3L1092.2 318.4M1092.2 318.4L1087.7 314.1M1092.2 318.4L1092.3 319.1M1092.3 319.1L1088.3 324.4M891.8 417.3L897.9 416.4M899.4 409.7L897.9 416.4M899.1 409.3L891.5 408.7M891.8 417.3L889.6 412.4M889.6 412.4L891.5 408.7M892.2 400.8L889.9 405.7M891.5 408.7L889.9 405.7M889.9 405.7L885.6 405.4M889.6 412.4L885.3 412.4M890.9 418.6L891.8 417.3M897.9 416.4L900.6 419.8M892.1 425.5L898.4 425.2M900.6 419.8L898.4 425.2M908.5 410.3L908.4 419.5M900.6 419.8L908.4 419.5M919.8 420.1L910.2 421.4M908.4 419.5L910.2 421.4M1099.3 350.8L1106.1 345.9M1099.9 338.6L1104.8 341.0M1104.8 341.0L1106.1 345.9M1111.5 353.8L1109.5 347.4M1106.1 345.9L1109.5 347.4M917.7 350.9L911.0 345.8M915.1 340.1L911.0 345.8M911.0 345.8L906.8 342.2M904.0 356.4L907.6 353.9M904.0 356.4L899.9 354.0M907.6 353.9L907.0 350.2M907.0 350.2L903.0 348.3M903.5 360.8L904.0 356.4M912.6 356.2L907.6 353.9M911.0 345.8L907.0 350.2M913.1 468.3L909.0 462.9M913.1 468.3L920.4 464.8M920.4 464.8L919.4 456.6M909.6 458.9L917.4 455.7M909.6 458.9L909.0 462.9M919.4 456.6L917.4 455.7M929.0 452.2L919.4 456.6M929.4 452.4L929.0 452.2M925.1 467.8L932.7 463.1M925.1 467.8L920.4 464.8M906.1 455.5L900.2 457.7M906.1 455.5L909.6 458.9M903.1 465.1L909.0 462.9M922.9 423.3L920.7 431.7M935.9 434.9L926.0 438.5M920.7 431.7L926.0 438.5M929.0 452.2L924.7 442.4M926.0 438.5L924.7 442.4M972.1 495.1L964.0 494.0M959.7 504.2L959.3 503.1M959.3 503.1L964.0 494.0M965.5 478.5L959.4 487.7M964.0 494.0L959.4 487.7M949.2 510.1L946.9 505.8M939.2 510.0L942.1 505.5M942.1 505.5L946.9 505.8M959.3 503.1L951.2 499.7M946.9 505.8L951.2 499.7M1137.2 427.6L1141.9 428.3M1137.2 427.6L1136.4 421.6M1142.5 421.0L1136.7 421.3M1136.7 421.3L1136.4 421.6M1136.8 413.8L1136.7 421.3M1128.8 421.6L1136.4 421.6M1136.3 434.0L1135.0 430.3M1136.3 434.0L1134.1 438.4M1135.0 430.3L1129.0 429.4M1134.1 438.4L1127.5 437.3M1127.5 437.3L1126.4 432.1M1126.4 432.1L1129.0 429.4M1141.0 434.6L1136.3 434.0M1137.2 427.6L1135.0 430.3M1135.1 440.2L1134.1 438.4M1128.3 422.1L1129.0 429.4M1124.9 441.4L1127.5 437.3M1119.1 430.6L1126.4 432.1M1112.8 470.5L1113.0 472.9M1112.8 470.5L1106.7 466.5M1113.0 472.9L1108.4 479.1M1108.4 479.1L1101.0 473.5M1106.7 466.5L1101.0 469.6M1101.0 469.6L1101.0 473.5M1117.6 467.0L1112.8 470.5M1119.4 476.9L1113.0 472.9M1108.1 459.6L1106.7 466.5M1092.4 463.3L1092.4 463.7M1092.4 463.7L1101.0 469.6M1075.2 512.2L1070.7 512.7M1066.4 503.6L1075.1 500.8M1075.2 512.2L1078.6 506.8M1075.1 500.8L1078.6 506.8M1069.9 489.0L1076.5 497.2M1075.1 500.8L1076.5 497.2M1079.0 482.1L1085.0 489.2M1079.0 482.1L1082.8 474.7M1082.8 474.7L1086.1 473.9M1086.1 473.9L1094.6 480.5M1094.6 480.5L1094.7 481.1M1094.7 481.1L1089.6 488.7M1085.0 489.2L1089.6 488.7M1071.5 484.1L1079.0 482.1M1082.0 495.3L1076.5 497.2M1082.0 495.3L1085.0 489.2M1074.4 466.7L1082.8 474.7M1092.4 463.7L1086.1 473.9M1101.0 473.5L1094.6 480.5M1094.2 493.9L1089.6 488.7M1094.7 481.1L1102.0 486.0M1094.2 493.9L1099.6 492.5M1102.0 486.0L1099.6 492.5M1099.6 492.5L1103.8 496.5M1100.7 501.9L1098.1 502.3M1103.8 496.5L1100.7 501.9M1094.2 493.9L1093.4 497.9M1093.4 497.9L1098.1 502.3M1082.0 495.3L1087.8 501.4M1093.4 497.9L1087.8 501.4M1081.9 507.2L1087.7 502.5M1078.6 506.8L1081.9 507.2M1087.8 501.4L1087.7 502.5M1018.6 517.6L1018.6 507.5M1018.6 517.6L1012.5 520.3M1006.5 517.6L1012.5 520.3M1006.5 517.6L1007.5 508.1M1007.5 508.1L1015.6 505.3M1015.6 505.3L1018.6 507.5M1022.2 519.9L1018.6 517.6M1028.9 506.3L1018.6 507.5M1012.9 527.6L1012.5 520.3M1004.1 519.0L1006.5 517.6M1000.8 504.0L1007.5 508.1M1015.4 492.0L1015.6 505.3M1124.3 358.3L1128.9 355.6M1125.9 349.9L1121.7 352.6M1118.8 338.8L1114.6 341.8M1114.6 341.8L1114.4 343.9M1114.4 343.9L1118.6 346.9M1118.6 346.9L1122.5 344.3M1109.5 347.4L1114.4 343.9M1118.8 351.0L1118.6 346.9M887.8 438.8L891.9 437.9M891.7 432.0L893.3 434.0M893.3 434.0L891.9 437.9M893.8 444.4L896.4 449.7M893.8 444.4L889.3 445.2M896.4 449.7L891.2 452.0M894.5 442.2L891.9 437.9M894.5 442.2L893.8 444.4M896.8 449.9L896.4 449.7M898.1 456.4L896.8 449.9M898.4 425.2L901.2 430.0M910.2 421.4L908.8 428.8M908.8 428.8L901.2 430.0M920.7 431.7L912.2 433.3M908.8 428.8L912.2 433.3M893.3 434.0L899.5 433.4M901.2 430.0L899.5 433.4M894.5 442.2L902.2 439.8M899.5 433.4L902.2 439.8M947.6 477.4L947.7 479.6M959.4 487.7L955.9 487.8M947.7 479.6L955.9 487.8M951.2 499.7L949.4 495.0M955.9 487.8L949.4 495.0M942.1 505.5L938.6 500.0M949.4 495.0L943.6 493.8M938.6 500.0L943.6 493.8M947.7 479.6L940.1 487.6M943.6 493.8L940.1 487.6M925.1 467.8L925.2 472.1M939.4 472.1L932.1 478.2M932.1 478.2L925.2 472.1M1108.5 479.6L1114.3 483.0M1108.5 479.6L1104.2 485.6M1104.2 485.6L1109.2 490.2M1109.2 490.2L1113.8 487.7M1113.8 487.7L1114.3 483.0M1117.2 481.9L1114.3 483.0M1108.4 479.1L1108.5 479.6M1102.0 486.0L1104.2 485.6M1117.2 490.4L1113.8 487.7M1104.9 496.5L1108.9 500.4M1104.9 496.5L1109.1 492.5M1109.1 492.5L1113.2 495.5M1100.7 501.9L1104.2 505.3M1103.8 496.5L1104.9 496.5M1109.2 490.2L1109.1 492.5M1087.7 502.5L1092.0 508.1M1098.1 502.3L1096.1 506.7M1096.1 506.7L1092.0 508.1M1085.7 513.1L1091.4 510.4M1085.7 513.1L1085.5 513.9M1085.5 513.9L1088.4 518.5M1094.1 514.3L1091.4 510.4M1081.9 507.2L1085.7 513.1M1092.0 508.1L1091.4 510.4M1063.5 526.9L1065.5 531.5M1063.5 526.9L1057.5 529.0M1057.5 529.0L1059.2 534.0M1061.0 519.0L1064.3 525.3M1056.7 528.7L1057.5 529.0M1064.3 525.3L1063.5 526.9M1085.5 513.9L1079.5 517.3M1082.9 522.2L1079.5 517.3M1075.2 512.2L1078.9 517.2M1078.9 517.2L1079.5 517.3M1071.7 528.6L1068.9 524.5M1071.0 521.1L1075.2 521.5M1071.0 521.1L1068.9 524.5M1075.2 521.5L1077.1 525.7M1064.3 525.3L1068.9 524.5M1078.9 517.2L1075.2 521.5M1068.8 515.9L1071.0 521.1M910.7 437.8L902.3 439.9M910.7 437.8L914.4 444.9M913.6 446.6L914.4 444.9M913.6 446.6L906.0 449.5M902.3 439.9L903.3 447.7M906.0 449.5L903.3 447.7M912.2 433.3L910.7 437.8M924.7 442.4L914.4 444.9M917.4 455.7L913.6 446.6M906.1 455.5L906.0 449.5M896.8 449.9L903.3 447.7M917.4 498.6L921.2 495.9M925.6 499.6L921.2 495.9M925.6 499.6L922.0 503.5M936.6 500.0L931.2 494.6M936.6 500.0L932.1 504.6M932.1 504.6L929.8 504.6M929.8 504.6L925.7 499.6M925.7 499.6L931.2 494.6M938.6 500.0L936.6 500.0M934.8 509.5L932.1 504.6M926.8 508.2L929.8 504.6M931.2 494.6L931.1 492.6M940.1 487.6L937.9 487.2M937.9 487.2L931.1 492.6M932.1 478.2L931.9 479.5M937.9 487.2L931.9 479.5M921.2 495.9L921.0 492.9M913.1 493.4L916.8 490.6M916.8 490.6L921.0 492.9M931.1 492.6L925.8 489.0M921.0 492.9L925.8 489.0M931.9 479.5L925.3 484.4M925.8 489.0L925.3 484.4M905.4 482.6L909.3 479.6M902.0 476.9L906.1 474.8M909.3 479.6L906.1 474.8M902.7 469.1L906.6 472.8M913.1 468.3L912.8 469.4M912.8 469.4L906.6 472.8M906.6 472.8L906.1 474.8M1096.1 506.7L1099.3 509.9M1100.9 318.6L1097.9 322.0M1097.9 322.0L1098.6 325.0M1098.6 325.0L1102.7 326.3M1102.7 326.3L1105.9 323.4M1092.3 319.1L1097.9 322.0M1093.4 330.4L1098.6 325.0M1104.3 331.0L1102.7 326.3M1099.6 335.0L1104.3 331.0M1110.6 328.4L1107.1 331.6M1107.1 331.6L1109.9 336.9M1110.1 337.0L1115.0 333.7M1104.3 331.0L1107.1 331.6M1104.8 341.0L1109.9 336.9M1114.6 341.8L1110.1 337.0M912.8 485.1L911.0 480.0M912.8 485.1L916.0 486.2M916.0 486.2L920.9 482.5M911.0 480.0L916.2 475.8M920.9 482.5L918.9 476.7M918.9 476.7L916.2 475.8M909.0 487.9L912.8 485.1M909.3 479.6L911.0 480.0M916.8 490.6L916.0 486.2M925.3 484.4L920.9 482.5M912.8 469.4L916.2 475.8M925.2 472.1L918.9 476.7" stroke="#4e4e4e" stroke-width="1.25" fill="none" stroke-linecap="round"/>
<circle cx="1014.0" cy="413.5" r="129.0" fill="none" stroke="#7c7c7c" stroke-width="1.2"/>
<path d="M1331.5 471.8L1324.6 481.9M1319.3 453.4L1331.5 471.8M1324.6 481.9L1308.9 485.3M1319.3 453.4L1302.1 468.8M1302.1 468.8L1308.9 485.3M1303.9 396.8L1320.7 380.2M1289.0 390.6L1303.9 396.8M1302.8 358.1L1288.1 365.3M1289.0 390.6L1288.1 365.3M1302.8 358.1L1319.1 368.9M1320.7 380.2L1319.1 368.9M1362.7 362.2L1349.9 370.9M1362.7 362.2L1361.9 352.6M1361.9 352.6L1350.8 346.4M1349.9 370.9L1341.8 357.4M1350.8 346.4L1341.8 357.4M1350.7 344.4L1350.8 346.4M1350.7 344.4L1359.2 336.9M1359.2 336.9L1366.9 340.7M1361.9 352.6L1368.9 347.2M1366.9 340.7L1368.9 347.2M1320.7 380.2L1332.1 382.9M1319.1 368.9L1330.6 355.0M1330.6 355.0L1341.8 357.4M1349.9 370.9L1349.7 372.2M1332.1 382.9L1349.7 372.2M1342.3 401.7L1332.1 382.9M1303.9 396.8L1310.3 412.9M1342.3 401.7L1334.6 415.3M1334.6 415.3L1310.3 412.9M1269.5 429.5L1262.9 412.7M1269.5 429.5L1283.8 437.1M1262.9 412.7L1270.1 397.2M1270.1 397.2L1289.0 390.6M1283.8 437.1L1301.4 431.1M1310.3 412.9L1301.4 431.1M1319.6 450.5L1301.4 431.1M1334.6 415.3L1339.6 422.7M1319.6 450.5L1336.5 442.2M1336.5 442.2L1339.6 422.7M1278.8 339.6L1280.8 337.7M1280.5 322.4L1280.8 337.7M1264.3 337.1L1278.8 339.6M1264.3 337.1L1261.1 324.6M1280.5 322.4L1270.2 318.4M1270.2 318.4L1261.1 324.6M1282.5 320.2L1281.9 308.5M1282.5 320.2L1295.5 318.3M1295.9 309.1L1289.1 305.6M1295.5 318.3L1295.9 309.1M1289.1 305.6L1281.9 308.5M1317.5 300.9L1319.2 303.1M1309.7 299.8L1317.5 300.9M1309.9 310.4L1307.4 307.5M1309.9 310.4L1317.4 309.1M1309.7 299.8L1308.6 300.4M1317.4 309.1L1319.2 303.1M1308.6 300.4L1307.4 307.5M1297.6 307.8L1307.4 307.5M1297.6 307.8L1298.9 298.6M1308.6 300.4L1302.9 297.2M1302.9 297.2L1298.9 298.6M1309.7 299.8L1311.4 293.5M1311.4 293.5L1307.4 291.0M1307.4 291.0L1303.7 291.8M1302.9 297.2L1303.7 291.8M1295.9 309.1L1297.6 307.8M1288.9 298.1L1289.1 305.6M1288.9 298.1L1295.5 296.2M1298.9 298.6L1295.5 296.2M1248.3 447.7L1232.6 435.6M1269.5 429.5L1248.3 447.7M1262.9 412.7L1238.3 412.2M1238.3 412.2L1236.1 414.2M1232.6 435.6L1236.1 414.2M1309.4 506.6L1312.4 515.9M1309.4 506.6L1297.3 507.4M1312.4 515.9L1303.6 520.3M1297.3 507.4L1298.9 518.5M1298.9 518.5L1303.6 520.3M1313.6 500.3L1309.4 506.6M1313.6 500.3L1308.6 485.9M1293.4 493.6L1308.6 485.9M1294.0 504.8L1293.4 493.6M1294.0 504.8L1297.3 507.4M1294.7 521.7L1298.9 518.5M1285.1 519.5L1294.7 521.7M1294.0 504.8L1284.3 510.5M1284.3 510.5L1284.2 518.4M1285.1 519.5L1284.2 518.4M1322.5 514.6L1313.5 516.5M1322.5 514.6L1325.6 521.9M1325.6 521.9L1324.5 524.3M1324.5 524.3L1317.5 526.1M1313.5 516.5L1315.1 524.9M1315.1 524.9L1317.5 526.1M1319.0 531.9L1322.2 532.7M1326.4 529.5L1322.2 532.7M1326.4 529.5L1324.5 524.3M1319.0 531.9L1317.5 526.1M1312.4 515.9L1313.5 516.5M1313.6 500.3L1322.8 502.8M1322.5 514.6L1325.2 510.5M1325.2 510.5L1322.8 502.8M1324.6 481.9L1331.8 494.8M1308.6 485.9L1308.9 485.3M1322.8 502.8L1331.8 494.8M1310.6 528.4L1305.4 527.1M1310.6 528.4L1311.7 533.9M1306.3 536.0L1311.7 533.9M1306.3 536.0L1304.1 535.0M1304.1 535.0L1303.3 529.5M1305.4 527.1L1303.3 529.5M1315.1 524.9L1310.6 528.4M1303.6 520.3L1305.4 527.1M1319.0 531.9L1316.8 534.0M1316.8 534.0L1311.7 533.9M1234.6 467.2L1245.8 479.9M1234.3 465.1L1234.6 467.2M1245.8 479.9L1255.6 480.0M1248.1 449.4L1234.3 465.1M1248.1 449.4L1263.1 465.8M1255.6 480.0L1263.1 465.8M1248.3 447.7L1248.1 449.4M1283.8 437.1L1282.8 463.0M1263.1 465.8L1282.8 463.0M1302.1 468.8L1283.9 464.5M1293.4 493.6L1280.6 487.1M1280.6 487.1L1283.9 464.5M1319.3 453.4L1319.6 450.5M1282.8 463.0L1283.9 464.5M1327.5 346.2L1335.3 335.8M1327.5 346.2L1330.6 355.0M1350.7 344.4L1343.1 336.0M1343.1 336.0L1335.3 335.8M1364.2 328.5L1367.3 328.7M1359.3 333.4L1364.2 328.5M1359.2 336.9L1359.3 333.4M1366.9 340.7L1372.3 334.9M1367.3 328.7L1372.3 334.9M1372.4 348.1L1368.9 347.2M1377.3 356.3L1377.0 358.4M1377.3 356.3L1372.4 348.1M1362.7 362.2L1368.6 363.9M1368.6 363.9L1377.0 358.4M1317.2 326.1L1314.0 340.3M1317.2 326.1L1308.1 320.6M1299.6 322.3L1308.1 320.6M1299.6 322.3L1296.4 336.7M1296.4 336.7L1305.6 344.0M1305.6 344.0L1314.0 340.3M1332.3 328.9L1335.3 335.8M1319.3 324.9L1332.3 328.9M1327.5 346.2L1314.0 340.3M1319.3 324.9L1317.2 326.1M1323.5 315.2L1319.3 324.9M1323.5 315.2L1317.4 309.1M1309.9 310.4L1308.1 320.6M1295.5 318.3L1299.6 322.3M1280.5 322.4L1282.5 320.2M1280.8 337.7L1296.4 336.7M1279.8 359.3L1288.1 365.3M1302.8 358.1L1305.6 344.0M1278.8 339.6L1279.8 359.3M1349.7 372.2L1358.6 383.1M1342.3 401.7L1358.3 397.1M1358.3 397.1L1358.6 383.1M1373.7 374.7L1368.6 363.9M1373.7 374.7L1372.3 378.3M1372.3 378.3L1358.6 383.1M1255.6 313.0L1260.1 308.7M1255.6 313.0L1258.0 322.6M1270.2 318.4L1268.9 309.8M1258.0 322.6L1261.1 324.6M1260.1 308.7L1268.9 309.8M1279.0 306.5L1281.9 308.5M1279.0 306.5L1270.6 307.7M1270.6 307.7L1268.9 309.8M1311.4 293.5L1312.9 292.7M1317.5 300.9L1318.6 294.5M1312.9 292.7L1318.5 294.3M1312.9 292.7L1313.7 288.3M1318.5 294.3L1319.4 289.6M1307.4 291.0L1308.4 287.2M1303.7 291.8L1302.6 290.5M1302.6 290.5L1296.9 290.2M1295.5 296.2L1295.8 291.2M1295.8 291.2L1296.9 290.2M1316.8 534.0L1317.9 537.7M1322.2 532.7L1323.3 536.3M1327.4 530.0L1328.8 534.5M1327.4 530.0L1332.6 528.6M1332.6 528.6L1334.1 532.5M1326.4 529.5L1327.4 530.0M1311.7 533.9L1312.5 539.0M1306.3 536.0L1307.1 540.0M1332.6 528.6L1333.7 526.9M1325.6 521.9L1331.4 521.7M1331.4 521.7L1333.7 526.9M1352.0 519.0L1354.1 522.5M1352.0 519.0L1353.5 516.3M1358.8 519.4L1356.9 516.2M1353.5 516.3L1356.9 516.2M1363.7 515.9L1361.0 512.6M1367.8 512.7L1365.5 509.2M1365.5 509.2L1361.0 512.6M1356.9 516.2L1359.9 512.5M1350.9 511.9L1353.5 516.3M1350.9 511.9L1352.6 507.7M1352.6 507.7L1356.5 507.5M1356.5 507.5L1359.9 512.5M1331.8 494.8L1332.8 495.1M1335.8 471.9L1331.5 471.8M1335.8 471.9L1346.9 483.6M1346.9 483.6L1344.8 490.5M1332.8 495.1L1344.8 490.5M1346.9 483.6L1353.8 481.8M1353.8 481.8L1361.6 489.0M1356.9 496.6L1361.6 489.0M1356.9 496.6L1349.5 497.2M1344.8 490.5L1349.5 497.2M1352.6 507.7L1348.3 502.4M1356.9 496.6L1361.1 502.5M1356.5 507.5L1361.1 502.5M1348.3 502.4L1349.5 497.2M1375.9 487.1L1373.1 493.1M1375.9 487.1L1369.9 482.3M1369.9 482.3L1362.8 489.0M1362.8 489.0L1368.1 494.2M1368.1 494.2L1373.1 493.1M1381.3 494.2L1376.7 496.7M1381.3 494.2L1382.0 490.8M1373.1 493.1L1376.7 496.7M1375.9 487.1L1376.8 487.0M1382.0 490.8L1376.8 487.0M1335.8 471.9L1349.7 461.0M1353.8 481.8L1359.9 471.1M1359.9 471.1L1349.7 461.0M1377.6 437.2L1374.9 450.3M1374.9 450.3L1369.2 453.4M1376.8 435.9L1377.6 437.2M1376.8 435.9L1363.4 431.6M1363.4 431.6L1356.5 448.5M1369.2 453.4L1356.5 448.5M1336.5 442.2L1350.8 451.1M1349.7 461.0L1350.8 451.1M1339.6 422.7L1360.2 424.7M1360.2 424.7L1363.4 431.6M1350.8 451.1L1356.5 448.5M1382.1 480.8L1386.8 485.4M1376.8 487.0L1382.1 480.8M1382.0 490.8L1384.1 489.9M1386.8 485.4L1384.1 489.9M1387.6 492.5L1384.1 489.9M1386.8 485.4L1387.2 485.4M1387.2 485.4L1391.0 488.0M1284.5 528.7L1289.3 531.2M1285.1 519.5L1284.5 528.7M1294.7 521.7L1294.9 529.0M1289.3 531.2L1294.9 529.0M1303.3 529.5L1295.9 529.8M1294.9 529.0L1295.9 529.8M1301.0 537.1L1304.1 535.0M1301.0 537.1L1297.0 535.9M1295.9 529.8L1297.0 535.9M1275.1 521.3L1284.2 518.4M1275.1 521.3L1274.6 528.6M1284.5 528.7L1281.6 530.6M1281.6 530.6L1274.6 528.6M1266.2 534.4L1268.4 536.4M1268.4 536.4L1273.5 535.9M1267.1 529.1L1266.2 534.4M1267.1 529.1L1274.3 528.8M1274.3 528.8L1273.5 535.9M1255.6 480.0L1261.4 487.8M1280.6 487.1L1276.6 489.5M1276.6 489.5L1261.4 487.8M1284.3 510.5L1274.8 505.4M1276.6 489.5L1274.8 505.4M1275.1 521.3L1269.1 517.4M1269.1 517.4L1270.4 508.0M1274.8 505.4L1270.4 508.0M1270.1 397.2L1254.7 378.1M1279.8 359.3L1261.5 363.8M1261.5 363.8L1254.7 378.1M1238.3 412.2L1233.0 394.8M1233.0 394.8L1247.6 378.2M1254.7 378.1L1247.6 378.2M1229.1 304.6L1223.7 307.0M1229.1 304.4L1226.6 300.4M1221.7 303.2L1223.7 307.0M1223.1 308.3L1223.7 307.0M1223.1 308.3L1218.9 309.1M1218.9 309.1L1216.6 306.3M1241.6 317.5L1245.8 326.2M1245.8 326.2L1258.0 322.6M1241.6 317.5L1242.0 316.6M1255.6 313.0L1250.5 311.4M1250.5 311.4L1242.0 316.6M1248.3 305.1L1244.9 303.9M1248.3 305.1L1251.8 301.3M1244.9 303.9L1243.2 298.3M1251.8 301.3L1250.5 296.3M1243.2 298.3L1243.3 298.0M1243.3 298.0L1248.8 295.6M1250.5 296.3L1248.8 295.6M1250.5 311.4L1248.3 305.1M1238.8 307.1L1244.9 303.9M1238.4 308.3L1238.8 307.1M1242.0 316.6L1238.4 308.3M1260.1 308.7L1258.8 301.9M1258.8 301.9L1251.8 301.3M1247.4 291.6L1248.8 295.6M1242.0 293.5L1243.3 298.0M1356.8 321.2L1352.1 327.3M1356.8 321.2L1356.4 319.2M1356.4 319.2L1350.0 315.5M1352.1 327.3L1348.1 327.4M1348.1 327.4L1344.6 321.4M1344.6 321.4L1348.1 316.1M1348.1 316.1L1350.0 315.5M1359.3 333.4L1352.1 327.3M1364.2 328.5L1362.5 323.3M1362.5 323.3L1356.8 321.2M1343.1 336.0L1348.1 327.4M1336.9 320.2L1344.6 321.4M1336.9 320.2L1332.3 328.9M1367.3 328.7L1371.2 325.2M1362.5 323.3L1365.8 319.1M1365.8 319.1L1370.7 321.5M1371.2 325.2L1370.7 321.5M1378.3 343.7L1377.8 338.9M1378.3 343.7L1372.4 348.1M1377.8 338.9L1372.4 334.9M1408.1 387.0L1411.9 386.1M1405.8 383.2L1408.1 387.0M1405.8 383.2L1406.4 382.1M1406.4 382.1L1410.6 380.7M1401.1 384.2L1405.8 383.2M1397.4 379.8L1398.2 377.6M1397.4 379.8L1401.1 384.2M1398.2 377.6L1403.2 375.7M1406.4 382.1L1405.0 376.8M1403.2 375.7L1405.0 376.8M1394.7 370.6L1400.9 368.6M1394.7 370.6L1398.2 377.6M1400.9 368.6L1403.6 371.2M1403.2 375.7L1403.6 371.2M1393.6 363.7L1389.1 360.8M1393.6 363.7L1394.0 370.3M1389.1 360.8L1383.4 364.1M1394.0 370.3L1386.5 372.9M1383.4 364.1L1383.4 371.0M1386.5 372.9L1383.4 371.0M1388.7 383.1L1397.4 379.8M1388.7 383.1L1386.5 372.9M1394.7 370.6L1394.0 370.3M1377.0 358.4L1383.4 364.1M1373.7 374.7L1383.4 371.0M1388.4 383.7L1379.3 387.1M1372.3 378.3L1379.3 387.1M1388.7 383.1L1388.4 383.7M1389.1 360.8L1389.6 357.4M1377.3 356.3L1384.8 352.0M1389.6 357.4L1384.8 352.0M1378.3 343.7L1381.7 344.6M1381.7 344.6L1384.9 351.5M1384.8 352.0L1384.9 351.5M1381.7 344.6L1386.2 341.7M1388.2 342.5L1386.2 341.7M1388.2 342.5L1390.7 347.9M1384.9 351.5L1390.7 347.9M1323.5 315.2L1327.0 313.8M1319.2 303.1L1324.2 302.2M1324.2 302.2L1329.4 306.4M1329.4 306.4L1327.0 313.8M1336.9 320.2L1335.7 317.6M1327.0 313.8L1335.7 317.6M1333.9 299.3L1338.7 301.0M1333.9 299.3L1335.5 295.0M1338.7 301.0L1340.7 297.3M1358.3 397.1L1361.4 399.3M1379.3 387.1L1377.0 396.1M1361.4 399.3L1377.0 396.1M1360.2 424.7L1365.8 415.9M1361.4 399.3L1365.8 415.9M1380.5 399.1L1377.0 396.1M1380.5 399.1L1390.7 398.2M1388.4 383.7L1393.3 391.1M1390.7 398.2L1393.3 391.1M1401.1 384.2L1399.3 390.3M1393.3 391.1L1399.3 390.3M1407.4 390.7L1408.1 387.0M1407.4 390.7L1401.5 391.9M1399.3 390.3L1401.5 391.9M1390.7 398.2L1393.4 401.2M1393.7 410.8L1393.4 401.2M1393.7 410.8L1392.3 412.4M1380.5 399.1L1381.6 412.4M1392.3 412.4L1381.6 412.4M1376.8 435.9L1382.8 425.9M1365.8 415.9L1378.3 415.8M1382.8 425.9L1378.3 415.8M1381.6 412.4L1378.3 415.8M1288.9 298.1L1288.3 297.5M1291.6 289.3L1295.8 291.2M1291.6 289.3L1287.9 291.0M1287.9 291.0L1288.3 297.5M1279.0 306.5L1279.1 298.0M1279.1 298.0L1280.0 297.1M1288.3 297.5L1280.0 297.1M1265.6 292.4L1269.7 290.4M1265.6 292.4L1266.6 298.5M1273.4 296.5L1272.6 291.7M1273.4 296.5L1268.8 299.7M1269.7 290.4L1272.6 291.7M1268.8 299.7L1266.6 298.5M1280.5 291.0L1280.0 297.1M1275.3 289.5L1272.6 291.7M1275.3 289.5L1280.5 291.0M1279.1 298.0L1273.4 296.5M1270.6 307.7L1268.8 299.7M1258.8 301.9L1259.8 300.2M1259.8 300.2L1266.6 298.5M1291.6 289.3L1291.8 285.5M1296.9 290.2L1297.2 285.8M1200.2 458.0L1200.7 448.0M1200.2 458.0L1210.8 465.4M1200.7 448.0L1216.7 441.2M1216.7 441.2L1220.3 458.6M1210.8 465.4L1220.3 458.6M1232.6 435.6L1216.8 441.1M1234.3 465.1L1220.3 458.6M1210.7 465.8L1215.9 478.9M1223.5 480.5L1215.9 478.9M1223.5 480.5L1234.6 467.2M1210.7 465.8L1210.8 465.4M1210.7 465.8L1200.5 474.0M1192.9 461.9L1200.2 458.0M1192.9 461.9L1194.8 471.0M1194.8 471.0L1200.5 474.0M1208.5 485.1L1215.9 478.9M1208.4 485.1L1200.9 478.9M1200.5 474.0L1200.9 478.9M1361.0 512.6L1359.9 512.5M1301.0 537.1L1301.3 540.8M1247.2 500.8L1243.1 509.9M1247.2 500.8L1256.6 500.1M1256.6 500.1L1259.1 504.6M1259.1 504.6L1255.2 514.9M1255.2 514.9L1246.5 514.3M1246.5 514.3L1243.1 509.9M1261.4 487.8L1256.6 500.1M1245.8 479.9L1238.1 492.2M1238.1 492.2L1247.2 500.8M1270.4 508.0L1259.1 504.6M1253.4 524.8L1259.9 528.0M1253.4 524.8L1256.1 516.5M1256.1 516.5L1265.1 519.9M1265.1 519.9L1264.2 526.0M1264.2 526.0L1259.9 528.0M1255.2 514.9L1256.1 516.5M1269.1 517.4L1265.1 519.9M1274.6 528.6L1274.3 528.8M1267.1 529.1L1264.2 526.0M1325.2 510.5L1331.9 511.5M1331.4 521.7L1334.5 518.3M1334.5 518.3L1331.9 511.5M1332.8 495.1L1338.7 506.4M1331.9 511.5L1338.7 506.4M1348.3 502.4L1339.8 506.7M1350.9 511.9L1343.7 514.2M1343.7 514.2L1339.8 506.7M1339.8 506.7L1338.7 506.4M1381.3 494.2L1384.0 496.9M1376.7 497.9L1376.7 496.7M1376.7 497.9L1380.2 501.2M1376.7 497.9L1373.0 501.9M1373.0 501.9L1376.3 505.1M1369.2 453.4L1370.0 461.7M1370.0 461.7L1360.1 471.1M1369.9 482.3L1369.9 477.4M1362.8 489.0L1361.6 489.0M1369.9 477.4L1360.1 471.1M1387.2 485.4L1391.1 481.2M1394.2 483.2L1391.1 481.2M1387.0 470.3L1386.2 476.2M1387.0 470.3L1380.4 466.2M1375.3 474.7L1378.0 467.0M1375.3 474.7L1382.0 479.4M1382.0 479.4L1386.2 476.2M1380.4 466.2L1378.0 467.0M1370.0 461.7L1378.0 467.0M1369.9 477.4L1375.3 474.7M1382.1 480.8L1382.0 479.4M1391.1 481.2L1390.9 478.7M1390.9 478.7L1386.2 476.2M1289.3 531.2L1289.1 536.3M1297.0 535.9L1295.7 537.2M1289.1 536.3L1290.2 537.3M1295.7 537.2L1290.2 537.3M1273.5 535.9L1274.1 536.5M1268.4 536.4L1268.0 540.2M1274.1 536.5L1273.5 540.9M1237.6 492.4L1230.7 503.3M1237.6 492.4L1225.6 487.2M1230.7 503.3L1221.2 499.3M1225.6 487.2L1219.4 494.5M1219.4 494.5L1221.2 499.3M1223.5 480.5L1225.6 487.2M1238.1 492.2L1237.6 492.4M1208.5 485.1L1213.9 493.5M1213.9 493.5L1219.4 494.5M1245.8 326.2L1243.4 332.5M1264.3 337.1L1251.8 346.1M1243.4 332.5L1251.8 346.1M1261.5 363.8L1251.6 346.7M1251.8 346.1L1251.6 346.7M1238.2 298.8L1236.0 301.8M1238.2 298.8L1236.8 295.5M1236.0 301.8L1233.2 301.3M1233.2 301.3L1231.7 297.8M1238.8 307.1L1236.0 301.8M1243.2 298.3L1238.2 298.8M1232.0 309.4L1229.1 304.6M1232.0 309.4L1238.4 308.3M1229.1 304.4L1233.2 301.3M1335.7 317.6L1339.0 310.8M1348.1 316.1L1343.9 310.5M1343.9 310.5L1339.0 310.8M1329.4 306.4L1330.4 305.9M1330.4 305.9L1337.4 307.5M1339.0 310.8L1337.4 307.5M1338.7 301.0L1339.7 303.1M1333.1 299.5L1333.9 299.3M1333.1 299.5L1330.4 305.9M1337.4 307.5L1339.7 303.1M1386.2 341.7L1385.6 337.9M1377.8 338.9L1381.9 335.7M1381.9 335.7L1385.6 337.9M1391.9 340.3L1388.2 342.5M1388.4 335.6L1385.6 337.9M1405.0 376.8L1409.1 375.4M1403.6 371.2L1407.3 370.1M1401.5 366.3L1405.2 364.6M1400.9 368.6L1401.5 366.3M1402.9 359.5L1398.9 361.4M1400.5 354.7L1396.8 356.5M1396.8 356.5L1398.0 361.2M1398.0 361.2L1398.9 361.4M1401.5 366.3L1398.9 361.4M1389.6 357.4L1394.2 354.7M1394.2 354.7L1396.8 356.5M1393.6 363.7L1398.0 361.2M1394.4 351.8L1391.1 348.0M1394.4 351.8L1398.0 350.0M1391.1 348.0L1395.0 344.9M1394.2 354.7L1394.4 351.8M1390.7 347.9L1391.1 348.0M1393.7 410.8L1401.7 410.4M1393.4 401.2L1401.9 399.9M1401.7 410.4L1404.3 405.8M1404.3 405.8L1401.9 399.9M1401.5 391.9L1402.5 399.0M1402.5 399.0L1401.9 399.9M1407.4 390.7L1409.0 392.1M1409.0 392.1L1413.0 391.8M1402.5 399.0L1408.8 397.9M1409.0 392.1L1408.8 397.9M1392.3 412.4L1394.6 420.3M1382.8 425.9L1390.9 426.3M1390.9 426.3L1394.6 420.3M1403.9 413.0L1409.8 413.5M1403.9 413.0L1402.9 420.9M1402.9 420.9L1409.2 420.7M1409.8 413.5L1410.2 414.0M1410.2 414.0L1410.3 419.6M1409.2 420.7L1410.3 419.6M1411.1 408.7L1409.8 413.5M1409.1 405.6L1411.1 408.7M1401.7 410.4L1403.9 413.0M1404.3 405.8L1409.1 405.6M1402.1 421.5L1394.6 420.3M1402.1 421.5L1402.9 420.9M1411.1 408.7L1414.8 408.6M1414.8 414.1L1410.2 414.0M1414.7 419.9L1410.3 419.6M1414.3 425.5L1410.6 425.3M1410.6 425.3L1408.7 428.4M1408.7 428.4L1410.1 430.7M1413.6 431.1L1410.1 430.7M1409.2 420.7L1410.6 425.3M1402.1 421.5L1403.2 428.0M1403.2 428.0L1408.7 428.4M1408.2 435.9L1410.1 430.7M1408.2 435.9L1412.7 436.7M1302.6 290.5L1302.9 286.4M1280.5 291.0L1281.1 290.4M1287.9 291.0L1286.0 289.6M1281.1 290.4L1286.0 289.6M1275.3 289.5L1275.0 285.9M1281.1 290.4L1280.4 285.6M1286.0 289.6L1286.2 285.4M1269.7 290.4L1269.3 286.6M1265.6 292.4L1264.5 291.7M1264.5 291.7L1263.6 287.5M1259.8 300.2L1258.1 294.7M1264.5 291.7L1259.3 293.0M1258.1 294.7L1259.3 293.0M1250.5 296.3L1253.8 294.0M1258.1 294.7L1253.8 294.0M1171.7 455.1L1169.2 452.9M1171.7 455.1L1176.4 453.5M1176.8 447.5L1176.4 453.5M1174.3 446.2L1168.8 448.2M1176.8 447.5L1174.3 446.2M1169.2 452.9L1168.8 448.2M1187.8 448.6L1183.3 444.8M1183.3 444.8L1182.8 436.3M1196.6 445.9L1193.3 433.3M1196.6 445.9L1187.8 448.6M1193.3 433.3L1182.8 436.3M1172.0 395.6L1180.6 396.8M1172.0 395.6L1170.2 403.3M1171.7 406.0L1180.4 406.4M1170.2 403.3L1171.7 406.0M1180.6 396.8L1180.4 406.4M1171.1 415.8L1178.6 416.1M1178.6 416.1L1181.0 407.2M1171.7 406.0L1169.4 409.6M1169.4 409.6L1171.1 415.8M1180.4 406.4L1181.0 407.2M1196.6 445.9L1200.7 448.0M1193.3 433.3L1195.2 430.2M1216.8 441.1L1208.8 427.7M1208.8 427.7L1195.2 430.2M1236.1 414.2L1211.6 414.3M1208.8 427.7L1211.6 414.3M1179.2 425.4L1181.9 421.5M1181.9 421.5L1189.3 421.2M1182.5 436.1L1182.8 436.3M1182.5 436.1L1179.2 425.4M1195.2 430.2L1189.3 421.2M1179.3 460.1L1180.1 456.7M1179.3 460.1L1182.9 466.1M1180.1 456.7L1186.5 454.6M1186.5 454.6L1191.7 461.6M1191.7 461.6L1183.3 466.2M1182.9 466.1L1183.3 466.2M1170.9 457.7L1173.8 462.5M1173.8 462.5L1179.3 460.1M1171.7 455.1L1170.9 457.7M1176.4 453.5L1180.1 456.7M1187.8 448.6L1186.5 454.6M1183.3 444.8L1176.8 447.5M1192.9 461.9L1191.7 461.6M1185.8 473.0L1183.3 466.2M1185.8 473.0L1188.9 474.4M1188.9 474.4L1194.8 471.0M1180.4 478.0L1177.2 479.8M1180.4 478.0L1180.8 475.6M1180.8 475.6L1177.6 473.1M1177.6 473.1L1174.2 474.7M1185.8 473.0L1180.8 475.6M1177.5 468.8L1177.6 473.1M1177.5 468.8L1182.9 466.1M1200.9 478.9L1194.6 483.5M1188.9 474.4L1189.0 479.0M1194.6 483.5L1189.0 479.0M1333.7 526.9L1337.6 526.8M1334.5 518.3L1338.2 519.0M1337.6 526.8L1340.1 523.9M1340.1 523.9L1338.2 519.0M1343.7 514.2L1343.6 514.9M1343.6 514.9L1338.2 519.0M1352.0 519.0L1347.3 520.3M1343.6 514.9L1347.3 520.3M1337.6 526.8L1339.2 530.4M1367.6 498.5L1371.7 502.1M1367.6 498.5L1361.8 502.5M1371.7 502.1L1369.7 506.6M1361.8 502.5L1366.0 507.5M1366.0 507.5L1369.7 506.6M1368.1 494.2L1367.6 498.5M1373.0 501.9L1371.7 502.1M1361.1 502.5L1361.8 502.5M1372.1 509.0L1369.7 506.6M1365.5 509.2L1366.0 507.5M1390.5 439.9L1399.6 441.1M1390.5 439.9L1393.4 430.5M1399.6 441.1L1402.4 435.0M1393.4 430.5L1400.8 431.3M1402.4 435.0L1400.8 431.3M1390.9 426.3L1393.4 430.5M1377.6 437.2L1389.4 440.7M1389.4 440.7L1390.5 439.9M1403.2 428.0L1400.8 431.3M1408.0 436.1L1402.4 435.0M1389.7 448.6L1395.5 451.2M1389.7 448.6L1383.8 454.2M1392.3 461.0L1384.7 457.7M1392.3 461.0L1396.5 456.2M1396.5 456.2L1395.5 451.2M1383.8 454.2L1384.7 457.7M1389.4 440.7L1389.7 448.6M1398.7 449.3L1395.5 451.2M1400.1 441.8L1398.7 449.3M1400.1 441.8L1399.6 441.1M1374.9 450.3L1383.8 454.2M1389.7 469.5L1392.7 462.1M1392.7 462.1L1392.3 461.0M1389.7 469.5L1387.0 470.3M1380.4 466.2L1384.7 457.7M1402.7 456.8L1404.2 451.7M1406.8 458.3L1402.7 456.8M1408.6 453.0L1404.2 451.7M1401.1 457.7L1402.7 456.8M1398.7 449.3L1403.8 450.8M1401.1 457.7L1396.5 456.2M1403.8 450.8L1404.2 451.7M1390.9 478.7L1393.8 476.8M1393.8 476.8L1397.0 478.7M1389.7 469.5L1394.6 472.0M1393.8 476.8L1394.6 472.0M1404.8 463.2L1401.3 462.0M1401.3 462.0L1398.3 465.1M1402.5 468.3L1398.7 466.6M1398.3 465.1L1398.7 466.6M1401.1 457.7L1401.3 462.0M1392.7 462.1L1398.3 465.1M1395.9 471.6L1394.6 472.0M1395.9 471.6L1398.7 466.6M1266.2 534.4L1263.1 535.6M1263.1 535.6L1262.3 539.2M1259.9 528.0L1258.7 533.2M1263.1 535.6L1258.7 533.2M1295.7 537.2L1295.7 541.3M1290.2 537.3L1290.4 541.5M1274.1 536.5L1279.2 537.2M1279.1 541.4L1279.2 537.2M1289.1 536.3L1284.7 537.9M1281.6 530.6L1281.3 535.8M1284.7 537.9L1281.3 535.8M1281.3 535.8L1279.2 537.2M1251.6 346.7L1235.5 353.8M1243.4 332.5L1234.2 332.6M1234.2 332.6L1226.7 343.4M1226.7 343.4L1235.5 353.8M1247.6 378.2L1231.6 365.7M1235.5 353.8L1231.6 365.7M1233.0 394.8L1218.5 388.6M1218.5 388.6L1217.5 379.7M1217.5 379.7L1225.6 367.6M1225.6 367.6L1231.6 365.7M1171.8 388.8L1171.9 395.6M1171.8 388.8L1175.2 385.7M1180.6 396.8L1183.8 393.5M1183.8 393.5L1181.7 387.3M1175.2 385.7L1181.7 387.3M1205.9 319.1L1210.4 317.0M1205.9 319.1L1203.3 316.3M1207.7 312.7L1210.6 316.2M1210.4 317.0L1210.6 316.2M1212.3 309.2L1214.7 313.2M1210.6 316.2L1214.7 313.2M1218.9 309.1L1216.6 313.3M1216.6 313.3L1214.7 313.2M1164.5 402.3L1170.2 403.3M1171.9 395.6L1165.6 395.2M1164.5 402.3L1163.4 399.3M1165.6 395.2L1163.4 399.3M1229.1 325.3L1225.7 325.1M1229.1 325.3L1232.9 319.2M1225.7 325.1L1220.6 318.2M1232.9 319.2L1229.7 313.7M1225.5 313.1L1229.7 313.7M1225.5 313.1L1220.6 317.9M1220.6 317.9L1220.6 318.2M1234.2 332.6L1229.1 325.3M1241.6 317.5L1232.9 319.2M1232.0 309.4L1229.7 313.7M1223.1 308.3L1225.5 313.1M1216.6 313.3L1220.6 317.9M1210.4 317.0L1213.7 322.1M1213.7 322.1L1220.6 318.2M1343.9 310.5L1346.3 306.3M1339.7 303.1L1344.0 303.4M1344.0 303.4L1346.3 306.3M1344.0 303.4L1345.7 299.8M1350.0 315.5L1352.9 310.2M1356.4 319.2L1359.6 314.6M1359.6 314.6L1358.1 311.6M1358.1 311.6L1352.9 310.2M1323.6 294.7L1324.9 291.2M1323.6 294.7L1326.0 297.3M1326.0 297.3L1328.7 296.6M1328.7 296.6L1330.1 293.0M1318.6 294.5L1323.6 294.7M1324.2 302.2L1326.0 297.3M1333.1 299.5L1328.7 296.6M1409.7 398.5L1413.9 397.6M1409.7 398.5L1410.6 403.5M1410.6 403.5L1414.4 403.3M1408.8 397.9L1409.7 398.5M1409.1 405.6L1410.6 403.5M1411.6 442.4L1408.3 441.4M1408.3 441.4L1405.4 443.7M1405.4 443.7L1406.2 446.6M1406.2 446.6L1410.1 447.9M1400.1 441.8L1405.4 443.7M1408.0 436.1L1408.3 441.4M1403.8 450.8L1406.2 446.6M1253.8 294.0L1253.0 289.9M1259.3 293.0L1258.2 288.6M1169.3 464.7L1173.7 462.9M1173.7 462.9L1175.5 467.8M1175.5 467.8L1171.7 469.8M1167.2 459.4L1170.9 457.7M1173.8 462.5L1173.7 462.9M1177.5 468.8L1175.5 467.8M1169.2 452.9L1165.2 454.1M1164.5 402.3L1162.5 404.8M1163.4 399.3L1159.5 398.8M1159.0 404.6L1162.5 404.8M1169.4 409.6L1163.9 409.7M1162.5 404.8L1163.9 409.7M1209.8 411.8L1195.0 410.1M1209.8 411.8L1211.6 394.9M1211.6 394.9L1197.6 390.8M1193.7 408.6L1192.8 394.9M1193.7 408.6L1195.0 410.1M1197.6 390.8L1192.8 394.9M1211.6 414.3L1209.8 411.8M1189.3 421.2L1195.0 410.1M1218.5 388.6L1211.6 394.9M1217.5 379.7L1202.4 373.8M1202.4 373.8L1196.1 382.0M1196.1 382.0L1197.6 390.8M1183.8 393.5L1192.8 394.9M1181.0 407.2L1193.7 408.6M1181.9 421.5L1178.6 416.1M1186.1 379.3L1181.7 387.3M1196.1 382.0L1186.1 379.3M1209.4 510.3L1206.9 513.7M1209.4 510.3L1205.3 506.9M1205.3 506.9L1202.5 510.0M1211.0 510.1L1209.4 510.3M1211.0 510.1L1213.4 514.2M1213.4 514.2L1211.2 517.0M1211.0 510.1L1214.5 505.8M1216.9 505.7L1214.5 505.8M1216.9 505.7L1220.0 510.3M1220.0 510.3L1217.4 514.6M1213.4 514.2L1217.4 514.6M1220.0 510.3L1225.7 511.0M1216.9 505.7L1221.2 499.3M1230.7 503.3L1230.7 503.8M1225.7 511.0L1230.7 503.8M1243.1 509.9L1238.1 510.2M1238.1 510.2L1230.7 503.8M1198.2 506.1L1200.7 503.5M1205.3 506.9L1205.1 504.9M1200.7 503.5L1205.1 504.9M1214.5 505.8L1208.9 500.7M1205.1 504.9L1208.9 500.7M1213.9 493.5L1208.8 499.2M1208.8 499.2L1208.9 500.7M1186.2 486.7L1184.6 482.3M1186.2 486.7L1183.3 489.0M1180.2 484.6L1183.7 482.1M1183.7 482.1L1184.6 482.3M1194.4 484.3L1189.5 488.1M1194.4 484.3L1194.6 483.5M1189.5 488.1L1186.2 486.7M1189.0 479.0L1184.6 482.3M1186.8 493.6L1189.7 490.9M1189.7 490.9L1189.5 488.1M1180.4 478.0L1183.7 482.1M1235.7 531.0L1237.3 526.6M1240.8 533.1L1242.3 529.2M1237.3 526.6L1242.3 529.2M1246.5 514.3L1244.1 520.7M1253.4 524.8L1252.7 525.2M1252.7 525.2L1246.0 523.8M1244.1 520.7L1246.0 523.8M1251.5 531.0L1247.3 531.8M1252.7 525.2L1251.5 531.0M1247.3 531.8L1244.0 528.6M1246.0 523.8L1244.0 528.6M1246.1 535.0L1247.3 531.8M1242.3 529.2L1244.0 528.6M1342.9 524.5L1347.0 521.3M1342.9 524.5L1344.4 527.9M1347.0 521.3L1349.4 525.2M1340.1 523.9L1342.9 524.5M1347.3 520.3L1347.0 521.3M1395.9 471.6L1399.8 473.8M1251.3 536.6L1252.6 532.5M1252.6 532.5L1257.5 533.8M1257.5 533.8L1256.6 538.0M1251.5 531.0L1252.6 532.5M1258.7 533.2L1257.5 533.8M1284.7 537.9L1284.7 541.6M1178.4 352.9L1180.5 351.9M1180.8 348.1L1180.5 351.9M1180.8 348.1L1177.9 345.9M1175.0 350.9L1178.4 352.9M1169.8 361.1L1173.4 362.7M1172.3 356.0L1176.8 358.1M1173.4 362.7L1176.8 358.1M1178.4 352.9L1176.9 358.1M1202.4 373.8L1202.2 373.0M1202.2 373.0L1192.0 366.6M1192.0 366.6L1187.6 369.0M1186.1 379.3L1185.8 378.9M1187.6 369.0L1185.8 378.9M1180.8 348.1L1184.8 345.5M1184.8 345.5L1184.6 343.6M1184.6 343.6L1180.9 341.4M1184.6 343.6L1188.0 339.3M1184.2 336.8L1188.0 339.3M1164.6 394.0L1160.2 393.3M1164.6 394.0L1165.0 388.5M1165.0 388.5L1161.3 387.7M1165.6 395.2L1164.6 394.0M1171.8 388.8L1167.0 387.1M1167.0 387.1L1165.0 388.5M1166.4 382.9L1162.6 381.9M1167.0 387.1L1166.4 382.9M1372.4 334.9L1377.0 330.0M1381.9 335.7L1381.9 333.8M1381.9 333.8L1377.9 330.1M1377.0 330.0L1377.9 330.1M1371.2 325.2L1374.9 326.0M1377.0 330.0L1374.9 326.0M1373.3 319.0L1370.7 321.5M1374.9 326.0L1377.4 323.0M1381.9 333.8L1384.9 331.2M1377.9 330.1L1381.3 327.1M1365.8 319.1L1365.7 318.7M1359.6 314.6L1362.0 314.8M1362.0 314.8L1365.7 318.7M1365.7 318.7L1368.7 315.1M1362.0 314.8L1364.6 311.7M1352.9 310.2L1352.6 309.3M1346.3 306.3L1348.3 306.2M1352.6 309.3L1348.3 306.2M1348.3 306.2L1350.5 302.4M1358.1 311.6L1360.0 308.4M1352.6 309.3L1355.3 305.3M1168.8 448.2L1167.7 447.6M1167.7 447.6L1163.6 448.8M1166.4 442.3L1162.1 443.2M1166.4 442.3L1167.7 447.6M1167.3 440.6L1164.7 437.2M1167.3 440.6L1172.4 439.4M1173.8 437.2L1172.4 439.4M1173.8 437.2L1170.6 431.9M1164.7 437.2L1165.9 432.8M1170.6 431.9L1165.9 432.8M1161.0 437.8L1164.7 437.2M1166.4 442.3L1167.3 440.6M1174.3 446.2L1172.4 439.4M1182.5 436.1L1173.8 437.2M1172.3 426.6L1179.2 425.4M1172.3 426.6L1170.6 431.9M1163.9 409.7L1163.1 410.5M1163.1 410.5L1158.7 410.2M1244.1 520.7L1239.2 521.4M1238.1 510.2L1234.6 516.6M1234.6 516.6L1239.2 521.4M1237.3 526.6L1236.9 525.7M1239.2 521.4L1236.9 525.7M1196.9 499.3L1194.2 494.9M1196.9 499.3L1199.4 499.7M1199.4 499.7L1203.0 496.2M1194.3 494.3L1194.2 494.9M1194.3 494.3L1198.3 490.9M1203.0 496.2L1201.7 491.4M1201.7 491.4L1198.3 490.9M1194.2 502.1L1196.9 499.3M1190.3 497.8L1194.2 494.9M1200.7 503.5L1199.4 499.7M1208.8 499.2L1203.0 496.2M1189.7 490.9L1194.3 494.3M1194.4 484.3L1198.3 490.9M1208.4 485.1L1201.7 491.4M1181.5 360.7L1176.9 358.1M1181.5 366.5L1179.2 367.7M1181.5 360.7L1181.5 366.5M1173.4 362.7L1174.0 365.5M1179.2 367.7L1174.0 365.5M1167.7 366.3L1171.3 367.7M1171.3 367.7L1174.0 365.5M1205.9 319.1L1204.8 322.6M1204.8 322.6L1201.9 322.9M1201.9 322.9L1199.3 319.9M1225.7 325.1L1218.0 331.2M1213.7 322.1L1213.0 325.3M1213.0 325.3L1218.0 331.2M1204.8 322.6L1208.0 326.0M1213.0 325.3L1208.0 326.0M1168.8 380.3L1167.8 377.4M1168.8 380.3L1173.7 381.4M1167.8 377.4L1170.0 373.1M1173.7 381.4L1177.2 375.7M1177.2 375.7L1176.8 375.0M1176.8 375.0L1171.0 372.7M1170.0 373.1L1171.0 372.7M1164.1 376.7L1167.8 377.4M1166.4 382.9L1168.8 380.3M1175.2 385.7L1173.7 381.4M1165.8 371.3L1170.0 373.1M1185.8 378.9L1177.2 375.7M1187.6 369.0L1181.5 366.5M1179.2 367.7L1176.8 375.0M1171.3 367.7L1171.0 372.7M1163.1 410.5L1162.8 415.4M1162.8 415.4L1158.7 415.7M1165.9 432.8L1164.2 431.6M1164.2 431.6L1160.0 432.4M1236.9 525.7L1232.1 525.1M1232.1 525.1L1230.5 528.6M1225.7 511.0L1226.6 514.0M1234.6 516.6L1232.8 517.1M1226.6 514.0L1232.8 517.1M1232.1 525.1L1230.4 522.5M1232.8 517.1L1230.4 522.5M1201.9 322.9L1198.6 327.1M1198.6 327.1L1195.2 323.9M1226.7 343.4L1225.5 343.2M1218.0 331.2L1217.6 333.8M1225.5 343.2L1217.6 333.8M1164.2 431.6L1163.5 426.3M1163.5 426.3L1159.4 427.0M1222.9 519.2L1220.5 523.1M1222.9 519.2L1223.7 519.0M1223.7 519.0L1227.2 522.6M1225.3 525.9L1227.2 522.6M1218.0 516.8L1215.8 520.2M1218.0 516.8L1222.9 519.2M1217.4 514.6L1218.0 516.8M1226.6 514.0L1223.7 519.0M1230.4 522.5L1227.2 522.6M1208.0 326.0L1204.8 332.1M1217.6 333.8L1209.8 337.1M1209.8 337.1L1204.8 332.1M1198.6 327.1L1203.2 332.1M1203.2 332.1L1204.8 332.1M1194.0 333.3L1194.2 330.4M1198.6 327.1L1194.2 330.4M1194.0 333.3L1197.9 336.8M1203.2 332.1L1197.9 336.8M1162.4 421.2L1164.4 425.0M1162.4 421.2L1164.3 417.2M1169.8 417.3L1170.2 424.6M1169.8 417.3L1164.3 417.2M1170.2 424.6L1164.4 425.0M1158.9 421.2L1162.4 421.2M1163.5 426.3L1164.4 425.0M1162.8 415.4L1164.3 417.2M1172.3 426.6L1170.2 424.6M1171.1 415.8L1169.8 417.3M1188.0 339.3L1188.6 339.2M1188.6 339.2L1190.2 334.5M1190.2 334.5L1187.7 332.3M1190.2 334.5L1194.0 333.3M1194.2 330.4L1191.4 328.0M1188.6 339.2L1192.9 341.9M1197.9 336.8L1197.7 340.0M1192.9 341.9L1197.7 340.0M1184.8 345.5L1188.9 348.7M1192.9 341.9L1191.2 348.1M1188.9 348.7L1191.2 348.1M1180.5 351.9L1185.9 354.3M1188.9 348.7L1185.9 354.3M1181.5 360.7L1186.6 357.1M1186.6 357.1L1185.9 354.3M1192.0 366.6L1192.3 360.2M1186.6 357.1L1192.3 360.2M1214.6 349.9L1207.8 343.5M1214.6 349.9L1213.3 358.0M1199.0 355.0L1198.7 352.8M1199.0 355.0L1207.0 359.8M1198.7 352.8L1202.7 344.7M1207.8 343.5L1202.7 344.7M1213.3 358.0L1207.0 359.8M1225.5 343.2L1214.6 349.9M1209.8 337.1L1207.8 343.5M1225.6 367.6L1213.3 358.0M1191.2 348.1L1198.7 352.8M1192.3 360.2L1199.0 355.0M1202.2 373.0L1207.0 359.8M1197.7 340.0L1202.7 344.7" stroke="#585858" stroke-width="1.2" fill="none" stroke-linecap="round"/>
<circle cx="1286.75" cy="413.5" r="128.4" fill="none" stroke="#7c7c7c" stroke-width="1.2"/>
<text font-family="Liberation Serif, Times New Roman, serif" font-size="23" font-style="italic" transform="translate(1078.83,262.1) scale(1.1,1.03)">k</text>
<text font-family="Liberation Serif, Times New Roman, serif" font-size="23" transform="translate(1092.76,262.1) scale(1.09,1.03)">=</text>
<text font-family="Liberation Serif, Times New Roman, serif" font-size="23" transform="translate(1111.83,262.1) scale(1.0,1.03)">-0.0570</text>
<text font-family="Liberation Serif, Times New Roman, serif" font-size="23" font-style="italic" transform="translate(1356.42,261.8) scale(1.1,1.03)">k</text>
<text font-family="Liberation Serif, Times New Roman, serif" font-size="23" transform="translate(1370.36,261.8) scale(1.09,1.03)">=</text>
<text font-family="Liberation Serif, Times New Roman, serif" font-size="23" transform="translate(1389.42,261.8) scale(1.0,1.03)">0</text>
<text font-family="Liberation Serif, Times New Roman, serif" font-size="23" font-style="italic" transform="translate(1629.12,261.9) scale(1.1,1.03)">k</text>
<text font-family="Liberation Serif, Times New Roman, serif" font-size="23" transform="translate(1643.06,261.9) scale(1.09,1.03)">=</text>
<text font-family="Liberation Serif, Times New Roman, serif" font-size="23" transform="translate(1662.12,261.9) scale(1.0,1.03)">0.0327</text>
<text font-family="Liberation Serif, Times New Roman, serif" font-size="23" font-style="italic" transform="translate(1077.42,539.2) scale(1.1,1.03)">k</text>
<text font-family="Liberation Serif, Times New Roman, serif" font-size="23" transform="translate(1091.36,539.2) scale(1.09,1.03)">=</text>
<text font-family="Liberation Serif, Times New Roman, serif" font-size="23" transform="translate(1110.42,539.2) scale(1.0,1.03)">0.1055</text>
<text font-family="Liberation Serif, Times New Roman, serif" font-size="23" font-style="italic" transform="translate(1357.42,539.2) scale(1.1,1.03)">k</text>
<text font-family="Liberation Serif, Times New Roman, serif" font-size="23" transform="translate(1371.36,539.2) scale(1.09,1.03)">=</text>
<text font-family="Liberation Serif, Times New Roman, serif" font-size="23" transform="translate(1390.42,539.2) scale(1.0,1.03)">0.1669</text>
<rect x="132.7" y="487.7" width="9.4" height="9.4" fill="#0000FF"/>
<rect x="156.6" y="482.7" width="9.4" height="9.4" fill="#0000FF"/>
<rect x="182.0" y="474.6" width="9.4" height="9.4" fill="#0000FF"/>
<rect x="210.5" y="468.8" width="9.4" height="9.4" fill="#0000FF"/>
<rect x="242.5" y="462.7" width="9.4" height="9.4" fill="#0000FF"/>
<rect x="277.5" y="454.2" width="9.4" height="9.4" fill="#0000FF"/>
<rect x="316.0" y="445.5" width="9.4" height="9.4" fill="#0000FF"/>
<rect x="358.6" y="437.7" width="9.4" height="9.4" fill="#0000FF"/>
<rect x="405.7" y="427.2" width="9.4" height="9.4" fill="#0000FF"/>
<rect x="457.8" y="414.5" width="9.4" height="9.4" fill="#0000FF"/>
<rect x="515.4" y="402.4" width="9.4" height="9.4" fill="#0000FF"/>
<rect x="579.0" y="387.8" width="9.4" height="9.4" fill="#0000FF"/>
<rect x="649.5" y="372.0" width="9.4" height="9.4" fill="#0000FF"/>
<rect x="727.2" y="356.1" width="9.4" height="9.4" fill="#0000FF"/>
<rect x="813.0" y="336.5" width="9.4" height="9.4" fill="#0000FF"/>
<polygon points="137.6,400.5 140.0,406.6 146.4,406.9 141.4,411.0 143.1,417.3 137.6,413.8 132.1,417.3 133.8,411.0 128.8,406.9 135.2,406.6" fill="#8000FF"/>
<polygon points="196.7,400.5 199.1,406.6 205.5,406.9 200.5,411.0 202.2,417.3 196.7,413.8 191.2,417.3 192.9,411.0 187.9,406.9 194.3,406.6" fill="#8000FF"/>
<polygon points="256.3,400.5 258.7,406.6 265.1,406.9 260.1,411.0 261.8,417.3 256.3,413.8 250.8,417.3 252.5,411.0 247.5,406.9 253.9,406.6" fill="#8000FF"/>
<polygon points="315.9,400.5 318.3,406.6 324.7,406.9 319.7,411.0 321.4,417.3 315.9,413.8 310.4,417.3 312.1,411.0 307.1,406.9 313.5,406.6" fill="#8000FF"/>
<polygon points="375.4,400.5 377.8,406.6 384.2,406.9 379.2,411.0 380.9,417.3 375.4,413.8 369.9,417.3 371.6,411.0 366.6,406.9 373.0,406.6" fill="#8000FF"/>
<polygon points="435.3,400.5 437.7,406.6 444.1,406.9 439.1,411.0 440.8,417.3 435.3,413.8 429.8,417.3 431.5,411.0 426.5,406.9 432.9,406.6" fill="#8000FF"/>
<polygon points="494.4,400.5 496.8,406.6 503.2,406.9 498.2,411.0 499.9,417.3 494.4,413.8 488.9,417.3 490.6,411.0 485.6,406.9 492.0,406.6" fill="#8000FF"/>
<polygon points="553.7,400.5 556.1,406.6 562.5,406.9 557.5,411.0 559.2,417.3 553.7,413.8 548.2,417.3 549.9,411.0 544.9,406.9 551.3,406.6" fill="#8000FF"/>
<polygon points="613.3,400.5 615.7,406.6 622.1,406.9 617.1,411.0 618.8,417.3 613.3,413.8 607.8,417.3 609.5,411.0 604.5,406.9 610.9,406.6" fill="#8000FF"/>
<polygon points="673.2,400.5 675.6,406.6 682.0,406.9 677.0,411.0 678.7,417.3 673.2,413.8 667.7,417.3 669.4,411.0 664.4,406.9 670.8,406.6" fill="#8000FF"/>
<polygon points="732.2,400.5 734.6,406.6 741.0,406.9 736.0,411.0 737.7,417.3 732.2,413.8 726.7,417.3 728.4,411.0 723.4,406.9 729.8,406.6" fill="#8000FF"/>
<polygon points="792.0,400.5 794.4,406.6 800.8,406.9 795.8,411.0 797.5,417.3 792.0,413.8 786.5,417.3 788.2,411.0 783.2,406.9 789.6,406.6" fill="#8000FF"/>
<polygon points="131.4,351.7 144.0,351.7 137.7,340.9" fill="#008000"/>
<polygon points="216.4,368.5 229.0,368.5 222.7,357.7" fill="#008000"/>
<polygon points="296.8,375.6 309.4,375.6 303.1,364.8" fill="#008000"/>
<polygon points="372.3,384.7 384.9,384.7 378.6,373.9" fill="#008000"/>
<polygon points="443.8,391.6 456.4,391.6 450.1,380.8" fill="#008000"/>
<polygon points="510.7,402.2 523.3,402.2 517.0,391.4" fill="#008000"/>
<polygon points="573.7,410.0 586.3,410.0 580.0,399.2" fill="#008000"/>
<polygon points="633.1,418.4 645.7,418.4 639.4,407.6" fill="#008000"/>
<polygon points="689.0,425.4 701.6,425.4 695.3,414.6" fill="#008000"/>
<polygon points="742.1,430.9 754.7,430.9 748.4,420.1" fill="#008000"/>
<polygon points="791.8,438.4 804.4,438.4 798.1,427.6" fill="#008000"/>
<circle cx="137.6" cy="274.7" r="7.0" fill="none" stroke="#000" stroke-width="1.7"/>
<circle cx="268.8" cy="308.9" r="7.0" fill="none" stroke="#000" stroke-width="1.7"/>
<circle cx="356.5" cy="333.0" r="7.0" fill="none" stroke="#000" stroke-width="1.7"/>
<circle cx="447.4" cy="355.7" r="7.0" fill="none" stroke="#000" stroke-width="1.7"/>
<circle cx="524.8" cy="377.6" r="7.0" fill="none" stroke="#000" stroke-width="1.7"/>
<circle cx="592.6" cy="395.7" r="7.0" fill="none" stroke="#000" stroke-width="1.7"/>
<circle cx="654.5" cy="411.4" r="7.0" fill="none" stroke="#000" stroke-width="1.7"/>
<circle cx="710.6" cy="425.3" r="7.0" fill="none" stroke="#000" stroke-width="1.7"/>
<circle cx="760.7" cy="438.5" r="7.0" fill="none" stroke="#000" stroke-width="1.7"/>
<circle cx="804.2" cy="450.8" r="7.0" fill="none" stroke="#000" stroke-width="1.7"/>
<polygon points="137.3,161.4 143.9,168.0 137.3,174.6 130.7,168.0" fill="#FF00FF"/>
<polygon points="292.1,231.7 298.7,238.3 292.1,244.9 285.5,238.3" fill="#FF00FF"/>
<polygon points="418.9,293.8 425.5,300.4 418.9,307.0 412.3,300.4" fill="#FF00FF"/>
<polygon points="522.1,331.1 528.7,337.7 522.1,344.3 515.5,337.7" fill="#FF00FF"/>
<polygon points="607.0,368.7 613.6,375.3 607.0,381.9 600.4,375.3" fill="#FF00FF"/>
<polygon points="676.3,396.1 682.9,402.7 676.3,409.3 669.7,402.7" fill="#FF00FF"/>
<polygon points="733.6,419.6 740.2,426.2 733.6,432.8 727.0,426.2" fill="#FF00FF"/>
<polygon points="778.8,441.4 785.4,448.0 778.8,454.6 772.2,448.0" fill="#FF00FF"/>
<polygon points="131.4,32.1 144.2,32.1 137.8,43.6" fill="#FF0000"/>
<polygon points="330.1,162.8 342.9,162.8 336.5,174.3" fill="#FF0000"/>
<polygon points="476.8,266.9 489.6,266.9 483.2,278.4" fill="#FF0000"/>
<polygon points="585.6,334.2 598.4,334.2 592.0,345.8" fill="#FF0000"/>
<polygon points="665.7,389.1 678.5,389.1 672.1,400.6" fill="#FF0000"/>
<polygon points="725.5,424.2 738.3,424.2 731.9,435.8" fill="#FF0000"/>
<polygon points="769.1,453.2 781.9,453.2 775.5,464.8" fill="#FF0000"/>
<polygon points="801.8,474.9 814.6,474.9 808.2,486.4" fill="#FF0000"/>
<path d="M134.3 494.43L821.3 342.95 M134.3 410.20L821.3 410.20 M134.3 348.57L821.3 438.95 M134.3 273.82L821.3 457.01 M134.3 166.56L821.3 466.18 M134.3 34.31L821.3 489.85" stroke="#7a7a7a" stroke-width="1.3" fill="none"/>
<g stroke="#000" stroke-width="2.8" fill="none" stroke-linecap="square">
<path d="M99.5 10 H857.2 V540.5 H99.5 Z"/>
</g>
<path d="M86.4 540.5H99.5 M92.7 502.6H99.5 M86.4 464.7H99.5 M92.7 426.8H99.5 M86.4 388.9H99.5 M92.7 351.0H99.5 M86.4 313.1H99.5 M92.7 275.2H99.5 M86.4 237.4H99.5 M92.7 199.5H99.5 M86.4 161.6H99.5 M92.7 123.7H99.5 M86.4 85.8H99.5 M92.7 47.9H99.5 M86.4 10.0H99.5 M137.6 540.5V552.6 M186.2 540.5V547.2 M234.8 540.5V552.6 M283.4 540.5V547.2 M332.0 540.5V552.6 M380.6 540.5V547.2 M429.2 540.5V552.6 M477.8 540.5V547.2 M526.3 540.5V552.6 M574.9 540.5V547.2 M623.5 540.5V552.6 M672.1 540.5V547.2 M720.7 540.5V552.6 M769.3 540.5V547.2 M817.9 540.5V552.6" stroke="#000" stroke-width="2.5" fill="none" stroke-linecap="round"/>
<g font-family="Liberation Serif, Times New Roman, serif" font-size="28.6" fill="#000">
<text transform="translate(78.8,549.1) scale(1,1.02)" text-anchor="end">0</text>
<text transform="translate(78.8,473.3) scale(1,1.02)" text-anchor="end">1</text>
<text transform="translate(78.8,397.5) scale(1,1.02)" text-anchor="end">2</text>
<text transform="translate(78.8,321.7) scale(1,1.02)" text-anchor="end">3</text>
<text transform="translate(78.8,246.0) scale(1,1.02)" text-anchor="end">4</text>
<text transform="translate(78.8,170.2) scale(1,1.02)" text-anchor="end">5</text>
<text transform="translate(78.8,94.4) scale(1,1.02)" text-anchor="end">6</text>
<text transform="translate(78.8,18.6) scale(1,1.02)" text-anchor="end">7</text>
<text transform="translate(138.2,583.6) scale(1,1.02)" text-anchor="middle">0</text>
<text transform="translate(235.4,583.6) scale(1,1.02)" text-anchor="middle">5</text>
<text transform="translate(332.6,583.6) scale(1,1.02)" text-anchor="middle">10</text>
<text transform="translate(429.8,583.6) scale(1,1.02)" text-anchor="middle">15</text>
<text transform="translate(526.9,583.6) scale(1,1.02)" text-anchor="middle">20</text>
<text transform="translate(624.1,583.6) scale(1,1.02)" text-anchor="middle">25</text>
<text transform="translate(721.3,583.6) scale(1,1.02)" text-anchor="middle">30</text>
<text transform="translate(818.5,583.6) scale(1,1.02)" text-anchor="middle">35</text>
</g>
<text font-family="Liberation Serif, Times New Roman, serif" font-size="35.4" transform="translate(280.8,636.5) scale(1,1.03)">Distance to centerline (mm)</text>
<text font-family="Liberation Serif, Times New Roman, serif" font-size="36.3" transform="translate(25.5,399) rotate(-90) scale(1,1.03)">Cell size, <tspan font-style="italic">r</tspan> (mm)</text>
<rect x="654.4" y="19.1" width="188.0" height="197.6" fill="#fff" stroke="#000" stroke-width="1.5"/>
<rect x="677.4" y="41.0" width="9.7" height="9.7" fill="#0000FF"/>
<text font-family="Liberation Serif, Times New Roman, serif" font-size="24.2" font-style="italic" transform="translate(716.19,53.7) scale(1.12,1.03)">k</text>
<text font-family="Liberation Serif, Times New Roman, serif" font-size="24.2" transform="translate(732.74,53.7) scale(1.17,1.03)">=</text>
<text font-family="Liberation Serif, Times New Roman, serif" font-size="24.2" transform="translate(753.19,53.7) scale(1.025,1.03)">-0.0570</text>
<polygon points="682.2,67.5 684.6,73.6 691.0,73.9 686.0,78.0 687.7,84.3 682.2,80.8 676.7,84.3 678.4,78.0 673.4,73.9 679.8,73.6" fill="#8000FF"/>
<text font-family="Liberation Serif, Times New Roman, serif" font-size="24.2" font-style="italic" transform="translate(716.19,84.5) scale(1.12,1.03)">k</text>
<text font-family="Liberation Serif, Times New Roman, serif" font-size="24.2" transform="translate(732.74,84.5) scale(1.17,1.03)">=</text>
<text font-family="Liberation Serif, Times New Roman, serif" font-size="24.2" transform="translate(753.19,84.5) scale(1.025,1.03)">0</text>
<polygon points="675.9,111.3 688.5,111.3 682.2,100.5" fill="#008000"/>
<text font-family="Liberation Serif, Times New Roman, serif" font-size="24.2" font-style="italic" transform="translate(716.19,115.1) scale(1.12,1.03)">k</text>
<text font-family="Liberation Serif, Times New Roman, serif" font-size="24.2" transform="translate(732.74,115.1) scale(1.17,1.03)">=</text>
<text font-family="Liberation Serif, Times New Roman, serif" font-size="24.2" transform="translate(753.19,115.1) scale(1.025,1.03)">0.0327</text>
<circle cx="682.2" cy="137.8" r="7.0" fill="none" stroke="#000" stroke-width="1.7"/>
<text font-family="Liberation Serif, Times New Roman, serif" font-size="24.2" font-style="italic" transform="translate(716.19,146.0) scale(1.12,1.03)">k</text>
<text font-family="Liberation Serif, Times New Roman, serif" font-size="24.2" transform="translate(732.74,146.0) scale(1.17,1.03)">=</text>
<text font-family="Liberation Serif, Times New Roman, serif" font-size="24.2" transform="translate(753.19,146.0) scale(1.025,1.03)">0.0662</text>
<polygon points="682.2,162.4 688.8,169.0 682.2,175.6 675.6,169.0" fill="#FF00FF"/>
<text font-family="Liberation Serif, Times New Roman, serif" font-size="24.2" font-style="italic" transform="translate(716.19,176.4) scale(1.12,1.03)">k</text>
<text font-family="Liberation Serif, Times New Roman, serif" font-size="24.2" transform="translate(732.74,176.4) scale(1.17,1.03)">=</text>
<text font-family="Liberation Serif, Times New Roman, serif" font-size="24.2" transform="translate(753.19,176.4) scale(1.025,1.03)">0.1055</text>
<polygon points="675.8,195.4 688.6,195.4 682.2,206.9" fill="#FF0000"/>
<text font-family="Liberation Serif, Times New Roman, serif" font-size="24.2" font-style="italic" transform="translate(716.19,207.1) scale(1.12,1.03)">k</text>
<text font-family="Liberation Serif, Times New Roman, serif" font-size="24.2" transform="translate(732.74,207.1) scale(1.17,1.03)">=</text>
<text font-family="Liberation Serif, Times New Roman, serif" font-size="24.2" transform="translate(753.19,207.1) scale(1.025,1.03)">0.1669</text>
</svg>
</body></html>
